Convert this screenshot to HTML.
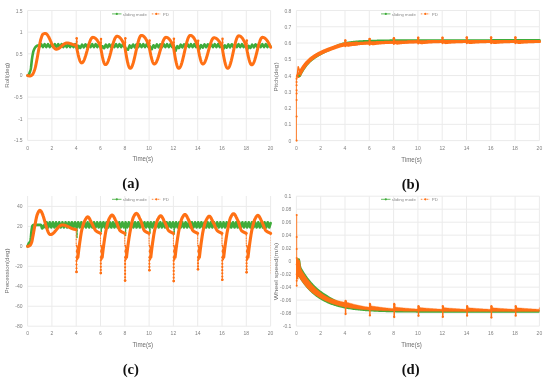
<!DOCTYPE html>
<html><head><meta charset="utf-8"><title>Figure</title>
<style>html,body{margin:0;padding:0;background:#fff;}svg{display:block;}</style></head>
<body><svg width="550" height="381" viewBox="0 0 550 381" font-family="Liberation Sans, Arial, sans-serif">
<rect width="550" height="381" fill="#fff"/>
<line x1="27.6" y1="10.5" x2="270.6" y2="10.5" stroke="#ebebeb" stroke-width="1"/>
<line x1="27.6" y1="32.15" x2="270.6" y2="32.15" stroke="#ebebeb" stroke-width="1"/>
<line x1="27.6" y1="53.8" x2="270.6" y2="53.8" stroke="#ebebeb" stroke-width="1"/>
<line x1="27.6" y1="75.45" x2="270.6" y2="75.45" stroke="#ebebeb" stroke-width="1"/>
<line x1="27.6" y1="97.1" x2="270.6" y2="97.1" stroke="#ebebeb" stroke-width="1"/>
<line x1="27.6" y1="118.75" x2="270.6" y2="118.75" stroke="#ebebeb" stroke-width="1"/>
<line x1="27.6" y1="140.4" x2="270.6" y2="140.4" stroke="#ebebeb" stroke-width="1"/>
<line x1="27.6" y1="10.5" x2="27.6" y2="140.4" stroke="#ebebeb" stroke-width="1"/>
<line x1="51.9" y1="10.5" x2="51.9" y2="140.4" stroke="#ebebeb" stroke-width="1"/>
<line x1="76.2" y1="10.5" x2="76.2" y2="140.4" stroke="#ebebeb" stroke-width="1"/>
<line x1="100.5" y1="10.5" x2="100.5" y2="140.4" stroke="#ebebeb" stroke-width="1"/>
<line x1="124.8" y1="10.5" x2="124.8" y2="140.4" stroke="#ebebeb" stroke-width="1"/>
<line x1="149.1" y1="10.5" x2="149.1" y2="140.4" stroke="#ebebeb" stroke-width="1"/>
<line x1="173.4" y1="10.5" x2="173.4" y2="140.4" stroke="#ebebeb" stroke-width="1"/>
<line x1="197.7" y1="10.5" x2="197.7" y2="140.4" stroke="#ebebeb" stroke-width="1"/>
<line x1="222" y1="10.5" x2="222" y2="140.4" stroke="#ebebeb" stroke-width="1"/>
<line x1="246.3" y1="10.5" x2="246.3" y2="140.4" stroke="#ebebeb" stroke-width="1"/>
<line x1="270.6" y1="10.5" x2="270.6" y2="140.4" stroke="#ebebeb" stroke-width="1"/>
<text x="22.6" y="12.5" font-size="5.0" text-anchor="end" fill="#808080">1.5</text>
<text x="22.6" y="34.15" font-size="5.0" text-anchor="end" fill="#808080">1</text>
<text x="22.6" y="55.8" font-size="5.0" text-anchor="end" fill="#808080">0.5</text>
<text x="22.6" y="77.45" font-size="5.0" text-anchor="end" fill="#808080">0</text>
<text x="22.6" y="99.1" font-size="5.0" text-anchor="end" fill="#808080">-0.5</text>
<text x="22.6" y="120.75" font-size="5.0" text-anchor="end" fill="#808080">-1</text>
<text x="22.6" y="142.4" font-size="5.0" text-anchor="end" fill="#808080">-1.5</text>
<text x="27.6" y="149.5" font-size="5.0" text-anchor="middle" fill="#808080">0</text>
<text x="51.9" y="149.5" font-size="5.0" text-anchor="middle" fill="#808080">2</text>
<text x="76.2" y="149.5" font-size="5.0" text-anchor="middle" fill="#808080">4</text>
<text x="100.5" y="149.5" font-size="5.0" text-anchor="middle" fill="#808080">6</text>
<text x="124.8" y="149.5" font-size="5.0" text-anchor="middle" fill="#808080">8</text>
<text x="149.1" y="149.5" font-size="5.0" text-anchor="middle" fill="#808080">10</text>
<text x="173.4" y="149.5" font-size="5.0" text-anchor="middle" fill="#808080">12</text>
<text x="197.7" y="149.5" font-size="5.0" text-anchor="middle" fill="#808080">14</text>
<text x="222" y="149.5" font-size="5.0" text-anchor="middle" fill="#808080">16</text>
<text x="246.3" y="149.5" font-size="5.0" text-anchor="middle" fill="#808080">18</text>
<text x="270.6" y="149.5" font-size="5.0" text-anchor="middle" fill="#808080">20</text>
<text x="142.8" y="161.4" font-size="6.8" text-anchor="middle" fill="#6e6e6e" textLength="20.6" lengthAdjust="spacingAndGlyphs">Time(s)</text>
<text x="0" y="0" font-size="5.7" text-anchor="middle" fill="#6e6e6e" transform="translate(9,75.3) rotate(-90)" textLength="24.8" lengthAdjust="spacingAndGlyphs">Roll(deg)</text>
<line x1="112" y1="13.9" x2="121.5" y2="13.9" stroke="#3fac3a" stroke-width="0.8"/>
<circle cx="116.8" cy="13.9" r="1.1" fill="#3fac3a"/>
<text x="122.8" y="15.6" font-size="4.4" text-anchor="start" fill="#8a8a8a" textLength="24" lengthAdjust="spacingAndGlyphs">sliding mode</text>
<line x1="151.8" y1="13.9" x2="161" y2="13.9" stroke="#ff7014" stroke-width="0.8" stroke-dasharray="1.6,1.4"/>
<circle cx="156.4" cy="13.9" r="1.1" fill="#ff7014"/>
<text x="162.8" y="15.6" font-size="4.4" text-anchor="start" fill="#8a8a8a">PD</text>
<polyline points="27.6,75.45 27.84,75.4 28.09,75.28 28.33,75.09 28.57,74.85 28.82,74.58 29.06,74.17 29.3,73.59 29.54,72.98 29.79,72.34 30.03,71.66 30.27,70.88 30.52,69.99 30.76,68.96 31,67.49 31.25,65.5 31.49,63.25 31.73,60.99 31.97,58.97 32.22,57.36 32.46,55.86 32.7,54.44 32.95,53.16 33.19,52.06 33.43,51.2 33.68,50.51 33.92,49.88 34.16,49.3 34.4,48.78 34.65,48.31 34.89,47.9 35.13,47.54 35.38,47.22 35.62,46.96 35.86,46.71 36.11,46.47 36.35,46.25 36.59,46.05 36.83,45.88 37.08,45.74 37.32,45.64 37.56,45.57 37.81,45.53 38.05,45.49 38.29,45.46 38.54,45.43 38.78,45.4 39.02,45.38 39.26,45.37 39.51,45.36 39.75,45.36 39.99,46.29 40.24,45.87 40.48,45.45 40.72,45.03 40.97,44.61 41.21,44.19 41.45,44.61 41.69,45.03 41.94,45.45 42.18,45.87 42.42,46.29 42.67,46.71 42.91,47.13 43.15,46.71 43.4,46.29 43.64,45.87 43.88,45.45 44.12,45.03 44.37,44.61 44.61,44.19 44.85,44.61 45.1,45.03 45.34,45.45 45.58,45.87 45.83,46.29 46.07,46.71 46.31,47.13 46.55,46.71 46.8,46.29 47.04,45.87 47.28,45.45 47.53,45.03 47.77,44.61 48.01,44.19 48.26,44.61 48.5,45.03 48.74,45.45 48.98,45.87 49.23,46.29 49.47,46.71 49.71,47.13 49.96,46.71 50.2,46.29 50.44,45.87 50.69,45.45 50.93,45.03 51.17,44.61 51.41,44.19 51.66,44.61 51.9,45.03 52.14,45.45 52.39,45.87 52.63,46.29 52.87,46.71 53.12,47.13 53.36,46.71 53.6,46.29 53.84,45.87 54.09,45.45 54.33,45.03 54.57,44.61 54.82,44.19 55.06,44.61 55.3,45.03 55.55,45.45 55.79,45.87 56.03,46.29 56.27,46.71 56.52,47.13 56.76,46.71 57,46.29 57.25,45.87 57.49,45.45 57.73,45.03 57.98,44.61 58.22,44.19 58.46,44.61 58.7,45.03 58.95,45.45 59.19,45.87 59.43,46.29 59.68,46.71 59.92,47.13 60.16,46.71 60.41,46.29 60.65,45.87 60.89,45.45 61.13,45.03 61.38,44.61 61.62,44.19 61.86,44.61 62.11,45.03 62.35,45.45 62.59,45.87 62.84,46.29 63.08,46.71 63.32,47.13 63.56,46.71 63.81,46.29 64.05,45.87 64.29,45.45 64.54,45.03 64.78,44.61 65.02,44.19 65.27,44.61 65.51,45.03 65.75,45.45 65.99,45.87 66.24,46.29 66.48,46.71 66.72,47.13 66.97,46.71 67.21,46.29 67.45,45.87 67.7,45.45 67.94,45.03 68.18,44.61 68.42,44.19 68.67,44.61 68.91,45.03 69.15,45.45 69.4,45.87 69.64,46.29 69.88,46.71 70.12,47.13 70.37,46.71 70.61,46.29 70.85,45.87 71.1,45.45 71.34,45.03 71.58,44.61 71.83,44.19 72.07,44.61 72.31,45.03 72.56,45.45 72.8,45.87 73.04,46.29 73.28,46.71 73.53,47.13 73.77,46.71 74.01,46.29 74.26,45.87 74.5,45.45 74.74,45.03 74.99,44.61 75.23,44.19 75.47,44.61 75.71,45.03 75.96,45.45 76.2,45.87 76.44,46.72 76.69,47.58 76.93,48.43 77.17,48.44 77.42,48.46 77.66,48.47 77.9,47.8 78.14,47.16 78.39,46.53 78.63,45.93 78.87,46.18 79.12,46.45 79.36,46.74 79.6,47.04 79.84,47.35 80.09,47.67 80.33,48 80.57,47.49 80.82,47 81.06,46.51 81.3,46.03 81.55,45.55 81.79,45.08 82.03,44.62 82.28,45 82.52,45.38 82.76,45.77 83,46.16 83.25,46.55 83.49,46.95 83.73,47.35 83.98,46.9 84.22,46.47 84.46,46.03 84.71,45.59 84.95,45.16 85.19,44.73 85.43,44.29 85.68,44.7 85.92,45.12 86.16,45.53 86.41,45.94 86.65,46.35 86.89,46.77 87.14,47.18 87.38,46.76 87.62,46.33 87.86,45.91 88.11,45.48 88.35,45.06 88.59,44.64 88.84,44.21 89.08,44.63 89.32,45.05 89.57,45.47 89.81,45.89 90.05,46.31 90.29,46.73 90.54,47.14 90.78,46.72 91.02,46.3 91.27,45.88 91.51,45.46 91.75,45.04 92,44.62 92.24,44.19 92.48,44.61 92.72,45.03 92.97,45.45 93.21,45.87 93.45,46.29 93.7,46.71 93.94,47.13 94.18,46.71 94.43,46.29 94.67,45.87 94.91,45.45 95.15,45.03 95.4,44.61 95.64,44.19 95.88,44.61 96.13,45.03 96.37,45.45 96.61,45.87 96.86,46.29 97.1,46.71 97.34,47.13 97.58,46.71 97.83,46.29 98.07,45.87 98.31,45.45 98.56,45.03 98.8,44.61 99.04,44.19 99.29,44.61 99.53,45.03 99.77,45.45 100.01,45.87 100.26,46.29 100.5,46.71 100.74,47.56 100.99,47.58 101.23,47.59 101.47,47.6 101.72,47.61 101.96,47.63 102.2,46.96 102.44,46.31 102.69,46.53 102.93,46.77 103.17,47.03 103.42,47.3 103.66,47.58 103.9,47.88 104.15,48.19 104.39,47.67 104.63,47.16 104.87,46.65 105.12,46.16 105.36,45.67 105.6,45.19 105.85,44.71 106.09,45.08 106.33,45.46 106.58,45.84 106.82,46.22 107.06,46.61 107.3,47 107.55,47.39 107.79,46.95 108.03,46.5 108.28,46.06 108.52,45.62 108.76,45.19 109,44.75 109.25,44.32 109.49,44.73 109.73,45.13 109.98,45.55 110.22,45.96 110.46,46.37 110.71,46.78 110.95,47.2 111.19,46.77 111.44,46.34 111.68,45.92 111.92,45.49 112.16,45.07 112.41,44.64 112.65,44.22 112.89,44.64 113.14,45.05 113.38,45.47 113.62,45.89 113.87,46.31 114.11,46.73 114.35,47.15 114.59,46.73 114.84,46.3 115.08,45.88 115.32,45.46 115.57,45.04 115.81,44.62 116.05,44.2 116.3,44.62 116.54,45.04 116.78,45.46 117.02,45.88 117.27,46.3 117.51,46.72 117.75,47.14 118,46.71 118.24,46.29 118.48,45.87 118.73,45.45 118.97,45.03 119.21,44.61 119.45,44.19 119.7,44.61 119.94,45.03 120.18,45.45 120.43,45.87 120.67,46.29 120.91,46.71 121.16,47.13 121.4,46.71 121.64,46.29 121.88,45.87 122.13,45.45 122.37,45.03 122.61,44.61 122.86,44.19 123.1,44.61 123.34,45.03 123.59,45.45 123.83,45.87 124.07,46.29 124.31,46.71 124.56,47.13 124.8,46.71 125.04,47.16 125.29,47.6 125.53,48.05 125.77,48.49 126.02,48.94 126.26,49.38 126.5,49.31 126.74,49.28 126.99,49.3 127.23,49.35 127.47,49.44 127.72,49.56 127.96,49.71 128.2,49.05 128.45,48.4 128.69,47.78 128.93,47.18 129.17,46.59 129.42,46.02 129.66,45.47 129.9,45.77 130.15,46.08 130.39,46.4 130.63,46.73 130.88,47.07 131.12,47.41 131.36,47.77 131.6,47.29 131.85,46.81 132.09,46.34 132.33,45.88 132.58,45.41 132.82,44.96 133.06,44.5 133.31,44.89 133.55,45.29 133.79,45.68 134.03,46.08 134.28,46.48 134.52,46.88 134.76,47.29 135.01,46.85 135.25,46.42 135.49,45.99 135.74,45.55 135.98,45.12 136.22,44.69 136.46,44.27 136.71,44.68 136.95,45.09 137.19,45.51 137.44,45.92 137.68,46.34 137.92,46.75 138.17,47.17 138.41,46.75 138.65,46.32 138.89,45.9 139.14,45.48 139.38,45.05 139.62,44.63 139.87,44.21 140.11,44.63 140.35,45.04 140.6,45.46 140.84,45.88 141.08,46.3 141.32,46.72 141.57,47.14 141.81,46.72 142.05,46.3 142.3,45.88 142.54,45.46 142.78,45.03 143.03,44.61 143.27,44.19 143.51,44.61 143.75,45.03 144,45.45 144.24,45.87 144.48,46.29 144.73,46.71 144.97,47.13 145.21,46.71 145.46,46.29 145.7,45.87 145.94,45.45 146.18,45.03 146.43,44.61 146.67,44.19 146.91,44.61 147.16,45.03 147.4,45.45 147.64,45.87 147.89,46.29 148.13,46.71 148.37,47.13 148.61,46.71 148.86,46.29 149.1,45.87 149.34,46.03 149.59,46.18 149.83,46.34 150.07,46.5 150.31,47.49 150.56,48.49 150.8,48.58 151.04,48.71 151.29,48.86 151.53,49.03 151.77,49.23 152.02,48.61 152.26,48.01 152.5,47.43 152.75,46.86 152.99,46.3 153.23,45.76 153.47,45.23 153.72,45.55 153.96,45.88 154.2,46.22 154.45,46.57 154.69,46.92 154.93,47.28 155.18,47.65 155.42,47.18 155.66,46.71 155.9,46.25 156.15,45.8 156.39,45.34 156.63,44.89 156.88,44.44 157.12,44.84 157.36,45.24 157.61,45.64 157.85,46.04 158.09,46.45 158.33,46.85 158.58,47.26 158.82,46.83 159.06,46.4 159.31,45.96 159.55,45.53 159.79,45.11 160.03,44.68 160.28,44.25 160.52,44.67 160.76,45.08 161.01,45.5 161.25,45.91 161.49,46.33 161.74,46.75 161.98,47.16 162.22,46.74 162.47,46.32 162.71,45.89 162.95,45.47 163.19,45.05 163.44,44.63 163.68,44.2 163.92,44.62 164.17,45.04 164.41,45.46 164.65,45.88 164.9,46.3 165.14,46.72 165.38,47.14 165.62,46.72 165.87,46.3 166.11,45.88 166.35,45.45 166.6,45.03 166.84,44.61 167.08,44.19 167.33,44.61 167.57,45.03 167.81,45.45 168.05,45.87 168.3,46.29 168.54,46.71 168.78,47.13 169.03,46.71 169.27,46.29 169.51,45.87 169.76,45.45 170,45.03 170.24,44.61 170.48,44.19 170.73,44.61 170.97,45.03 171.21,45.45 171.46,45.87 171.7,46.29 171.94,46.71 172.19,47.13 172.43,46.71 172.67,46.29 172.91,45.87 173.16,45.45 173.4,45.03 173.64,45.47 173.89,45.92 174.13,47.21 174.37,48.49 174.62,49.78 174.86,51.07 175.1,50.99 175.34,50.97 175.59,50.98 175.83,50.19 176.07,49.44 176.32,48.72 176.56,48.03 176.8,47.36 177.05,46.72 177.29,46.1 177.53,46.34 177.77,46.59 178.02,46.87 178.26,47.15 178.5,47.45 178.75,47.76 178.99,48.08 179.23,47.57 179.48,47.07 179.72,46.57 179.96,46.09 180.2,45.6 180.45,45.13 180.69,44.66 180.93,45.03 181.18,45.41 181.42,45.8 181.66,46.19 181.91,46.58 182.15,46.97 182.39,47.37 182.63,46.92 182.88,46.48 183.12,46.04 183.36,45.61 183.61,45.17 183.85,44.74 184.09,44.3 184.34,44.71 184.58,45.12 184.82,45.54 185.06,45.95 185.31,46.36 185.55,46.77 185.79,47.19 186.04,46.76 186.28,46.34 186.52,45.91 186.77,45.49 187.01,45.06 187.25,44.64 187.49,44.22 187.74,44.63 187.98,45.05 188.22,45.47 188.47,45.89 188.71,46.31 188.95,46.73 189.2,47.15 189.44,46.72 189.68,46.3 189.92,45.88 190.17,45.46 190.41,45.04 190.65,44.62 190.9,44.19 191.14,44.61 191.38,45.03 191.63,45.45 191.87,45.87 192.11,46.29 192.35,46.71 192.6,47.13 192.84,46.71 193.08,46.29 193.33,45.87 193.57,45.45 193.81,45.03 194.06,44.61 194.3,44.19 194.54,44.61 194.78,45.03 195.03,45.45 195.27,45.87 195.51,46.29 195.76,46.71 196,47.13 196.24,46.71 196.49,46.29 196.73,45.87 196.97,45.45 197.21,45.03 197.46,44.61 197.7,44.19 197.94,44.97 198.19,45.75 198.43,46.53 198.67,47.31 198.91,48.09 199.16,48.88 199.4,49.09 199.64,48.48 199.89,47.89 200.13,47.32 200.37,46.76 200.62,46.22 200.86,45.68 201.1,45.16 201.35,45.49 201.59,45.83 201.83,46.17 202.07,46.52 202.32,46.88 202.56,47.25 202.8,47.61 203.05,47.15 203.29,46.69 203.53,46.23 203.78,45.77 204.02,45.32 204.26,44.87 204.5,44.43 204.75,44.83 204.99,45.23 205.23,45.63 205.48,46.03 205.72,46.44 205.96,46.84 206.21,47.25 206.45,46.82 206.69,46.39 206.93,45.96 207.18,45.53 207.42,45.1 207.66,44.67 207.91,44.25 208.15,44.66 208.39,45.08 208.64,45.49 208.88,45.91 209.12,46.33 209.36,46.74 209.61,47.16 209.85,46.74 210.09,46.31 210.34,45.89 210.58,45.47 210.82,45.05 211.06,44.62 211.31,44.2 211.55,44.62 211.79,45.04 212.04,45.46 212.28,45.88 212.52,46.3 212.77,46.72 213.01,47.14 213.25,46.72 213.5,46.3 213.74,45.88 213.98,45.45 214.22,45.03 214.47,44.61 214.71,44.19 214.95,44.61 215.2,45.03 215.44,45.45 215.68,45.87 215.93,46.29 216.17,46.71 216.41,47.13 216.65,46.71 216.9,46.29 217.14,45.87 217.38,45.45 217.63,45.03 217.87,44.61 218.11,44.19 218.36,44.61 218.6,45.03 218.84,45.45 219.08,45.87 219.33,46.29 219.57,46.71 219.81,47.13 220.06,46.71 220.3,46.29 220.54,45.87 220.79,45.45 221.03,45.03 221.27,44.61 221.51,44.19 221.76,44.61 222,45.03 222.24,45.81 222.49,46.59 222.73,47.37 222.97,48.15 223.22,48.94 223.46,48.88 223.7,48.25 223.94,47.64 224.19,47.05 224.43,46.48 224.67,45.92 224.92,45.38 225.16,45.68 225.4,46 225.65,46.33 225.89,46.67 226.13,47.01 226.37,47.36 226.62,47.72 226.86,47.25 227.1,46.77 227.35,46.31 227.59,45.84 227.83,45.39 228.08,44.93 228.32,44.48 228.56,44.87 228.8,45.27 229.05,45.67 229.29,46.07 229.53,46.47 229.78,46.87 230.02,47.28 230.26,46.84 230.51,46.41 230.75,45.98 230.99,45.55 231.23,45.12 231.48,44.69 231.72,44.26 231.96,44.67 232.21,45.09 232.45,45.5 232.69,45.92 232.93,46.33 233.18,46.75 233.42,47.17 233.66,46.74 233.91,46.32 234.15,45.9 234.39,45.47 234.64,45.05 234.88,44.63 235.12,44.21 235.37,44.62 235.61,45.04 235.85,45.46 236.09,45.88 236.34,46.3 236.58,46.72 236.82,47.14 237.07,46.72 237.31,46.3 237.55,45.88 237.8,45.46 238.04,45.03 238.28,44.61 238.52,44.19 238.77,44.61 239.01,45.03 239.25,45.45 239.5,45.87 239.74,46.29 239.98,46.71 240.23,47.13 240.47,46.71 240.71,46.29 240.95,45.87 241.2,45.45 241.44,45.03 241.68,44.61 241.93,44.19 242.17,44.61 242.41,45.03 242.66,45.45 242.9,45.87 243.14,46.29 243.38,46.71 243.63,47.13 243.87,46.71 244.11,46.29 244.36,45.87 244.6,45.45 244.84,45.03 245.09,44.61 245.33,44.19 245.57,44.61 245.81,45.03 246.06,45.45 246.3,45.87 246.54,46.72 246.79,47.58 247.03,48.43 247.27,48.44 247.52,48.46 247.76,48.47 248,47.8 248.24,47.16 248.49,46.53 248.73,45.93 248.97,46.18 249.22,46.45 249.46,46.74 249.7,47.04 249.95,47.35 250.19,47.67 250.43,48 250.67,47.49 250.92,47 251.16,46.51 251.4,46.03 251.65,45.55 251.89,45.08 252.13,44.62 252.38,45 252.62,45.38 252.86,45.77 253.1,46.16 253.35,46.55 253.59,46.95 253.83,47.35 254.08,46.9 254.32,46.47 254.56,46.03 254.81,45.59 255.05,45.16 255.29,44.73 255.53,44.29 255.78,44.7 256.02,45.12 256.26,45.53 256.51,45.94 256.75,46.35 256.99,46.77 257.24,47.18 257.48,46.76 257.72,46.33 257.96,45.91 258.21,45.48 258.45,45.06 258.69,44.64 258.94,44.21 259.18,44.63 259.42,45.05 259.67,45.47 259.91,45.89 260.15,46.31 260.39,46.73 260.64,47.14 260.88,46.72 261.12,46.3 261.37,45.88 261.61,45.46 261.85,45.04 262.1,44.62 262.34,44.19 262.58,44.61 262.82,45.03 263.07,45.45 263.31,45.87 263.55,46.29 263.8,46.71 264.04,47.13 264.28,46.71 264.53,46.29 264.77,45.87 265.01,45.45 265.25,45.03 265.5,44.61 265.74,44.19 265.98,44.61 266.23,45.03 266.47,45.45 266.71,45.87 266.96,46.29 267.2,46.71 267.44,47.13 267.68,46.71 267.93,46.29 268.17,45.87 268.41,45.45 268.66,45.03 268.9,44.61 269.14,44.19 269.39,44.61 269.63,45.03 269.87,45.45 270.11,45.87 270.36,46.29 270.6,46.71" fill="none" stroke="#3fac3a" stroke-width="2.6" stroke-linejoin="round" stroke-linecap="round"/>
<polyline points="27.6,75.45 27.72,75.52 27.84,75.58 27.96,75.63 28.09,75.68 28.21,75.73 28.33,75.77 28.45,75.8 28.57,75.84 28.69,75.86 28.82,75.89 28.94,75.91 29.06,75.92 29.18,75.94 29.3,75.95 29.42,75.95 29.54,75.96 29.67,75.96 29.79,75.97 29.91,75.97 30.03,75.97 30.15,75.97 30.27,75.95 30.39,75.93 30.52,75.9 30.64,75.86 30.76,75.82 30.88,75.77 31,75.71 31.12,75.65 31.25,75.59 31.37,75.51 31.49,75.44 31.61,75.36 31.73,75.28 31.85,75.19 31.97,75.11 32.1,75.02 32.22,74.92 32.34,74.8 32.46,74.66 32.58,74.5 32.7,74.32 32.82,74.12 32.95,73.91 33.07,73.68 33.19,73.44 33.31,73.19 33.43,72.92 33.55,72.64 33.68,72.34 33.8,72.04 33.92,71.72 34.04,71.4 34.16,71.07 34.28,70.73 34.4,70.39 34.53,70.04 34.65,69.68 34.77,69.32 34.89,68.96 35.01,68.57 35.13,68.15 35.25,67.69 35.38,67.21 35.5,66.69 35.62,66.16 35.74,65.6 35.86,65.02 35.98,64.42 36.11,63.81 36.23,63.19 36.35,62.57 36.47,61.94 36.59,61.3 36.71,60.67 36.83,60.05 36.96,59.43 37.08,58.8 37.2,58.16 37.32,57.5 37.44,56.82 37.56,56.14 37.68,55.44 37.81,54.74 37.93,54.03 38.05,53.33 38.17,52.62 38.29,51.92 38.41,51.23 38.54,50.55 38.66,49.89 38.78,49.24 38.9,48.6 39.02,47.98 39.14,47.34 39.26,46.7 39.39,46.06 39.51,45.41 39.63,44.78 39.75,44.14 39.87,43.52 39.99,42.91 40.11,42.32 40.24,41.74 40.36,41.19 40.48,40.66 40.6,40.16 40.72,39.69 40.84,39.26 40.97,38.86 41.09,38.48 41.21,38.11 41.33,37.73 41.45,37.36 41.57,37 41.69,36.64 41.82,36.3 41.94,35.97 42.06,35.66 42.18,35.37 42.3,35.11 42.42,34.86 42.54,34.65 42.67,34.46 42.79,34.3 42.91,34.18 43.03,34.1 43.15,34.04 43.27,33.97 43.4,33.92 43.52,33.86 43.64,33.81 43.76,33.76 43.88,33.71 44,33.67 44.12,33.63 44.25,33.59 44.37,33.56 44.49,33.53 44.61,33.51 44.73,33.49 44.85,33.47 44.97,33.46 45.1,33.45 45.22,33.45 45.34,33.45 45.46,33.47 45.58,33.49 45.7,33.52 45.83,33.57 45.95,33.62 46.07,33.68 46.19,33.75 46.31,33.83 46.43,33.91 46.55,34.01 46.68,34.12 46.8,34.23 46.92,34.35 47.04,34.48 47.16,34.62 47.28,34.77 47.4,34.92 47.53,35.08 47.65,35.25 47.77,35.43 47.89,35.61 48.01,35.81 48.13,36 48.26,36.21 48.38,36.42 48.5,36.63 48.62,36.85 48.74,37.08 48.86,37.31 48.98,37.55 49.11,37.79 49.23,38.03 49.35,38.28 49.47,38.54 49.59,38.79 49.71,39.05 49.83,39.31 49.96,39.58 50.08,39.84 50.2,40.11 50.32,40.38 50.44,40.65 50.56,40.92 50.69,41.19 50.81,41.47 50.93,41.74 51.05,42.01 51.17,42.28 51.29,42.55 51.41,42.82 51.54,43.08 51.66,43.35 51.78,43.61 51.9,43.87 52.02,44.12 52.14,44.38 52.26,44.63 52.39,44.87 52.51,45.11 52.63,45.35 52.75,45.58 52.87,45.81 52.99,46.03 53.12,46.24 53.24,46.45 53.36,46.66 53.48,46.85 53.6,47.04 53.72,47.23 53.84,47.41 53.97,47.57 54.09,47.74 54.21,47.89 54.33,48.04 54.45,48.18 54.57,48.31 54.69,48.43 54.82,48.54 54.94,48.65 55.06,48.75 55.18,48.83 55.3,48.91 55.42,48.98 55.55,49.04 55.67,49.09 55.79,49.14 55.91,49.17 56.03,49.19 56.15,49.21 56.27,49.21 56.4,49.21 56.52,49.2 56.64,49.19 56.76,49.18 56.88,49.16 57,49.14 57.12,49.11 57.25,49.08 57.37,49.05 57.49,49.01 57.61,48.97 57.73,48.93 57.85,48.88 57.98,48.83 58.1,48.77 58.22,48.72 58.34,48.65 58.46,48.59 58.58,48.52 58.7,48.45 58.83,48.37 58.95,48.3 59.07,48.22 59.19,48.13 59.31,48.05 59.43,47.96 59.55,47.87 59.68,47.78 59.8,47.68 59.92,47.59 60.04,47.49 60.16,47.39 60.28,47.29 60.41,47.18 60.53,47.08 60.65,46.97 60.77,46.86 60.89,46.76 61.01,46.65 61.13,46.54 61.26,46.43 61.38,46.32 61.5,46.2 61.62,46.09 61.74,45.98 61.86,45.87 61.98,45.76 62.11,45.65 62.23,45.54 62.35,45.43 62.47,45.32 62.59,45.21 62.71,45.11 62.84,45 62.96,44.9 63.08,44.8 63.2,44.7 63.32,44.6 63.44,44.5 63.56,44.41 63.69,44.31 63.81,44.22 63.93,44.14 64.05,44.05 64.17,43.97 64.29,43.89 64.41,43.81 64.54,43.74 64.66,43.67 64.78,43.6 64.9,43.53 65.02,43.47 65.14,43.41 65.27,43.36 65.39,43.3 65.51,43.26 65.63,43.21 65.75,43.17 65.87,43.13 65.99,43.1 66.12,43.07 66.24,43.05 66.36,43.02 66.48,43.01 66.6,42.99 66.72,42.98 66.84,42.98 66.97,42.98 67.09,42.98 67.21,42.98 67.33,42.98 67.45,42.99 67.57,43 67.7,43.01 67.82,43.02 67.94,43.03 68.06,43.05 68.18,43.07 68.3,43.08 68.42,43.11 68.55,43.13 68.67,43.15 68.79,43.18 68.91,43.2 69.03,43.23 69.15,43.26 69.27,43.29 69.4,43.32 69.52,43.36 69.64,43.39 69.76,43.43 69.88,43.47 70,43.5 70.12,43.54 70.25,43.58 70.37,43.62 70.49,43.66 70.61,43.71 70.73,43.75 70.85,43.79 70.98,43.84 71.1,43.88 71.22,43.92 71.34,43.97 71.46,44.01 71.58,44.06 71.7,44.1 71.83,44.15 71.95,44.19 72.07,44.24 72.19,44.28 72.31,44.32 72.43,44.37 72.56,44.41 72.68,44.45 72.8,44.49 72.92,44.53 73.04,44.57 73.16,44.61 73.28,44.65 73.41,44.69 73.53,44.72 73.65,44.76 73.77,44.79 73.89,44.82 74.01,44.85 74.13,44.88 74.26,44.91 74.38,44.94 74.5,44.96 74.62,44.99 74.74,45.01 74.86,45.03 74.99,45.05 75.11,45.07 75.23,45.08 75.35,45.09 75.47,45.11 75.59,45.12 75.71,45.13 75.84,45.13 75.96,45.14 76.08,45.14 76.2,45.14 76.32,45.76 76.44,46.38 76.56,47 76.69,47.61 76.81,48.22 76.93,48.83 77.05,49.43 77.17,50.03 77.29,50.63 77.42,51.21 77.54,51.79 77.66,52.36 77.78,52.92 77.9,53.47 78.02,54.02 78.14,54.55 78.27,55.07 78.39,55.57 78.51,56.07 78.63,56.55 78.75,57.02 78.87,57.47 78.99,57.91 79.12,58.33 79.24,58.74 79.36,59.13 79.48,59.5 79.6,59.86 79.72,60.2 79.84,60.51 79.97,60.81 80.09,61.1 80.21,61.36 80.33,61.6 80.45,61.82 80.57,62.02 80.7,62.21 80.82,62.37 80.94,62.51 81.06,62.62 81.18,62.72 81.3,62.8 81.42,62.85 81.55,62.88 81.67,62.89 81.79,62.89 81.91,62.86 82.03,62.83 82.15,62.77 82.28,62.71 82.4,62.63 82.52,62.53 82.64,62.42 82.76,62.29 82.88,62.16 83,62 83.13,61.84 83.25,61.65 83.37,61.46 83.49,61.25 83.61,61.03 83.73,60.8 83.85,60.56 83.98,60.3 84.1,60.03 84.22,59.75 84.34,59.45 84.46,59.15 84.58,58.84 84.71,58.51 84.83,58.18 84.95,57.84 85.07,57.49 85.19,57.13 85.31,56.76 85.43,56.38 85.56,56 85.68,55.61 85.8,55.21 85.92,54.81 86.04,54.4 86.16,53.98 86.28,53.57 86.41,53.14 86.53,52.72 86.65,52.29 86.77,51.86 86.89,51.43 87.01,50.99 87.14,50.56 87.26,50.12 87.38,49.68 87.5,49.25 87.62,48.81 87.74,48.38 87.86,47.95 87.99,47.52 88.11,47.1 88.23,46.67 88.35,46.26 88.47,45.84 88.59,45.43 88.71,45.03 88.84,44.63 88.96,44.24 89.08,43.86 89.2,43.48 89.32,43.11 89.44,42.75 89.57,42.4 89.69,42.06 89.81,41.72 89.93,41.4 90.05,41.09 90.17,40.78 90.29,40.49 90.42,40.21 90.54,39.94 90.66,39.68 90.78,39.44 90.9,39.21 91.02,38.99 91.14,38.78 91.27,38.58 91.39,38.4 91.51,38.24 91.63,38.08 91.75,37.94 91.87,37.82 92,37.71 92.12,37.61 92.24,37.53 92.36,37.46 92.48,37.41 92.6,37.38 92.72,37.35 92.85,37.35 92.97,37.35 93.09,37.36 93.21,37.37 93.33,37.38 93.45,37.4 93.57,37.43 93.7,37.46 93.82,37.49 93.94,37.53 94.06,37.58 94.18,37.62 94.3,37.68 94.43,37.73 94.55,37.8 94.67,37.86 94.79,37.93 94.91,38.01 95.03,38.09 95.15,38.17 95.28,38.26 95.4,38.36 95.52,38.45 95.64,38.56 95.76,38.67 95.88,38.78 96,38.89 96.13,39.02 96.25,39.14 96.37,39.27 96.49,39.41 96.61,39.55 96.73,39.69 96.86,39.84 96.98,39.99 97.1,40.15 97.22,40.32 97.34,40.48 97.46,40.65 97.58,40.83 97.71,41.01 97.83,41.2 97.95,41.39 98.07,41.58 98.19,41.78 98.31,41.99 98.43,42.19 98.56,42.41 98.68,42.62 98.8,42.85 98.92,43.07 99.04,43.3 99.16,43.54 99.29,43.78 99.41,44.03 99.53,44.28 99.65,44.53 99.77,44.79 99.89,45.05 100.01,45.32 100.14,45.59 100.26,45.87 100.38,46.15 100.5,46.44 100.62,47.14 100.74,47.83 100.86,48.52 100.99,49.22 101.11,49.9 101.23,50.58 101.35,51.26 101.47,51.93 101.59,52.59 101.72,53.24 101.84,53.88 101.96,54.51 102.08,55.13 102.2,55.73 102.32,56.32 102.44,56.9 102.57,57.46 102.69,58.01 102.81,58.54 102.93,59.05 103.05,59.54 103.17,60.02 103.29,60.47 103.42,60.9 103.54,61.31 103.66,61.7 103.78,62.07 103.9,62.42 104.02,62.74 104.15,63.03 104.27,63.31 104.39,63.55 104.51,63.78 104.63,63.97 104.75,64.15 104.87,64.29 105,64.41 105.12,64.51 105.24,64.57 105.36,64.61 105.48,64.62 105.6,64.62 105.72,64.59 105.85,64.56 105.97,64.5 106.09,64.43 106.21,64.35 106.33,64.25 106.45,64.13 106.58,64 106.7,63.86 106.82,63.7 106.94,63.52 107.06,63.33 107.18,63.13 107.3,62.92 107.43,62.69 107.55,62.44 107.67,62.19 107.79,61.92 107.91,61.63 108.03,61.34 108.15,61.03 108.28,60.72 108.4,60.39 108.52,60.05 108.64,59.7 108.76,59.34 108.88,58.97 109,58.59 109.13,58.2 109.25,57.8 109.37,57.4 109.49,56.99 109.61,56.57 109.73,56.14 109.86,55.71 109.98,55.27 110.1,54.83 110.22,54.38 110.34,53.93 110.46,53.47 110.58,53.01 110.71,52.55 110.83,52.08 110.95,51.62 111.07,51.15 111.19,50.68 111.31,50.21 111.44,49.74 111.56,49.27 111.68,48.81 111.8,48.34 111.92,47.88 112.04,47.42 112.16,46.96 112.29,46.51 112.41,46.06 112.53,45.62 112.65,45.18 112.77,44.75 112.89,44.32 113.01,43.9 113.14,43.49 113.26,43.08 113.38,42.69 113.5,42.3 113.62,41.92 113.74,41.55 113.87,41.19 113.99,40.84 114.11,40.5 114.23,40.17 114.35,39.85 114.47,39.55 114.59,39.25 114.72,38.97 114.84,38.7 114.96,38.45 115.08,38.2 115.2,37.97 115.32,37.76 115.44,37.55 115.57,37.37 115.69,37.19 115.81,37.03 115.93,36.89 116.05,36.76 116.17,36.64 116.3,36.54 116.42,36.46 116.54,36.39 116.66,36.33 116.78,36.29 116.9,36.27 117.02,36.26 117.15,36.27 117.27,36.27 117.39,36.29 117.51,36.3 117.63,36.33 117.75,36.35 117.87,36.39 118,36.42 118.12,36.46 118.24,36.51 118.36,36.56 118.48,36.62 118.6,36.68 118.73,36.75 118.85,36.82 118.97,36.9 119.09,36.98 119.21,37.07 119.33,37.16 119.45,37.26 119.58,37.36 119.7,37.47 119.82,37.58 119.94,37.69 120.06,37.82 120.18,37.94 120.3,38.07 120.43,38.21 120.55,38.35 120.67,38.5 120.79,38.65 120.91,38.81 121.03,38.97 121.16,39.14 121.28,39.31 121.4,39.48 121.52,39.66 121.64,39.85 121.76,40.04 121.88,40.24 122.01,40.44 122.13,40.65 122.25,40.86 122.37,41.07 122.49,41.29 122.61,41.52 122.73,41.75 122.86,41.99 122.98,42.23 123.1,42.47 123.22,42.73 123.34,42.98 123.46,43.24 123.59,43.51 123.71,43.78 123.83,44.05 123.95,44.33 124.07,44.62 124.19,44.91 124.31,45.21 124.44,45.51 124.56,45.81 124.68,46.12 124.8,46.44 124.92,47.2 125.04,47.96 125.16,48.72 125.29,49.48 125.41,50.24 125.53,50.99 125.65,51.73 125.77,52.47 125.89,53.2 126.02,53.92 126.14,54.63 126.26,55.33 126.38,56.02 126.5,56.7 126.62,57.37 126.74,58.03 126.87,58.67 126.99,59.29 127.11,59.9 127.23,60.49 127.35,61.07 127.47,61.63 127.59,62.17 127.72,62.69 127.84,63.19 127.96,63.67 128.08,64.13 128.2,64.57 128.32,64.98 128.45,65.38 128.57,65.75 128.69,66.09 128.81,66.42 128.93,66.71 129.05,66.99 129.17,67.24 129.3,67.46 129.42,67.66 129.54,67.83 129.66,67.97 129.78,68.09 129.9,68.19 130.02,68.25 130.15,68.29 130.27,68.31 130.39,68.3 130.51,68.27 130.63,68.22 130.75,68.15 130.88,68.07 131,67.96 131.12,67.84 131.24,67.7 131.36,67.53 131.48,67.36 131.6,67.16 131.73,66.94 131.85,66.71 131.97,66.46 132.09,66.19 132.21,65.91 132.33,65.61 132.45,65.29 132.58,64.96 132.7,64.62 132.82,64.25 132.94,63.88 133.06,63.49 133.18,63.08 133.31,62.67 133.43,62.24 133.55,61.79 133.67,61.34 133.79,60.88 133.91,60.4 134.03,59.92 134.16,59.42 134.28,58.92 134.4,58.41 134.52,57.89 134.64,57.36 134.76,56.83 134.88,56.29 135.01,55.75 135.13,55.2 135.25,54.65 135.37,54.09 135.49,53.53 135.61,52.97 135.74,52.41 135.86,51.85 135.98,51.29 136.1,50.73 136.22,50.17 136.34,49.61 136.46,49.06 136.59,48.5 136.71,47.96 136.83,47.41 136.95,46.87 137.07,46.34 137.19,45.82 137.31,45.3 137.44,44.78 137.56,44.28 137.68,43.79 137.8,43.3 137.92,42.83 138.04,42.36 138.17,41.91 138.29,41.47 138.41,41.04 138.53,40.62 138.65,40.22 138.77,39.83 138.89,39.45 139.02,39.09 139.14,38.74 139.26,38.41 139.38,38.09 139.5,37.79 139.62,37.51 139.74,37.24 139.87,36.99 139.99,36.76 140.11,36.54 140.23,36.35 140.35,36.17 140.47,36.01 140.6,35.87 140.72,35.74 140.84,35.64 140.96,35.55 141.08,35.48 141.2,35.44 141.32,35.41 141.45,35.4 141.57,35.4 141.69,35.41 141.81,35.42 141.93,35.44 142.05,35.47 142.17,35.5 142.3,35.53 142.42,35.58 142.54,35.62 142.66,35.68 142.78,35.73 142.9,35.8 143.03,35.87 143.15,35.94 143.27,36.02 143.39,36.11 143.51,36.2 143.63,36.3 143.75,36.4 143.88,36.51 144,36.62 144.12,36.74 144.24,36.87 144.36,37 144.48,37.14 144.6,37.28 144.73,37.43 144.85,37.58 144.97,37.74 145.09,37.9 145.21,38.07 145.33,38.25 145.46,38.43 145.58,38.61 145.7,38.81 145.82,39 145.94,39.21 146.06,39.41 146.18,39.63 146.31,39.85 146.43,40.07 146.55,40.3 146.67,40.54 146.79,40.78 146.91,41.03 147.03,41.28 147.16,41.54 147.28,41.81 147.4,42.08 147.52,42.35 147.64,42.63 147.76,42.92 147.89,43.21 148.01,43.51 148.13,43.81 148.25,44.12 148.37,44.44 148.49,44.76 148.61,45.08 148.74,45.41 148.86,45.75 148.98,46.09 149.1,46.44 149.22,47.08 149.34,47.72 149.46,48.36 149.59,48.99 149.71,49.62 149.83,50.25 149.95,50.87 150.07,51.49 150.19,52.1 150.31,52.7 150.44,53.3 150.56,53.88 150.68,54.46 150.8,55.02 150.92,55.57 151.04,56.12 151.17,56.64 151.29,57.16 151.41,57.66 151.53,58.14 151.65,58.61 151.77,59.06 151.89,59.5 152.02,59.92 152.14,60.32 152.26,60.7 152.38,61.06 152.5,61.41 152.62,61.73 152.75,62.03 152.87,62.32 152.99,62.58 153.11,62.82 153.23,63.04 153.35,63.23 153.47,63.41 153.6,63.56 153.72,63.68 153.84,63.79 153.96,63.87 154.08,63.93 154.2,63.96 154.32,63.98 154.45,63.97 154.57,63.95 154.69,63.91 154.81,63.86 154.93,63.8 155.05,63.72 155.18,63.63 155.3,63.52 155.42,63.4 155.54,63.27 155.66,63.12 155.78,62.96 155.9,62.79 156.03,62.6 156.15,62.4 156.27,62.19 156.39,61.97 156.51,61.73 156.63,61.48 156.75,61.22 156.88,60.95 157,60.67 157.12,60.38 157.24,60.08 157.36,59.76 157.48,59.44 157.61,59.11 157.73,58.77 157.85,58.42 157.97,58.06 158.09,57.69 158.21,57.32 158.33,56.94 158.46,56.55 158.58,56.16 158.7,55.76 158.82,55.35 158.94,54.94 159.06,54.53 159.18,54.11 159.31,53.68 159.43,53.26 159.55,52.83 159.67,52.4 159.79,51.97 159.91,51.53 160.03,51.1 160.16,50.66 160.28,50.23 160.4,49.79 160.52,49.36 160.64,48.92 160.76,48.49 160.89,48.06 161.01,47.64 161.13,47.21 161.25,46.8 161.37,46.38 161.49,45.97 161.61,45.57 161.74,45.17 161.86,44.77 161.98,44.38 162.1,44 162.22,43.63 162.34,43.26 162.47,42.91 162.59,42.56 162.71,42.21 162.83,41.88 162.95,41.56 163.07,41.25 163.19,40.94 163.32,40.65 163.44,40.37 163.56,40.1 163.68,39.84 163.8,39.59 163.92,39.35 164.04,39.13 164.17,38.92 164.29,38.72 164.41,38.53 164.53,38.36 164.65,38.2 164.77,38.05 164.9,37.92 165.02,37.8 165.14,37.69 165.26,37.6 165.38,37.52 165.5,37.46 165.62,37.41 165.75,37.37 165.87,37.35 165.99,37.35 166.11,37.35 166.23,37.36 166.35,37.37 166.47,37.39 166.6,37.41 166.72,37.43 166.84,37.47 166.96,37.5 167.08,37.54 167.2,37.59 167.33,37.64 167.45,37.7 167.57,37.76 167.69,37.82 167.81,37.9 167.93,37.97 168.05,38.05 168.18,38.14 168.3,38.23 168.42,38.32 168.54,38.42 168.66,38.53 168.78,38.64 168.9,38.75 169.03,38.87 169.15,39 169.27,39.13 169.39,39.26 169.51,39.4 169.63,39.55 169.76,39.69 169.88,39.85 170,40.01 170.12,40.17 170.24,40.34 170.36,40.51 170.48,40.69 170.61,40.87 170.73,41.06 170.85,41.26 170.97,41.45 171.09,41.66 171.21,41.86 171.33,42.08 171.46,42.29 171.58,42.52 171.7,42.74 171.82,42.98 171.94,43.21 172.06,43.46 172.19,43.7 172.31,43.95 172.43,44.21 172.55,44.47 172.67,44.74 172.79,45.01 172.91,45.29 173.04,45.57 173.16,45.85 173.28,46.14 173.4,46.44 173.52,47.22 173.64,48 173.76,48.78 173.89,49.55 174.01,50.32 174.13,51.09 174.25,51.85 174.37,52.6 174.49,53.34 174.62,54.08 174.74,54.81 174.86,55.52 174.98,56.23 175.1,56.92 175.22,57.6 175.34,58.26 175.47,58.91 175.59,59.54 175.71,60.16 175.83,60.76 175.95,61.34 176.07,61.9 176.19,62.44 176.32,62.96 176.44,63.47 176.56,63.94 176.68,64.4 176.8,64.83 176.92,65.24 177.05,65.63 177.17,65.99 177.29,66.33 177.41,66.64 177.53,66.93 177.65,67.19 177.77,67.42 177.9,67.63 178.02,67.81 178.14,67.96 178.26,68.08 178.38,68.18 178.5,68.25 178.62,68.29 178.75,68.31 178.87,68.3 178.99,68.27 179.11,68.22 179.23,68.16 179.35,68.08 179.48,67.98 179.6,67.87 179.72,67.73 179.84,67.58 179.96,67.41 180.08,67.23 180.2,67.03 180.33,66.81 180.45,66.57 180.57,66.32 180.69,66.06 180.81,65.77 180.93,65.48 181.05,65.16 181.18,64.84 181.3,64.49 181.42,64.14 181.54,63.77 181.66,63.39 181.78,63 181.91,62.59 182.03,62.17 182.15,61.74 182.27,61.3 182.39,60.85 182.51,60.39 182.63,59.92 182.76,59.44 182.88,58.96 183,58.46 183.12,57.96 183.24,57.45 183.36,56.94 183.48,56.42 183.61,55.89 183.73,55.36 183.85,54.83 183.97,54.29 184.09,53.75 184.21,53.21 184.34,52.67 184.46,52.12 184.58,51.58 184.7,51.04 184.82,50.49 184.94,49.95 185.06,49.41 185.19,48.88 185.31,48.34 185.43,47.81 185.55,47.29 185.67,46.77 185.79,46.25 185.91,45.74 186.04,45.24 186.16,44.75 186.28,44.26 186.4,43.78 186.52,43.31 186.64,42.85 186.77,42.4 186.89,41.96 187.01,41.53 187.13,41.11 187.25,40.71 187.37,40.31 187.49,39.93 187.62,39.56 187.74,39.21 187.86,38.87 187.98,38.54 188.1,38.23 188.22,37.93 188.34,37.65 188.47,37.38 188.59,37.13 188.71,36.89 188.83,36.68 188.95,36.47 189.07,36.29 189.2,36.12 189.32,35.97 189.44,35.84 189.56,35.72 189.68,35.62 189.8,35.54 189.92,35.48 190.05,35.43 190.17,35.41 190.29,35.4 190.41,35.4 190.53,35.41 190.65,35.42 190.77,35.44 190.9,35.47 191.02,35.5 191.14,35.54 191.26,35.59 191.38,35.64 191.5,35.69 191.63,35.76 191.75,35.82 191.87,35.9 191.99,35.98 192.11,36.07 192.23,36.16 192.35,36.26 192.48,36.36 192.6,36.47 192.72,36.58 192.84,36.71 192.96,36.83 193.08,36.97 193.2,37.11 193.33,37.25 193.45,37.4 193.57,37.56 193.69,37.72 193.81,37.89 193.93,38.07 194.06,38.25 194.18,38.44 194.3,38.63 194.42,38.83 194.54,39.03 194.66,39.24 194.78,39.46 194.91,39.68 195.03,39.91 195.15,40.15 195.27,40.39 195.39,40.63 195.51,40.88 195.63,41.14 195.76,41.41 195.88,41.68 196,41.95 196.12,42.23 196.24,42.52 196.36,42.82 196.49,43.12 196.61,43.42 196.73,43.73 196.85,44.05 196.97,44.37 197.09,44.7 197.21,45.04 197.34,45.38 197.46,45.73 197.58,46.08 197.7,46.44 197.82,47.08 197.94,47.72 198.06,48.36 198.19,48.99 198.31,49.62 198.43,50.25 198.55,50.87 198.67,51.49 198.79,52.1 198.91,52.7 199.04,53.3 199.16,53.88 199.28,54.46 199.4,55.02 199.52,55.57 199.64,56.12 199.77,56.64 199.89,57.16 200.01,57.66 200.13,58.14 200.25,58.61 200.37,59.06 200.49,59.5 200.62,59.92 200.74,60.32 200.86,60.7 200.98,61.06 201.1,61.41 201.22,61.73 201.35,62.03 201.47,62.32 201.59,62.58 201.71,62.82 201.83,63.04 201.95,63.23 202.07,63.41 202.2,63.56 202.32,63.68 202.44,63.79 202.56,63.87 202.68,63.93 202.8,63.96 202.92,63.98 203.05,63.97 203.17,63.94 203.29,63.91 203.41,63.85 203.53,63.78 203.65,63.7 203.78,63.59 203.9,63.48 204.02,63.35 204.14,63.2 204.26,63.04 204.38,62.87 204.5,62.68 204.63,62.48 204.75,62.26 204.87,62.03 204.99,61.78 205.11,61.53 205.23,61.26 205.35,60.98 205.48,60.68 205.6,60.38 205.72,60.06 205.84,59.73 205.96,59.39 206.08,59.04 206.21,58.69 206.33,58.32 206.45,57.94 206.57,57.56 206.69,57.16 206.81,56.76 206.93,56.36 207.06,55.94 207.18,55.52 207.3,55.1 207.42,54.67 207.54,54.23 207.66,53.79 207.78,53.35 207.91,52.9 208.03,52.46 208.15,52.01 208.27,51.56 208.39,51.1 208.51,50.65 208.64,50.2 208.76,49.75 208.88,49.3 209,48.85 209.12,48.41 209.24,47.96 209.36,47.52 209.49,47.09 209.61,46.66 209.73,46.23 209.85,45.81 209.97,45.4 210.09,44.99 210.21,44.59 210.34,44.2 210.46,43.81 210.58,43.44 210.7,43.07 210.82,42.71 210.94,42.36 211.06,42.02 211.19,41.7 211.31,41.38 211.43,41.07 211.55,40.78 211.67,40.5 211.79,40.23 211.92,39.97 212.04,39.73 212.16,39.5 212.28,39.28 212.4,39.08 212.52,38.89 212.64,38.71 212.77,38.55 212.89,38.41 213.01,38.28 213.13,38.16 213.25,38.06 213.37,37.97 213.5,37.9 213.62,37.85 213.74,37.81 213.86,37.79 213.98,37.78 214.1,37.78 214.22,37.79 214.35,37.8 214.47,37.81 214.59,37.83 214.71,37.85 214.83,37.88 214.95,37.91 215.07,37.94 215.2,37.98 215.32,38.02 215.44,38.07 215.56,38.11 215.68,38.17 215.8,38.23 215.93,38.29 216.05,38.35 216.17,38.42 216.29,38.5 216.41,38.57 216.53,38.66 216.65,38.74 216.78,38.83 216.9,38.92 217.02,39.02 217.14,39.12 217.26,39.23 217.38,39.34 217.5,39.45 217.63,39.57 217.75,39.69 217.87,39.81 217.99,39.94 218.11,40.08 218.23,40.21 218.36,40.36 218.48,40.5 218.6,40.65 218.72,40.8 218.84,40.96 218.96,41.12 219.08,41.29 219.21,41.45 219.33,41.63 219.45,41.8 219.57,41.99 219.69,42.17 219.81,42.36 219.93,42.55 220.06,42.75 220.18,42.95 220.3,43.15 220.42,43.36 220.54,43.58 220.66,43.79 220.79,44.01 220.91,44.24 221.03,44.47 221.15,44.7 221.27,44.94 221.39,45.18 221.51,45.42 221.64,45.67 221.76,45.92 221.88,46.18 222,46.44 222.12,47.17 222.24,47.9 222.36,48.63 222.49,49.35 222.61,50.08 222.73,50.79 222.85,51.51 222.97,52.22 223.09,52.92 223.22,53.61 223.34,54.3 223.46,54.98 223.58,55.64 223.7,56.3 223.82,56.95 223.94,57.58 224.07,58.2 224.19,58.81 224.31,59.41 224.43,59.99 224.55,60.56 224.67,61.11 224.79,61.64 224.92,62.16 225.04,62.66 225.16,63.14 225.28,63.6 225.4,64.04 225.52,64.47 225.65,64.87 225.77,65.25 225.89,65.61 226.01,65.96 226.13,66.27 226.25,66.57 226.37,66.84 226.5,67.1 226.62,67.32 226.74,67.53 226.86,67.71 226.98,67.87 227.1,68 227.22,68.11 227.35,68.2 227.47,68.26 227.59,68.29 227.71,68.31 227.83,68.3 227.95,68.27 228.08,68.22 228.2,68.15 228.32,68.06 228.44,67.96 228.56,67.83 228.68,67.69 228.8,67.53 228.93,67.35 229.05,67.15 229.17,66.93 229.29,66.7 229.41,66.45 229.53,66.18 229.65,65.89 229.78,65.59 229.9,65.27 230.02,64.94 230.14,64.59 230.26,64.22 230.38,63.84 230.51,63.45 230.63,63.04 230.75,62.62 230.87,62.19 230.99,61.75 231.11,61.29 231.23,60.83 231.36,60.35 231.48,59.86 231.6,59.36 231.72,58.86 231.84,58.35 231.96,57.83 232.08,57.3 232.21,56.76 232.33,56.23 232.45,55.68 232.57,55.13 232.69,54.58 232.81,54.03 232.93,53.47 233.06,52.91 233.18,52.35 233.3,51.79 233.42,51.23 233.54,50.67 233.66,50.11 233.79,49.56 233.91,49 234.03,48.45 234.15,47.91 234.27,47.37 234.39,46.84 234.51,46.31 234.64,45.79 234.76,45.28 234.88,44.77 235,44.28 235.12,43.79 235.24,43.31 235.37,42.84 235.49,42.39 235.61,41.94 235.73,41.51 235.85,41.09 235.97,40.69 236.09,40.29 236.22,39.91 236.34,39.55 236.46,39.2 236.58,38.87 236.7,38.55 236.82,38.25 236.94,37.96 237.07,37.69 237.19,37.44 237.31,37.2 237.43,36.99 237.55,36.79 237.67,36.61 237.8,36.45 237.92,36.3 238.04,36.18 238.16,36.07 238.28,35.99 238.4,35.92 238.52,35.87 238.65,35.84 238.77,35.83 238.89,35.83 239.01,35.84 239.13,35.86 239.25,35.87 239.37,35.9 239.5,35.93 239.62,35.97 239.74,36.01 239.86,36.05 239.98,36.11 240.1,36.16 240.23,36.23 240.35,36.3 240.47,36.37 240.59,36.45 240.71,36.54 240.83,36.63 240.95,36.72 241.08,36.83 241.2,36.93 241.32,37.05 241.44,37.17 241.56,37.29 241.68,37.42 241.8,37.56 241.93,37.7 242.05,37.84 242.17,37.99 242.29,38.15 242.41,38.31 242.53,38.48 242.66,38.66 242.78,38.84 242.9,39.02 243.02,39.21 243.14,39.41 243.26,39.61 243.38,39.82 243.51,40.03 243.63,40.25 243.75,40.47 243.87,40.7 243.99,40.93 244.11,41.17 244.23,41.42 244.36,41.67 244.48,41.93 244.6,42.19 244.72,42.46 244.84,42.73 244.96,43.01 245.09,43.29 245.21,43.58 245.33,43.88 245.45,44.18 245.57,44.49 245.69,44.8 245.81,45.11 245.94,45.44 246.06,45.77 246.18,46.1 246.3,46.44 246.42,47.08 246.54,47.72 246.66,48.36 246.79,49 246.91,49.63 247.03,50.27 247.15,50.89 247.27,51.51 247.39,52.13 247.52,52.73 247.64,53.33 247.76,53.92 247.88,54.51 248,55.08 248.12,55.64 248.24,56.19 248.37,56.73 248.49,57.26 248.61,57.77 248.73,58.27 248.85,58.75 248.97,59.22 249.09,59.68 249.22,60.11 249.34,60.54 249.46,60.94 249.58,61.33 249.7,61.7 249.82,62.05 249.95,62.38 250.07,62.69 250.19,62.98 250.31,63.25 250.43,63.5 250.55,63.73 250.67,63.94 250.8,64.13 250.92,64.29 251.04,64.44 251.16,64.56 251.28,64.66 251.4,64.74 251.52,64.8 251.65,64.83 251.77,64.84 251.89,64.83 252.01,64.81 252.13,64.76 252.25,64.7 252.38,64.62 252.5,64.53 252.62,64.41 252.74,64.28 252.86,64.14 252.98,63.97 253.1,63.8 253.23,63.6 253.35,63.39 253.47,63.16 253.59,62.92 253.71,62.66 253.83,62.39 253.95,62.1 254.08,61.8 254.2,61.48 254.32,61.16 254.44,60.81 254.56,60.46 254.68,60.1 254.81,59.72 254.93,59.33 255.05,58.93 255.17,58.53 255.29,58.11 255.41,57.68 255.53,57.25 255.66,56.8 255.78,56.35 255.9,55.9 256.02,55.44 256.14,54.97 256.26,54.49 256.38,54.02 256.51,53.53 256.63,53.05 256.75,52.56 256.87,52.07 256.99,51.58 257.11,51.09 257.24,50.6 257.36,50.11 257.48,49.62 257.6,49.14 257.72,48.65 257.84,48.17 257.96,47.69 258.09,47.22 258.21,46.75 258.33,46.29 258.45,45.83 258.57,45.38 258.69,44.94 258.81,44.51 258.94,44.08 259.06,43.66 259.18,43.25 259.3,42.86 259.42,42.47 259.54,42.09 259.67,41.73 259.79,41.37 259.91,41.03 260.03,40.7 260.15,40.39 260.27,40.09 260.39,39.8 260.52,39.53 260.64,39.27 260.76,39.03 260.88,38.8 261,38.59 261.12,38.39 261.24,38.21 261.37,38.05 261.49,37.9 261.61,37.77 261.73,37.66 261.85,37.56 261.97,37.49 262.1,37.42 262.22,37.38 262.34,37.35 262.46,37.35 262.58,37.35 262.7,37.35 262.82,37.37 262.95,37.38 263.07,37.4 263.19,37.43 263.31,37.45 263.43,37.49 263.55,37.53 263.67,37.57 263.8,37.61 263.92,37.67 264.04,37.72 264.16,37.78 264.28,37.85 264.4,37.91 264.53,37.99 264.65,38.06 264.77,38.15 264.89,38.23 265.01,38.32 265.13,38.42 265.25,38.52 265.38,38.62 265.5,38.73 265.62,38.85 265.74,38.96 265.86,39.09 265.98,39.21 266.1,39.34 266.23,39.48 266.35,39.62 266.47,39.76 266.59,39.91 266.71,40.06 266.83,40.22 266.96,40.38 267.08,40.55 267.2,40.72 267.32,40.9 267.44,41.08 267.56,41.26 267.68,41.45 267.81,41.64 267.93,41.84 268.05,42.04 268.17,42.25 268.29,42.46 268.41,42.67 268.53,42.89 268.66,43.12 268.78,43.34 268.9,43.58 269.02,43.82 269.14,44.06 269.26,44.3 269.39,44.55 269.51,44.81 269.63,45.07 269.75,45.33 269.87,45.6 269.99,45.87 270.11,46.15 270.24,46.43 270.36,46.72 270.48,47.01 270.6,47.3" fill="none" stroke="#ff7014" stroke-width="3.0" stroke-linejoin="round" stroke-linecap="round"/>
<line x1="76.7" y1="45.14" x2="76.7" y2="38.21" stroke="#ff7014" stroke-width="1.5"/>
<circle cx="76.7" cy="38.21" r="1.25" fill="#ff7014"/>
<circle cx="76.7" cy="41.68" r="1.0" fill="#ff7014"/>
<line x1="101" y1="46.44" x2="101" y2="39.08" stroke="#ff7014" stroke-width="1.5"/>
<circle cx="101" cy="39.08" r="1.25" fill="#ff7014"/>
<circle cx="101" cy="42.76" r="1.0" fill="#ff7014"/>
<line x1="125.3" y1="46.44" x2="125.3" y2="38.21" stroke="#ff7014" stroke-width="1.5"/>
<circle cx="125.3" cy="38.21" r="1.25" fill="#ff7014"/>
<circle cx="125.3" cy="42.33" r="1.0" fill="#ff7014"/>
<line x1="149.6" y1="46.44" x2="149.6" y2="40.38" stroke="#ff7014" stroke-width="1.5"/>
<circle cx="149.6" cy="40.38" r="1.25" fill="#ff7014"/>
<circle cx="149.6" cy="43.41" r="1.0" fill="#ff7014"/>
<line x1="173.9" y1="46.44" x2="173.9" y2="38.64" stroke="#ff7014" stroke-width="1.5"/>
<circle cx="173.9" cy="38.64" r="1.25" fill="#ff7014"/>
<circle cx="173.9" cy="42.54" r="1.0" fill="#ff7014"/>
<line x1="198.2" y1="46.44" x2="198.2" y2="40.81" stroke="#ff7014" stroke-width="1.5"/>
<circle cx="198.2" cy="40.81" r="1.25" fill="#ff7014"/>
<circle cx="198.2" cy="43.62" r="1.0" fill="#ff7014"/>
<line x1="222.5" y1="46.44" x2="222.5" y2="38.64" stroke="#ff7014" stroke-width="1.5"/>
<circle cx="222.5" cy="38.64" r="1.25" fill="#ff7014"/>
<circle cx="222.5" cy="42.54" r="1.0" fill="#ff7014"/>
<line x1="246.8" y1="46.44" x2="246.8" y2="40.38" stroke="#ff7014" stroke-width="1.5"/>
<circle cx="246.8" cy="40.38" r="1.25" fill="#ff7014"/>
<circle cx="246.8" cy="43.41" r="1.0" fill="#ff7014"/>
<line x1="296.4" y1="10.5" x2="539.4" y2="10.5" stroke="#ebebeb" stroke-width="1"/>
<line x1="296.4" y1="26.76" x2="539.4" y2="26.76" stroke="#ebebeb" stroke-width="1"/>
<line x1="296.4" y1="43.03" x2="539.4" y2="43.03" stroke="#ebebeb" stroke-width="1"/>
<line x1="296.4" y1="59.29" x2="539.4" y2="59.29" stroke="#ebebeb" stroke-width="1"/>
<line x1="296.4" y1="75.55" x2="539.4" y2="75.55" stroke="#ebebeb" stroke-width="1"/>
<line x1="296.4" y1="91.81" x2="539.4" y2="91.81" stroke="#ebebeb" stroke-width="1"/>
<line x1="296.4" y1="108.08" x2="539.4" y2="108.08" stroke="#ebebeb" stroke-width="1"/>
<line x1="296.4" y1="124.34" x2="539.4" y2="124.34" stroke="#ebebeb" stroke-width="1"/>
<line x1="296.4" y1="140.6" x2="539.4" y2="140.6" stroke="#ebebeb" stroke-width="1"/>
<line x1="296.4" y1="10.5" x2="296.4" y2="140.6" stroke="#ebebeb" stroke-width="1"/>
<line x1="320.7" y1="10.5" x2="320.7" y2="140.6" stroke="#ebebeb" stroke-width="1"/>
<line x1="345" y1="10.5" x2="345" y2="140.6" stroke="#ebebeb" stroke-width="1"/>
<line x1="369.3" y1="10.5" x2="369.3" y2="140.6" stroke="#ebebeb" stroke-width="1"/>
<line x1="393.6" y1="10.5" x2="393.6" y2="140.6" stroke="#ebebeb" stroke-width="1"/>
<line x1="417.9" y1="10.5" x2="417.9" y2="140.6" stroke="#ebebeb" stroke-width="1"/>
<line x1="442.2" y1="10.5" x2="442.2" y2="140.6" stroke="#ebebeb" stroke-width="1"/>
<line x1="466.5" y1="10.5" x2="466.5" y2="140.6" stroke="#ebebeb" stroke-width="1"/>
<line x1="490.8" y1="10.5" x2="490.8" y2="140.6" stroke="#ebebeb" stroke-width="1"/>
<line x1="515.1" y1="10.5" x2="515.1" y2="140.6" stroke="#ebebeb" stroke-width="1"/>
<line x1="539.4" y1="10.5" x2="539.4" y2="140.6" stroke="#ebebeb" stroke-width="1"/>
<text x="291.4" y="12.5" font-size="5.0" text-anchor="end" fill="#808080">0.8</text>
<text x="291.4" y="28.76" font-size="5.0" text-anchor="end" fill="#808080">0.7</text>
<text x="291.4" y="45.03" font-size="5.0" text-anchor="end" fill="#808080">0.6</text>
<text x="291.4" y="61.29" font-size="5.0" text-anchor="end" fill="#808080">0.5</text>
<text x="291.4" y="77.55" font-size="5.0" text-anchor="end" fill="#808080">0.4</text>
<text x="291.4" y="93.81" font-size="5.0" text-anchor="end" fill="#808080">0.3</text>
<text x="291.4" y="110.08" font-size="5.0" text-anchor="end" fill="#808080">0.2</text>
<text x="291.4" y="126.34" font-size="5.0" text-anchor="end" fill="#808080">0.1</text>
<text x="291.4" y="142.6" font-size="5.0" text-anchor="end" fill="#808080">0</text>
<text x="296.4" y="149.7" font-size="5.0" text-anchor="middle" fill="#808080">0</text>
<text x="320.7" y="149.7" font-size="5.0" text-anchor="middle" fill="#808080">2</text>
<text x="345" y="149.7" font-size="5.0" text-anchor="middle" fill="#808080">4</text>
<text x="369.3" y="149.7" font-size="5.0" text-anchor="middle" fill="#808080">6</text>
<text x="393.6" y="149.7" font-size="5.0" text-anchor="middle" fill="#808080">8</text>
<text x="417.9" y="149.7" font-size="5.0" text-anchor="middle" fill="#808080">10</text>
<text x="442.2" y="149.7" font-size="5.0" text-anchor="middle" fill="#808080">12</text>
<text x="466.5" y="149.7" font-size="5.0" text-anchor="middle" fill="#808080">14</text>
<text x="490.8" y="149.7" font-size="5.0" text-anchor="middle" fill="#808080">16</text>
<text x="515.1" y="149.7" font-size="5.0" text-anchor="middle" fill="#808080">18</text>
<text x="539.4" y="149.7" font-size="5.0" text-anchor="middle" fill="#808080">20</text>
<text x="411.6" y="161.6" font-size="6.8" text-anchor="middle" fill="#6e6e6e" textLength="20.6" lengthAdjust="spacingAndGlyphs">Time(s)</text>
<text x="0" y="0" font-size="5.7" text-anchor="middle" fill="#6e6e6e" transform="translate(278.4,77) rotate(-90)" textLength="29" lengthAdjust="spacingAndGlyphs">Pitch(deg)</text>
<line x1="381" y1="13.9" x2="390.5" y2="13.9" stroke="#3fac3a" stroke-width="0.8"/>
<circle cx="385.8" cy="13.9" r="1.1" fill="#3fac3a"/>
<text x="391.8" y="15.6" font-size="4.4" text-anchor="start" fill="#8a8a8a" textLength="24" lengthAdjust="spacingAndGlyphs">sliding mode</text>
<line x1="420.8" y1="13.9" x2="430" y2="13.9" stroke="#ff7014" stroke-width="0.8" stroke-dasharray="1.6,1.4"/>
<circle cx="425.4" cy="13.9" r="1.1" fill="#ff7014"/>
<text x="431.8" y="15.6" font-size="4.4" text-anchor="start" fill="#8a8a8a">PD</text>
<polyline points="299.44,75.88 300.04,74.74 300.65,73.64 301.26,72.57 301.87,71.53 302.47,70.52 303.08,69.55 303.69,68.61 304.3,67.7 304.9,66.84 305.51,66.01 306.12,65.22 306.73,64.47 307.33,63.76 307.94,63.09 308.55,62.46 309.16,61.86 309.76,61.29 310.37,60.74 310.98,60.22 311.59,59.73 312.19,59.25 312.8,58.78 313.41,58.33 314.02,57.89 314.62,57.46 315.23,57.04 315.84,56.64 316.45,56.25 317.05,55.86 317.66,55.49 318.27,55.13 318.88,54.78 319.48,54.43 320.09,54.09 320.7,53.76 321.31,53.43 321.91,53.11 322.52,52.79 323.13,52.48 323.74,52.17 324.34,51.87 324.95,51.57 325.56,51.28 326.17,50.99 326.77,50.71 327.38,50.43 327.99,50.15 328.6,49.88 329.2,49.61 329.81,49.34 330.42,49.08 331.03,48.82 331.63,48.56 332.24,48.3 332.85,48.03 333.46,47.76 334.06,47.49 334.67,47.22 335.28,46.95 335.89,46.69 336.49,46.42 337.1,46.16 337.71,45.9 338.32,45.65 338.92,45.4 339.53,45.16 340.14,44.93 340.75,44.71 341.35,44.5 341.96,44.3 342.57,44.12 343.18,43.94 343.78,43.78 344.39,43.64 345,43.51 345.61,43.4 346.21,43.28 346.82,43.17 347.43,43.07 348.04,42.97 348.64,42.87 349.25,42.78 349.86,42.69 350.47,42.6 351.07,42.52 351.68,42.44 352.29,42.36 352.9,42.29 353.5,42.22 354.11,42.16 354.72,42.1 355.33,42.04 355.93,41.99 356.54,41.93 357.15,41.89 357.76,41.84 358.36,41.8 358.97,41.75 359.58,41.71 360.19,41.67 360.79,41.63 361.4,41.6 362.01,41.56 362.62,41.53 363.22,41.49 363.83,41.46 364.44,41.43 365.05,41.4 365.65,41.37 366.26,41.35 366.87,41.32 367.48,41.3 368.08,41.28 368.69,41.26 369.3,41.24 369.91,41.22 370.51,41.2 371.12,41.18 371.73,41.16 372.34,41.14 372.94,41.13 373.55,41.11 374.16,41.09 374.77,41.08 375.37,41.06 375.98,41.04 376.59,41.03 377.2,41.01 377.8,41 378.41,40.98 379.02,40.97 379.63,40.95 380.23,40.94 380.84,40.92 381.45,40.91 382.06,40.9 382.66,40.89 383.27,40.87 383.88,40.86 384.49,40.85 385.09,40.84 385.7,40.83 386.31,40.82 386.92,40.81 387.52,40.8 388.13,40.79 388.74,40.79 389.35,40.78 389.95,40.77 390.56,40.77 391.17,40.76 391.78,40.76 392.38,40.75 392.99,40.75 393.6,40.75 394.21,40.75 394.81,40.74 395.42,40.74 396.03,40.74 396.64,40.74 397.24,40.73 397.85,40.73 398.46,40.73 399.07,40.73 399.67,40.73 400.28,40.72 400.89,40.72 401.5,40.72 402.1,40.72 402.71,40.71 403.32,40.71 403.93,40.71 404.53,40.71 405.14,40.71 405.75,40.7 406.36,40.7 406.96,40.7 407.57,40.7 408.18,40.7 408.79,40.69 409.39,40.69 410,40.69 410.61,40.69 411.22,40.69 411.82,40.68 412.43,40.68 413.04,40.68 413.65,40.68 414.25,40.68 414.86,40.67 415.47,40.67 416.08,40.67 416.68,40.67 417.29,40.67 417.9,40.67 418.51,40.66 419.11,40.66 419.72,40.66 420.33,40.66 420.94,40.66 421.54,40.65 422.15,40.65 422.76,40.65 423.37,40.65 423.97,40.65 424.58,40.65 425.19,40.64 425.8,40.64 426.4,40.64 427.01,40.64 427.62,40.64 428.23,40.64 428.83,40.63 429.44,40.63 430.05,40.63 430.66,40.63 431.26,40.63 431.87,40.63 432.48,40.63 433.09,40.62 433.69,40.62 434.3,40.62 434.91,40.62 435.52,40.62 436.12,40.62 436.73,40.61 437.34,40.61 437.95,40.61 438.55,40.61 439.16,40.61 439.77,40.61 440.38,40.61 440.98,40.6 441.59,40.6 442.2,40.6 442.81,40.6 443.41,40.6 444.02,40.6 444.63,40.6 445.24,40.6 445.84,40.59 446.45,40.59 447.06,40.59 447.67,40.59 448.27,40.59 448.88,40.59 449.49,40.59 450.1,40.59 450.7,40.58 451.31,40.58 451.92,40.58 452.53,40.58 453.13,40.58 453.74,40.58 454.35,40.58 454.96,40.58 455.56,40.58 456.17,40.57 456.78,40.57 457.39,40.57 457.99,40.57 458.6,40.57 459.21,40.57 459.82,40.57 460.42,40.57 461.03,40.57 461.64,40.56 462.25,40.56 462.85,40.56 463.46,40.56 464.07,40.56 464.68,40.56 465.28,40.56 465.89,40.56 466.5,40.56 467.11,40.56 467.71,40.55 468.32,40.55 468.93,40.55 469.54,40.55 470.14,40.55 470.75,40.55 471.36,40.55 471.97,40.55 472.57,40.55 473.18,40.55 473.79,40.55 474.4,40.55 475,40.54 475.61,40.54 476.22,40.54 476.83,40.54 477.43,40.54 478.04,40.54 478.65,40.54 479.26,40.54 479.86,40.54 480.47,40.54 481.08,40.54 481.69,40.54 482.29,40.54 482.9,40.53 483.51,40.53 484.12,40.53 484.72,40.53 485.33,40.53 485.94,40.53 486.55,40.53 487.15,40.53 487.76,40.53 488.37,40.53 488.98,40.53 489.58,40.53 490.19,40.53 490.8,40.53 491.41,40.53 492.01,40.53 492.62,40.52 493.23,40.52 493.84,40.52 494.44,40.52 495.05,40.52 495.66,40.52 496.27,40.52 496.87,40.52 497.48,40.52 498.09,40.52 498.7,40.52 499.3,40.52 499.91,40.52 500.52,40.52 501.13,40.52 501.73,40.52 502.34,40.52 502.95,40.52 503.56,40.52 504.16,40.52 504.77,40.52 505.38,40.51 505.99,40.51 506.59,40.51 507.2,40.51 507.81,40.51 508.42,40.51 509.02,40.51 509.63,40.51 510.24,40.51 510.85,40.51 511.45,40.51 512.06,40.51 512.67,40.51 513.28,40.51 513.88,40.51 514.49,40.51 515.1,40.51 515.71,40.51 516.31,40.51 516.92,40.51 517.53,40.51 518.14,40.51 518.74,40.51 519.35,40.51 519.96,40.51 520.57,40.51 521.17,40.51 521.78,40.51 522.39,40.51 523,40.51 523.6,40.51 524.21,40.51 524.82,40.51 525.43,40.51 526.03,40.51 526.64,40.51 527.25,40.51 527.86,40.51 528.46,40.51 529.07,40.51 529.68,40.51 530.29,40.51 530.89,40.51 531.5,40.5 532.11,40.5 532.72,40.5 533.32,40.5 533.93,40.5 534.54,40.5 535.15,40.5 535.75,40.5 536.36,40.5 536.97,40.5 537.58,40.5 538.18,40.5 538.79,40.5 539.4,40.5" fill="none" stroke="#3fac3a" stroke-width="2.8" stroke-linejoin="round" stroke-linecap="round"/>
<polyline points="298.1,75.88 299.44,74.74 299.68,74.15 299.92,73.56 300.17,72.99 300.41,72.45 300.65,71.97 300.9,71.53 301.14,71.09 301.38,70.67 301.62,70.25 301.87,69.84 302.11,69.44 302.35,69.04 302.6,68.65 302.84,68.28 303.08,67.9 303.33,67.54 303.57,67.18 303.81,66.83 304.05,66.48 304.3,66.15 304.54,65.82 304.78,65.49 305.03,65.17 305.27,64.86 305.51,64.56 305.76,64.26 306,63.96 306.24,63.67 306.48,63.39 306.73,63.11 306.97,62.84 307.21,62.57 307.46,62.31 307.7,62.05 307.94,61.8 308.19,61.55 308.43,61.31 308.67,61.07 308.91,60.84 309.16,60.61 309.4,60.38 309.64,60.16 309.89,59.94 310.13,59.73 310.37,59.52 310.62,59.31 310.86,59.11 311.1,58.91 311.34,58.72 311.59,58.53 311.83,58.34 312.07,58.15 312.32,57.97 312.56,57.79 312.8,57.61 313.05,57.44 313.29,57.26 313.53,57.09 313.77,56.93 314.02,56.76 314.26,56.6 314.5,56.44 314.75,56.28 314.99,56.12 315.23,55.97 315.48,55.82 315.72,55.66 315.96,55.52 316.2,55.37 316.45,55.22 316.69,55.08 316.93,54.94 317.18,54.8 317.42,54.66 317.66,54.53 317.91,54.39 318.15,54.26 318.39,54.13 318.63,54 318.88,53.87 319.12,53.74 319.36,53.62 319.61,53.49 319.85,53.37 320.09,53.25 320.34,53.12 320.58,53 320.82,52.89 321.06,52.77 321.31,52.65 321.55,52.54 321.79,52.42 322.04,52.31 322.28,52.19 322.52,52.08 322.77,51.97 323.01,51.86 323.25,51.75 323.49,51.64 323.74,51.53 323.98,51.42 324.22,51.31 324.47,51.21 324.71,51.1 324.95,51 325.2,50.9 325.44,50.79 325.68,50.69 325.92,50.59 326.17,50.49 326.41,50.39 326.65,50.29 326.9,50.19 327.14,50.1 327.38,50 327.63,49.9 327.87,49.81 328.11,49.71 328.35,49.62 328.6,49.53 328.84,49.44 329.08,49.34 329.33,49.25 329.57,49.16 329.81,49.07 330.06,48.99 330.3,48.9 330.54,48.81 330.78,48.72 331.03,48.64 331.27,48.55 331.51,48.47 331.76,48.38 332,48.3 332.24,48.21 332.49,48.13 332.73,48.04 332.97,47.95 333.21,47.86 333.46,47.78 333.7,47.69 333.94,47.6 334.19,47.51 334.43,47.43 334.67,47.34 334.92,47.25 335.16,47.16 335.4,47.08 335.64,46.99 335.89,46.9 336.13,46.82 336.37,46.73 336.62,46.65 336.86,46.57 337.1,46.48 337.35,46.4 337.59,46.32 337.83,46.24 338.07,46.16 338.32,46.08 338.56,46 338.8,45.92 339.05,45.85 339.29,45.77 339.53,45.7 339.78,45.63 340.02,45.56 340.26,45.49 340.5,45.42 340.75,45.35 340.99,45.29 341.23,45.23 341.48,45.16 341.72,45.1 341.96,45.05 342.21,44.99 342.45,44.93 342.69,44.88 342.93,44.83 343.18,44.78 343.42,44.74 343.66,44.69 343.91,44.65 344.15,44.61 344.39,44.57 344.64,44.54 344.88,44.5 345.12,44.47 345.36,44.44 345.61,44.41 345.85,44.39 346.09,44.36 346.34,44.33 346.58,44.31 346.82,44.28 347.07,44.25 347.31,44.23 347.55,44.21 347.79,44.18 348.04,44.16 348.28,44.14 348.52,44.11 348.77,44.09 349.01,44.07 349.25,44.05 349.5,44.03 349.74,44.01 349.98,43.99 350.22,43.97 350.47,43.95 350.71,43.94 350.95,43.92 351.2,43.9 351.44,43.88 351.68,43.87 351.93,43.85 352.17,43.83 352.41,43.81 352.65,43.8 352.9,43.78 353.14,43.77 353.38,43.75 353.63,43.73 353.87,43.72 354.11,43.7 354.36,43.69 354.6,43.67 354.84,43.66 355.08,43.64 355.33,43.63 355.57,43.61 355.81,43.6 356.06,43.58 356.3,43.57 356.54,43.55 356.79,43.54 357.03,43.52" fill="none" stroke="#ff7014" stroke-width="4.0" stroke-linejoin="round" stroke-linecap="round"/>
<polyline points="345,44.49 345.24,44.46 345.49,44.43 345.73,44.4 345.97,44.37 346.21,44.35 346.46,44.32 346.7,44.29 346.94,44.27 347.19,44.24 347.43,44.22 347.67,44.19 347.92,44.17 348.16,44.15 348.4,44.13 348.64,44.1 348.89,44.08 349.13,44.06 349.37,44.04 349.62,44.02 349.86,44 350.1,43.98 350.35,43.96 350.59,43.94 350.83,43.93 351.07,43.91 351.32,43.89 351.56,43.87 351.8,43.86 352.05,43.84 352.29,43.82 352.53,43.81 352.78,43.79 353.02,43.77 353.26,43.76 353.5,43.74 353.75,43.73 353.99,43.71 354.23,43.7 354.48,43.68 354.72,43.67 354.96,43.65 355.21,43.64 355.45,43.62 355.69,43.6 355.93,43.59 356.18,43.57 356.42,43.56 356.66,43.54 356.91,43.53 357.15,43.51 357.39,43.5 357.64,43.48 357.88,43.47 358.12,43.45 358.36,43.44 358.61,43.42 358.85,43.41 359.09,43.39 359.34,43.38 359.58,43.36 359.82,43.35 360.07,43.33 360.31,43.32 360.55,43.3 360.79,43.29 361.04,43.28 361.28,43.26 361.52,43.25 361.77,43.23 362.01,43.22 362.25,43.21 362.5,43.19 362.74,43.18 362.98,43.17 363.22,43.15 363.47,43.14 363.71,43.13 363.95,43.11 364.2,43.1 364.44,43.09 364.68,43.08 364.93,43.06 365.17,43.05 365.41,43.04 365.65,43.03 365.9,43.02 366.14,43 366.38,42.99 366.63,42.98 366.87,42.97 367.11,42.96 367.36,42.95 367.6,42.94 367.84,42.92 368.08,42.91 368.33,42.9 368.57,42.89 368.81,42.88 369.06,42.87 369.3,42.86 369.54,42.85 369.79,42.84 370.03,42.83 370.27,42.82 370.51,42.81 370.76,42.8 371,42.79 371.24,42.79 371.49,42.78 371.73,42.77 371.97,42.76 372.22,42.75 372.46,42.74 372.7,42.73 372.94,42.72 373.19,42.72 373.43,42.71 373.67,42.7 373.92,42.69 374.16,42.68 374.4,42.67 374.65,42.67 374.89,42.66 375.13,42.65 375.37,42.64 375.62,42.63 375.86,42.63 376.1,42.62 376.35,42.61 376.59,42.6 376.83,42.6 377.08,42.59 377.32,42.58 377.56,42.57 377.8,42.57 378.05,42.56 378.29,42.55 378.53,42.54 378.78,42.54 379.02,42.53 379.26,42.52 379.51,42.51 379.75,42.51 379.99,42.5 380.23,42.49 380.48,42.48 380.72,42.48 380.96,42.47 381.21,42.46 381.45,42.46 381.69,42.45 381.94,42.44 382.18,42.43 382.42,42.43 382.66,42.42 382.91,42.41 383.15,42.41 383.39,42.4 383.64,42.39 383.88,42.38 384.12,42.38 384.37,42.37 384.61,42.36 384.85,42.36 385.09,42.35 385.34,42.34 385.58,42.33 385.82,42.33 386.07,42.32 386.31,42.31 386.55,42.31 386.8,42.3 387.04,42.29 387.28,42.29 387.52,42.28 387.77,42.27 388.01,42.27 388.25,42.26 388.5,42.25 388.74,42.25 388.98,42.24 389.23,42.23 389.47,42.23 389.71,42.22 389.95,42.22 390.2,42.21 390.44,42.2 390.68,42.2 390.93,42.19 391.17,42.19 391.41,42.18 391.66,42.17 391.9,42.17 392.14,42.16 392.38,42.16 392.63,42.15 392.87,42.15 393.11,42.14 393.36,42.14 393.6,42.13 393.84,42.13 394.09,42.12 394.33,42.12 394.57,42.11 394.81,42.11 395.06,42.1 395.3,42.09 395.54,42.09 395.79,42.08 396.03,42.08 396.27,42.07 396.52,42.07 396.76,42.07 397,42.06 397.24,42.06 397.49,42.05 397.73,42.05 397.97,42.04 398.22,42.04 398.46,42.03 398.7,42.03 398.95,42.02 399.19,42.02 399.43,42.01 399.67,42.01 399.92,42 400.16,42 400.4,41.99 400.65,41.99 400.89,41.98 401.13,41.98 401.38,41.97 401.62,41.97 401.86,41.97 402.1,41.96 402.35,41.96 402.59,41.95 402.83,41.95 403.08,41.94 403.32,41.94 403.56,41.93 403.81,41.93 404.05,41.93 404.29,41.92 404.53,41.92 404.78,41.91 405.02,41.91 405.26,41.9 405.51,41.9 405.75,41.9 405.99,41.89 406.24,41.89 406.48,41.88 406.72,41.88 406.96,41.88 407.21,41.87 407.45,41.87 407.69,41.86 407.94,41.86 408.18,41.86 408.42,41.85 408.67,41.85 408.91,41.84 409.15,41.84 409.39,41.84 409.64,41.83 409.88,41.83 410.12,41.83 410.37,41.82 410.61,41.82 410.85,41.81 411.1,41.81 411.34,41.81 411.58,41.8 411.82,41.8 412.07,41.8 412.31,41.79 412.55,41.79 412.8,41.79 413.04,41.78 413.28,41.78 413.53,41.78 413.77,41.77 414.01,41.77 414.25,41.77 414.5,41.76 414.74,41.76 414.98,41.76 415.23,41.76 415.47,41.75 415.71,41.75 415.96,41.75 416.2,41.74 416.44,41.74 416.68,41.74 416.93,41.73 417.17,41.73 417.41,41.73 417.66,41.73 417.9,41.72 418.14,41.72 418.39,41.72 418.63,41.72 418.87,41.71 419.11,41.71 419.36,41.71 419.6,41.71 419.84,41.7 420.09,41.7 420.33,41.7 420.57,41.69 420.82,41.69 421.06,41.69 421.3,41.69 421.54,41.68 421.79,41.68 422.03,41.68 422.27,41.68 422.52,41.67 422.76,41.67 423,41.67 423.25,41.67 423.49,41.66 423.73,41.66 423.97,41.66 424.22,41.66 424.46,41.65 424.7,41.65 424.95,41.65 425.19,41.64 425.43,41.64 425.68,41.64 425.92,41.64 426.16,41.63 426.4,41.63 426.65,41.63 426.89,41.63 427.13,41.62 427.38,41.62 427.62,41.62 427.86,41.62 428.11,41.62 428.35,41.61 428.59,41.61 428.83,41.61 429.08,41.61 429.32,41.6 429.56,41.6 429.81,41.6 430.05,41.6 430.29,41.59 430.54,41.59 430.78,41.59 431.02,41.59 431.26,41.59 431.51,41.58 431.75,41.58 431.99,41.58 432.24,41.58 432.48,41.58 432.72,41.57 432.97,41.57 433.21,41.57 433.45,41.57 433.69,41.57 433.94,41.57 434.18,41.56 434.42,41.56 434.67,41.56 434.91,41.56 435.15,41.56 435.4,41.56 435.64,41.55 435.88,41.55 436.12,41.55 436.37,41.55 436.61,41.55 436.85,41.55 437.1,41.55 437.34,41.54 437.58,41.54 437.83,41.54 438.07,41.54 438.31,41.54 438.55,41.54 438.8,41.54 439.04,41.54 439.28,41.54 439.53,41.53 439.77,41.53 440.01,41.53 440.26,41.53 440.5,41.53 440.74,41.53 440.98,41.53 441.23,41.53 441.47,41.53 441.71,41.53 441.96,41.53 442.2,41.53 442.44,41.53 442.69,41.53 442.93,41.53 443.17,41.53 443.41,41.53 443.66,41.53 443.9,41.53 444.14,41.53 444.39,41.53 444.63,41.53 444.87,41.53 445.12,41.53 445.36,41.53 445.6,41.53 445.84,41.52 446.09,41.52 446.33,41.52 446.57,41.52 446.82,41.52 447.06,41.52 447.3,41.52 447.55,41.52 447.79,41.52 448.03,41.52 448.27,41.52 448.52,41.52 448.76,41.52 449,41.52 449.25,41.52 449.49,41.52 449.73,41.52 449.98,41.52 450.22,41.52 450.46,41.52 450.7,41.52 450.95,41.52 451.19,41.52 451.43,41.52 451.68,41.52 451.92,41.52 452.16,41.52 452.41,41.52 452.65,41.52 452.89,41.52 453.13,41.52 453.38,41.52 453.62,41.52 453.86,41.52 454.11,41.52 454.35,41.52 454.59,41.52 454.84,41.52 455.08,41.52 455.32,41.52 455.56,41.52 455.81,41.51 456.05,41.51 456.29,41.51 456.54,41.51 456.78,41.51 457.02,41.51 457.27,41.51 457.51,41.51 457.75,41.51 457.99,41.51 458.24,41.51 458.48,41.51 458.72,41.51 458.97,41.51 459.21,41.51 459.45,41.51 459.7,41.51 459.94,41.51 460.18,41.51 460.42,41.51 460.67,41.51 460.91,41.51 461.15,41.51 461.4,41.51 461.64,41.51 461.88,41.51 462.13,41.51 462.37,41.51 462.61,41.51 462.85,41.51 463.1,41.51 463.34,41.51 463.58,41.51 463.83,41.51 464.07,41.51 464.31,41.51 464.56,41.51 464.8,41.51 465.04,41.51 465.28,41.51 465.53,41.51 465.77,41.51 466.01,41.51 466.26,41.51 466.5,41.51 466.74,41.51 466.99,41.51 467.23,41.51 467.47,41.5 467.71,41.5 467.96,41.5 468.2,41.5 468.44,41.5 468.69,41.5 468.93,41.5 469.17,41.5 469.42,41.5 469.66,41.5 469.9,41.5 470.14,41.5 470.39,41.5 470.63,41.5 470.87,41.5 471.12,41.5 471.36,41.5 471.6,41.5 471.85,41.5 472.09,41.5 472.33,41.5 472.57,41.5 472.82,41.5 473.06,41.5 473.3,41.5 473.55,41.5 473.79,41.5 474.03,41.5 474.28,41.5 474.52,41.5 474.76,41.5 475,41.5 475.25,41.5 475.49,41.5 475.73,41.5 475.98,41.5 476.22,41.5 476.46,41.5 476.71,41.5 476.95,41.5 477.19,41.5 477.43,41.5 477.68,41.5 477.92,41.5 478.16,41.5 478.41,41.5 478.65,41.5 478.89,41.5 479.14,41.5 479.38,41.5 479.62,41.5 479.86,41.5 480.11,41.5 480.35,41.5 480.59,41.5 480.84,41.5 481.08,41.5 481.32,41.5 481.57,41.5 481.81,41.5 482.05,41.5 482.29,41.5 482.54,41.5 482.78,41.49 483.02,41.49 483.27,41.49 483.51,41.49 483.75,41.49 484,41.49 484.24,41.49 484.48,41.49 484.72,41.49 484.97,41.49 485.21,41.49 485.45,41.49 485.7,41.49 485.94,41.49 486.18,41.49 486.43,41.49 486.67,41.49 486.91,41.49 487.15,41.49 487.4,41.49 487.64,41.49 487.88,41.49 488.13,41.49 488.37,41.49 488.61,41.49 488.86,41.49 489.1,41.49 489.34,41.49 489.58,41.49 489.83,41.49 490.07,41.49 490.31,41.49 490.56,41.49 490.8,41.49 491.04,41.49 491.29,41.49 491.53,41.49 491.77,41.49 492.01,41.49 492.26,41.49 492.5,41.49 492.74,41.49 492.99,41.49 493.23,41.49 493.47,41.49 493.72,41.49 493.96,41.49 494.2,41.49 494.44,41.49 494.69,41.49 494.93,41.49 495.17,41.49 495.42,41.49 495.66,41.49 495.9,41.49 496.15,41.49 496.39,41.49 496.63,41.49 496.87,41.49 497.12,41.49 497.36,41.49 497.6,41.49 497.85,41.49 498.09,41.49 498.33,41.49 498.58,41.49 498.82,41.49 499.06,41.49 499.3,41.49 499.55,41.49 499.79,41.49 500.03,41.49 500.28,41.49 500.52,41.49 500.76,41.49 501.01,41.49 501.25,41.49 501.49,41.49 501.73,41.49 501.98,41.49 502.22,41.49 502.46,41.49 502.71,41.49 502.95,41.49 503.19,41.49 503.44,41.49 503.68,41.49 503.92,41.49 504.16,41.49 504.41,41.49 504.65,41.49 504.89,41.49 505.14,41.49 505.38,41.49 505.62,41.49 505.87,41.48 506.11,41.48 506.35,41.48 506.59,41.48 506.84,41.48 507.08,41.48 507.32,41.48 507.57,41.48 507.81,41.48 508.05,41.48 508.3,41.48 508.54,41.48 508.78,41.48 509.02,41.48 509.27,41.48 509.51,41.48 509.75,41.48 510,41.48 510.24,41.48 510.48,41.48 510.73,41.48 510.97,41.48 511.21,41.48 511.45,41.48 511.7,41.48 511.94,41.48 512.18,41.48 512.43,41.48 512.67,41.48 512.91,41.48 513.16,41.48 513.4,41.48 513.64,41.48 513.88,41.48 514.13,41.48 514.37,41.48 514.61,41.48 514.86,41.48 515.1,41.48 515.34,41.48 515.59,41.48 515.83,41.48 516.07,41.48 516.31,41.48 516.56,41.48 516.8,41.48 517.04,41.48 517.29,41.48 517.53,41.48 517.77,41.48 518.02,41.48 518.26,41.48 518.5,41.48 518.74,41.48 518.99,41.48 519.23,41.48 519.47,41.48 519.72,41.48 519.96,41.48 520.2,41.48 520.45,41.48 520.69,41.48 520.93,41.48 521.17,41.48 521.42,41.48 521.66,41.48 521.9,41.48 522.15,41.48 522.39,41.48 522.63,41.48 522.88,41.48 523.12,41.48 523.36,41.48 523.6,41.48 523.85,41.48 524.09,41.48 524.33,41.48 524.58,41.48 524.82,41.48 525.06,41.48 525.31,41.48 525.55,41.48 525.79,41.48 526.03,41.48 526.28,41.48 526.52,41.48 526.76,41.48 527.01,41.48 527.25,41.48 527.49,41.48 527.74,41.48 527.98,41.48 528.22,41.48 528.46,41.48 528.71,41.48 528.95,41.48 529.19,41.48 529.44,41.48 529.68,41.48 529.92,41.48 530.17,41.48 530.41,41.48 530.65,41.48 530.89,41.48 531.14,41.48 531.38,41.48 531.62,41.48 531.87,41.48 532.11,41.48 532.35,41.48 532.6,41.48 532.84,41.48 533.08,41.48 533.32,41.48 533.57,41.48 533.81,41.48 534.05,41.48 534.3,41.48 534.54,41.48 534.78,41.48 535.03,41.48 535.27,41.48 535.51,41.48 535.75,41.48 536,41.48 536.24,41.48 536.48,41.48 536.73,41.48 536.97,41.48 537.21,41.48 537.46,41.48 537.7,41.48 537.94,41.48 538.18,41.48 538.43,41.48 538.67,41.48 538.91,41.48 539.16,41.48 539.4,41.48" fill="none" stroke="#ff7014" stroke-width="3.0" stroke-linejoin="round" stroke-linecap="round"/>
<polyline points="345,44.49 345.24,44.54 345.49,44.59 345.73,44.64 345.97,44.7 346.21,44.75 346.46,44.81 346.7,44.86 346.94,44.92 347.19,44.97 347.43,45.03 347.67,45.09 347.92,45.15 348.16,45.21 348.4,45.26 348.64,45.32 348.89,45.27 349.13,45.22 349.37,45.17 349.62,45.12 349.86,45.08 350.1,45.03 350.35,44.99 350.59,44.94 350.83,44.9 351.07,44.86 351.32,44.82 351.56,44.78 351.8,44.74 352.05,44.7 352.29,44.66 352.53,44.62 352.78,44.59 353.02,44.55 353.26,44.52 353.5,44.48 353.75,44.45 353.99,44.42 354.23,44.38 354.48,44.35 354.72,44.32 354.96,44.29 355.21,44.26 355.45,44.23 355.69,44.2 355.93,44.17 356.18,44.14 356.42,44.11 356.66,44.08 356.91,44.05 357.15,44.02 357.39,43.99 357.64,43.97 357.88,43.94 358.12,43.91 358.36,43.88 358.61,43.86 358.85,43.83 359.09,43.81 359.34,43.78 359.58,43.76 359.82,43.73 360.07,43.71 360.31,43.69 360.55,43.66 360.79,43.64 361.04,43.62 361.28,43.59 361.52,43.57 361.77,43.55 362.01,43.53 362.25,43.51 362.5,43.49 362.74,43.47 362.98,43.44 363.22,43.42 363.47,43.4 363.71,43.39 363.95,43.37 364.2,43.35 364.44,43.33 364.68,43.31 364.93,43.29 365.17,43.27 365.41,43.26 365.65,43.24 365.9,43.22 366.14,43.21 366.38,43.19 366.63,43.17 366.87,43.16 367.11,43.14 367.36,43.12 367.6,43.11 367.84,43.09 368.08,43.08 368.33,43.06 368.57,43.05 368.81,43.04 369.06,43.02 369.3,43.01 369.54,42.93 369.79,43.01 370.03,43.08 370.27,43.15 370.51,43.22 370.76,43.29 371,43.36 371.24,43.44 371.49,43.51 371.73,43.58 371.97,43.65 372.22,43.73 372.46,43.8 372.7,43.87 372.94,43.94 373.19,43.9 373.43,43.87 373.67,43.83 373.92,43.79 374.16,43.76 374.4,43.72 374.65,43.69 374.89,43.66 375.13,43.62 375.37,43.59 375.62,43.56 375.86,43.53 376.1,43.5 376.35,43.47 376.59,43.44 376.83,43.41 377.08,43.39 377.32,43.36 377.56,43.33 377.8,43.31 378.05,43.28 378.29,43.25 378.53,43.23 378.78,43.21 379.02,43.18 379.26,43.16 379.51,43.13 379.75,43.11 379.99,43.09 380.23,43.07 380.48,43.05 380.72,43.03 380.96,43 381.21,42.98 381.45,42.96 381.69,42.94 381.94,42.93 382.18,42.91 382.42,42.89 382.66,42.87 382.91,42.85 383.15,42.83 383.39,42.81 383.64,42.8 383.88,42.78 384.12,42.76 384.37,42.75 384.61,42.73 384.85,42.71 385.09,42.7 385.34,42.68 385.58,42.67 385.82,42.65 386.07,42.64 386.31,42.62 386.55,42.61 386.8,42.59 387.04,42.58 387.28,42.57 387.52,42.55 387.77,42.54 388.01,42.53 388.25,42.51 388.5,42.5 388.74,42.49 388.98,42.48 389.23,42.46 389.47,42.45 389.71,42.44 389.95,42.43 390.2,42.42 390.44,42.41 390.68,42.39 390.93,42.38 391.17,42.37 391.41,42.36 391.66,42.35 391.9,42.34 392.14,42.33 392.38,42.32 392.63,42.31 392.87,42.3 393.11,42.29 393.36,42.29 393.6,42.28 393.84,42.21 394.09,42.28 394.33,42.36 394.57,42.44 394.81,42.51 395.06,42.59 395.3,42.66 395.54,42.74 395.79,42.82 396.03,42.89 396.27,42.97 396.52,43.05 396.76,43.12 397,43.2 397.24,43.27 397.49,43.24 397.73,43.21 397.97,43.17 398.22,43.14 398.46,43.11 398.7,43.08 398.95,43.05 399.19,43.02 399.43,42.99 399.67,42.96 399.92,42.93 400.16,42.9 400.4,42.87 400.65,42.85 400.89,42.82 401.13,42.8 401.38,42.77 401.62,42.75 401.86,42.72 402.1,42.7 402.35,42.68 402.59,42.66 402.83,42.63 403.08,42.61 403.32,42.59 403.56,42.57 403.81,42.55 404.05,42.53 404.29,42.51 404.53,42.49 404.78,42.47 405.02,42.46 405.26,42.44 405.51,42.42 405.75,42.4 405.99,42.39 406.24,42.37 406.48,42.36 406.72,42.34 406.96,42.32 407.21,42.31 407.45,42.29 407.69,42.28 407.94,42.27 408.18,42.25 408.42,42.24 408.67,42.22 408.91,42.21 409.15,42.2 409.39,42.19 409.64,42.17 409.88,42.16 410.12,42.15 410.37,42.14 410.61,42.13 410.85,42.12 411.1,42.1 411.34,42.09 411.58,42.08 411.82,42.07 412.07,42.06 412.31,42.05 412.55,42.04 412.8,42.03 413.04,42.02 413.28,42.01 413.53,42.01 413.77,42 414.01,41.99 414.25,41.98 414.5,41.97 414.74,41.96 414.98,41.95 415.23,41.95 415.47,41.94 415.71,41.93 415.96,41.92 416.2,41.92 416.44,41.91 416.68,41.9 416.93,41.9 417.17,41.89 417.41,41.88 417.66,41.88 417.9,41.87 418.14,41.8 418.39,41.88 418.63,41.96 418.87,42.04 419.11,42.12 419.36,42.2 419.6,42.27 419.84,42.35 420.09,42.43 420.33,42.51 420.57,42.59 420.82,42.67 421.06,42.75 421.3,42.83 421.54,42.9 421.79,42.87 422.03,42.84 422.27,42.81 422.52,42.78 422.76,42.75 423,42.72 423.25,42.69 423.49,42.66 423.73,42.63 423.97,42.61 424.22,42.58 424.46,42.56 424.7,42.53 424.95,42.51 425.19,42.48 425.43,42.46 425.68,42.44 425.92,42.41 426.16,42.39 426.4,42.37 426.65,42.35 426.89,42.33 427.13,42.31 427.38,42.29 427.62,42.27 427.86,42.25 428.11,42.24 428.35,42.22 428.59,42.2 428.83,42.18 429.08,42.17 429.32,42.15 429.56,42.14 429.81,42.12 430.05,42.11 430.29,42.09 430.54,42.08 430.78,42.06 431.02,42.05 431.26,42.03 431.51,42.02 431.75,42.01 431.99,42 432.24,41.98 432.48,41.97 432.72,41.96 432.97,41.95 433.21,41.94 433.45,41.93 433.69,41.92 433.94,41.91 434.18,41.9 434.42,41.89 434.67,41.88 434.91,41.87 435.15,41.86 435.4,41.85 435.64,41.84 435.88,41.83 436.12,41.82 436.37,41.81 436.61,41.81 436.85,41.8 437.1,41.79 437.34,41.78 437.58,41.78 437.83,41.77 438.07,41.76 438.31,41.76 438.55,41.75 438.8,41.74 439.04,41.74 439.28,41.73 439.53,41.73 439.77,41.72 440.01,41.72 440.26,41.71 440.5,41.71 440.74,41.7 440.98,41.7 441.23,41.69 441.47,41.69 441.71,41.68 441.96,41.68 442.2,41.67 442.44,41.61 442.69,41.69 442.93,41.77 443.17,41.85 443.41,41.93 443.66,42.02 443.9,42.1 444.14,42.18 444.39,42.26 444.63,42.34 444.87,42.42 445.12,42.5 445.36,42.58 445.6,42.66 445.84,42.74 446.09,42.71 446.33,42.68 446.57,42.66 446.82,42.63 447.06,42.6 447.3,42.57 447.55,42.55 447.79,42.52 448.03,42.5 448.27,42.47 448.52,42.45 448.76,42.43 449,42.4 449.25,42.38 449.49,42.36 449.73,42.34 449.98,42.32 450.22,42.3 450.46,42.28 450.7,42.26 450.95,42.24 451.19,42.22 451.43,42.21 451.68,42.19 451.92,42.17 452.16,42.16 452.41,42.14 452.65,42.12 452.89,42.11 453.13,42.09 453.38,42.08 453.62,42.06 453.86,42.05 454.11,42.04 454.35,42.02 454.59,42.01 454.84,42 455.08,41.99 455.32,41.98 455.56,41.96 455.81,41.95 456.05,41.94 456.29,41.93 456.54,41.92 456.78,41.91 457.02,41.9 457.27,41.89 457.51,41.88 457.75,41.87 457.99,41.86 458.24,41.85 458.48,41.84 458.72,41.84 458.97,41.83 459.21,41.82 459.45,41.81 459.7,41.8 459.94,41.8 460.18,41.79 460.42,41.78 460.67,41.78 460.91,41.77 461.15,41.76 461.4,41.76 461.64,41.75 461.88,41.74 462.13,41.74 462.37,41.73 462.61,41.73 462.85,41.72 463.1,41.72 463.34,41.71 463.58,41.7 463.83,41.7 464.07,41.69 464.31,41.69 464.56,41.69 464.8,41.68 465.04,41.68 465.28,41.67 465.53,41.67 465.77,41.66 466.01,41.66 466.26,41.66 466.5,41.65 466.74,41.59 466.99,41.67 467.23,41.75 467.47,41.83 467.71,41.91 467.96,41.99 468.2,42.07 468.44,42.15 468.69,42.24 468.93,42.32 469.17,42.4 469.42,42.48 469.66,42.56 469.9,42.64 470.14,42.72 470.39,42.69 470.63,42.66 470.87,42.63 471.12,42.61 471.36,42.58 471.6,42.55 471.85,42.53 472.09,42.5 472.33,42.48 472.57,42.45 472.82,42.43 473.06,42.4 473.3,42.38 473.55,42.36 473.79,42.34 474.03,42.32 474.28,42.3 474.52,42.28 474.76,42.26 475,42.24 475.25,42.22 475.49,42.2 475.73,42.19 475.98,42.17 476.22,42.15 476.46,42.14 476.71,42.12 476.95,42.1 477.19,42.09 477.43,42.07 477.68,42.06 477.92,42.05 478.16,42.03 478.41,42.02 478.65,42.01 478.89,41.99 479.14,41.98 479.38,41.97 479.62,41.96 479.86,41.95 480.11,41.93 480.35,41.92 480.59,41.91 480.84,41.9 481.08,41.89 481.32,41.88 481.57,41.87 481.81,41.86 482.05,41.85 482.29,41.84 482.54,41.84 482.78,41.83 483.02,41.82 483.27,41.81 483.51,41.8 483.75,41.8 484,41.79 484.24,41.78 484.48,41.77 484.72,41.77 484.97,41.76 485.21,41.75 485.45,41.75 485.7,41.74 485.94,41.73 486.18,41.73 486.43,41.72 486.67,41.72 486.91,41.71 487.15,41.7 487.4,41.7 487.64,41.69 487.88,41.69 488.13,41.68 488.37,41.68 488.61,41.67 488.86,41.67 489.1,41.67 489.34,41.66 489.58,41.66 489.83,41.65 490.07,41.65 490.31,41.64 490.56,41.64 490.8,41.64 491.04,41.57 491.29,41.65 491.53,41.73 491.77,41.82 492.01,41.9 492.26,41.98 492.5,42.06 492.74,42.14 492.99,42.22 493.23,42.3 493.47,42.38 493.72,42.47 493.96,42.55 494.2,42.63 494.44,42.71 494.69,42.68 494.93,42.65 495.17,42.62 495.42,42.59 495.66,42.57 495.9,42.54 496.15,42.51 496.39,42.49 496.63,42.46 496.87,42.44 497.12,42.41 497.36,42.39 497.6,42.37 497.85,42.35 498.09,42.33 498.33,42.31 498.58,42.28 498.82,42.27 499.06,42.25 499.3,42.23 499.55,42.21 499.79,42.19 500.03,42.17 500.28,42.16 500.52,42.14 500.76,42.12 501.01,42.11 501.25,42.09 501.49,42.08 501.73,42.06 501.98,42.05 502.22,42.03 502.46,42.02 502.71,42.01 502.95,41.99 503.19,41.98 503.44,41.97 503.68,41.96 503.92,41.95 504.16,41.93 504.41,41.92 504.65,41.91 504.89,41.9 505.14,41.89 505.38,41.88 505.62,41.87 505.87,41.86 506.11,41.85 506.35,41.84 506.59,41.83 506.84,41.83 507.08,41.82 507.32,41.81 507.57,41.8 507.81,41.79 508.05,41.79 508.3,41.78 508.54,41.77 508.78,41.76 509.02,41.76 509.27,41.75 509.51,41.74 509.75,41.74 510,41.73 510.24,41.72 510.48,41.72 510.73,41.71 510.97,41.71 511.21,41.7 511.45,41.7 511.7,41.69 511.94,41.68 512.18,41.68 512.43,41.68 512.67,41.67 512.91,41.67 513.16,41.66 513.4,41.66 513.64,41.65 513.88,41.65 514.13,41.64 514.37,41.64 514.61,41.64 514.86,41.63 515.1,41.63 515.34,41.56 515.59,41.65 515.83,41.73 516.07,41.81 516.31,41.89 516.56,41.97 516.8,42.05 517.04,42.13 517.29,42.21 517.53,42.3 517.77,42.38 518.02,42.46 518.26,42.54 518.5,42.62 518.74,42.7 518.99,42.67 519.23,42.64 519.47,42.61 519.72,42.59 519.96,42.56 520.2,42.53 520.45,42.51 520.69,42.48 520.93,42.46 521.17,42.43 521.42,42.41 521.66,42.39 521.9,42.36 522.15,42.34 522.39,42.32 522.63,42.3 522.88,42.28 523.12,42.26 523.36,42.24 523.6,42.22 523.85,42.2 524.09,42.18 524.33,42.17 524.58,42.15 524.82,42.13 525.06,42.12 525.31,42.1 525.55,42.09 525.79,42.07 526.03,42.06 526.28,42.04 526.52,42.03 526.76,42.02 527.01,42 527.25,41.99 527.49,41.98 527.74,41.96 527.98,41.95 528.22,41.94 528.46,41.93 528.71,41.92 528.95,41.91 529.19,41.9 529.44,41.89 529.68,41.88 529.92,41.87 530.17,41.86 530.41,41.85 530.65,41.84 530.89,41.83 531.14,41.82 531.38,41.81 531.62,41.8 531.87,41.8 532.11,41.79 532.35,41.78 532.6,41.77 532.84,41.77 533.08,41.76 533.32,41.75 533.57,41.75 533.81,41.74 534.05,41.73 534.3,41.73 534.54,41.72 534.78,41.71 535.03,41.71 535.27,41.7 535.51,41.7 535.75,41.69 536,41.69 536.24,41.68 536.48,41.68 536.73,41.67 536.97,41.67 537.21,41.66 537.46,41.66 537.7,41.65 537.94,41.65 538.18,41.65 538.43,41.64 538.67,41.64 538.91,41.63 539.16,41.63 539.4,41.63" fill="none" stroke="#ff7014" stroke-width="2.8" stroke-linejoin="round" stroke-linecap="round"/>
<polyline points="297.25,75.55 298.22,66.77 299.56,70.67" fill="none" stroke="#ff7014" stroke-width="1.5" stroke-linejoin="round" stroke-linecap="round"/>
<circle cx="299.44" cy="75.88" r="1.1" fill="#3fac3a"/>
<line x1="296.4" y1="140.6" x2="296.4" y2="75.55" stroke="#ff7014" stroke-width="0.9"/>
<circle cx="296.6" cy="140.6" r="1.05" fill="#ff7014"/>
<circle cx="296.6" cy="116.53" r="1.05" fill="#ff7014"/>
<circle cx="296.6" cy="99.94" r="1.05" fill="#ff7014"/>
<circle cx="296.6" cy="93.44" r="1.05" fill="#ff7014"/>
<circle cx="296.6" cy="90.19" r="1.05" fill="#ff7014"/>
<circle cx="296.6" cy="85.31" r="1.05" fill="#ff7014"/>
<circle cx="296.6" cy="82.06" r="1.05" fill="#ff7014"/>
<circle cx="296.6" cy="78.8" r="1.05" fill="#ff7014"/>
<line x1="345.3" y1="46.28" x2="345.3" y2="40.59" stroke="#ff7014" stroke-width="2.0" stroke-linecap="round"/>
<circle cx="345.3" cy="40.59" r="1.25" fill="#ff7014"/>
<line x1="369.6" y1="44.65" x2="369.6" y2="38.96" stroke="#ff7014" stroke-width="2.0" stroke-linecap="round"/>
<circle cx="369.6" cy="38.96" r="1.25" fill="#ff7014"/>
<line x1="393.9" y1="43.92" x2="393.9" y2="38.23" stroke="#ff7014" stroke-width="2.0" stroke-linecap="round"/>
<circle cx="393.9" cy="38.23" r="1.25" fill="#ff7014"/>
<line x1="418.2" y1="43.51" x2="418.2" y2="37.82" stroke="#ff7014" stroke-width="2.0" stroke-linecap="round"/>
<circle cx="418.2" cy="37.82" r="1.25" fill="#ff7014"/>
<line x1="442.5" y1="43.32" x2="442.5" y2="37.63" stroke="#ff7014" stroke-width="2.0" stroke-linecap="round"/>
<circle cx="442.5" cy="37.63" r="1.25" fill="#ff7014"/>
<line x1="466.8" y1="43.29" x2="466.8" y2="37.6" stroke="#ff7014" stroke-width="2.0" stroke-linecap="round"/>
<circle cx="466.8" cy="37.6" r="1.25" fill="#ff7014"/>
<line x1="491.1" y1="43.28" x2="491.1" y2="37.59" stroke="#ff7014" stroke-width="2.0" stroke-linecap="round"/>
<circle cx="491.1" cy="37.59" r="1.25" fill="#ff7014"/>
<line x1="515.4" y1="43.27" x2="515.4" y2="37.58" stroke="#ff7014" stroke-width="2.0" stroke-linecap="round"/>
<circle cx="515.4" cy="37.58" r="1.25" fill="#ff7014"/>
<line x1="27.6" y1="206.4" x2="270.6" y2="206.4" stroke="#ebebeb" stroke-width="1"/>
<line x1="27.6" y1="226.37" x2="270.6" y2="226.37" stroke="#ebebeb" stroke-width="1"/>
<line x1="27.6" y1="246.33" x2="270.6" y2="246.33" stroke="#ebebeb" stroke-width="1"/>
<line x1="27.6" y1="266.3" x2="270.6" y2="266.3" stroke="#ebebeb" stroke-width="1"/>
<line x1="27.6" y1="286.27" x2="270.6" y2="286.27" stroke="#ebebeb" stroke-width="1"/>
<line x1="27.6" y1="306.23" x2="270.6" y2="306.23" stroke="#ebebeb" stroke-width="1"/>
<line x1="27.6" y1="326.2" x2="270.6" y2="326.2" stroke="#ebebeb" stroke-width="1"/>
<line x1="27.6" y1="196" x2="27.6" y2="326.2" stroke="#ebebeb" stroke-width="1"/>
<line x1="51.9" y1="196" x2="51.9" y2="326.2" stroke="#ebebeb" stroke-width="1"/>
<line x1="76.2" y1="196" x2="76.2" y2="326.2" stroke="#ebebeb" stroke-width="1"/>
<line x1="100.5" y1="196" x2="100.5" y2="326.2" stroke="#ebebeb" stroke-width="1"/>
<line x1="124.8" y1="196" x2="124.8" y2="326.2" stroke="#ebebeb" stroke-width="1"/>
<line x1="149.1" y1="196" x2="149.1" y2="326.2" stroke="#ebebeb" stroke-width="1"/>
<line x1="173.4" y1="196" x2="173.4" y2="326.2" stroke="#ebebeb" stroke-width="1"/>
<line x1="197.7" y1="196" x2="197.7" y2="326.2" stroke="#ebebeb" stroke-width="1"/>
<line x1="222" y1="196" x2="222" y2="326.2" stroke="#ebebeb" stroke-width="1"/>
<line x1="246.3" y1="196" x2="246.3" y2="326.2" stroke="#ebebeb" stroke-width="1"/>
<line x1="270.6" y1="196" x2="270.6" y2="326.2" stroke="#ebebeb" stroke-width="1"/>
<text x="22.6" y="208.4" font-size="5.0" text-anchor="end" fill="#808080">40</text>
<text x="22.6" y="228.37" font-size="5.0" text-anchor="end" fill="#808080">20</text>
<text x="22.6" y="248.33" font-size="5.0" text-anchor="end" fill="#808080">0</text>
<text x="22.6" y="268.3" font-size="5.0" text-anchor="end" fill="#808080">-20</text>
<text x="22.6" y="288.27" font-size="5.0" text-anchor="end" fill="#808080">-40</text>
<text x="22.6" y="308.23" font-size="5.0" text-anchor="end" fill="#808080">-60</text>
<text x="22.6" y="328.2" font-size="5.0" text-anchor="end" fill="#808080">-80</text>
<text x="27.6" y="335.3" font-size="5.0" text-anchor="middle" fill="#808080">0</text>
<text x="51.9" y="335.3" font-size="5.0" text-anchor="middle" fill="#808080">2</text>
<text x="76.2" y="335.3" font-size="5.0" text-anchor="middle" fill="#808080">4</text>
<text x="100.5" y="335.3" font-size="5.0" text-anchor="middle" fill="#808080">6</text>
<text x="124.8" y="335.3" font-size="5.0" text-anchor="middle" fill="#808080">8</text>
<text x="149.1" y="335.3" font-size="5.0" text-anchor="middle" fill="#808080">10</text>
<text x="173.4" y="335.3" font-size="5.0" text-anchor="middle" fill="#808080">12</text>
<text x="197.7" y="335.3" font-size="5.0" text-anchor="middle" fill="#808080">14</text>
<text x="222" y="335.3" font-size="5.0" text-anchor="middle" fill="#808080">16</text>
<text x="246.3" y="335.3" font-size="5.0" text-anchor="middle" fill="#808080">18</text>
<text x="270.6" y="335.3" font-size="5.0" text-anchor="middle" fill="#808080">20</text>
<text x="142.8" y="347.2" font-size="6.8" text-anchor="middle" fill="#6e6e6e" textLength="20.6" lengthAdjust="spacingAndGlyphs">Time(s)</text>
<text x="0" y="0" font-size="5.7" text-anchor="middle" fill="#6e6e6e" transform="translate(8.9,271) rotate(-90)" textLength="45" lengthAdjust="spacingAndGlyphs">Precession(deg)</text>
<line x1="112" y1="199.3" x2="121.5" y2="199.3" stroke="#3fac3a" stroke-width="0.8"/>
<circle cx="116.8" cy="199.3" r="1.1" fill="#3fac3a"/>
<text x="122.8" y="201" font-size="4.4" text-anchor="start" fill="#8a8a8a" textLength="24" lengthAdjust="spacingAndGlyphs">sliding mode</text>
<line x1="151.8" y1="199.3" x2="161" y2="199.3" stroke="#ff7014" stroke-width="0.8" stroke-dasharray="1.6,1.4"/>
<circle cx="156.4" cy="199.3" r="1.1" fill="#ff7014"/>
<text x="162.8" y="201" font-size="4.4" text-anchor="start" fill="#8a8a8a">PD</text>
<polyline points="27.6,246.33 27.72,245.96 27.84,245.61 27.96,245.26 28.09,244.93 28.21,244.62 28.33,244.32 28.45,244.04 28.57,243.79 28.69,243.55 28.82,243.34 28.94,243.16 29.06,243.01 29.18,242.88 29.3,242.76 29.42,242.65 29.54,242.54 29.67,242.41 29.79,242.25 29.91,242.07 30.03,241.84 30.15,241.51 30.27,241.05 30.39,240.48 30.52,239.82 30.64,239.1 30.76,238.35 30.88,237.44 31,236.32 31.12,235.06 31.25,233.75 31.37,232.47 31.49,231.31 31.61,230.36 31.73,229.53 31.85,228.7 31.97,227.91 32.1,227.19 32.22,226.59 32.34,226.14 32.46,225.87 32.58,225.71 32.7,225.56 32.82,225.43 32.95,225.31 33.07,225.21 33.19,225.13 33.31,225.06 33.43,225.01 33.55,224.98 33.68,224.97 33.8,224.97 33.92,224.97 34.04,224.97 34.16,224.97 34.28,224.97 34.4,224.97 34.53,224.97 34.65,224.97 34.77,224.97 34.89,224.97 35.01,224.97 35.13,224.97 35.25,224.97 35.38,224.97 35.5,224.97 35.62,224.97 35.74,224.97 35.86,224.97 35.98,224.97 36.11,224.97 36.23,224.97 36.35,224.97 36.47,224.97 36.59,224.97 36.71,224.97 36.83,224.97 36.96,224.97 37.08,224.97 37.2,224.97 37.32,224.97 37.44,224.97 37.56,224.97 37.68,224.97 37.81,224.97 37.93,224.97 38.05,224.97 38.17,224.97 38.29,224.97 38.41,224.97 38.54,224.97 38.66,224.97 38.78,224.97 38.9,224.97 39.02,224.97 39.14,224.97 39.26,224.97 39.39,224.97 39.51,224.97 39.63,224.97 39.75,224.97 39.87,224.97 39.99,224.97 40.11,224.97 40.24,224.97 40.36,224.97 40.48,224.97 40.6,224.97 40.72,224.97 40.84,224.97 40.97,224.97 41.09,225.06 41.21,225.32 41.33,225.7 41.45,226.16 41.57,226.67 41.69,227.17 41.82,227.63 41.94,228.01 42.06,228.27 42.18,228.36 42.3,228.32 42.42,228.21 42.54,228.04 42.67,227.83 42.79,227.58 42.91,227.32 43.03,227.05 43.15,226.8 43.27,226.56 43.4,226.37 43.52,226.19 43.64,226.02 43.76,225.85 43.88,225.69 44,225.53 44.12,225.37 44.25,225.21 44.37,225.06 44.49,224.92 44.61,224.77 44.73,224.63 44.85,224.5 44.97,224.37 45.1,227.07 45.22,226.67 45.34,226.27 45.46,225.87 45.58,225.47 45.7,225.07 45.83,224.67 45.95,224.27 46.07,223.87 46.19,223.47 46.31,223.07 46.43,222.67 46.55,222.27 46.68,222.67 46.8,223.07 46.92,223.47 47.04,223.87 47.16,224.27 47.28,224.67 47.4,225.07 47.53,225.47 47.65,225.87 47.77,226.27 47.89,226.67 48.01,227.07 48.13,227.46 48.26,227.07 48.38,226.67 48.5,226.27 48.62,225.87 48.74,225.47 48.86,225.07 48.98,224.67 49.11,224.27 49.23,223.87 49.35,223.47 49.47,223.07 49.59,222.67 49.71,222.27 49.83,222.67 49.96,223.07 50.08,223.47 50.2,223.87 50.32,224.27 50.44,224.67 50.56,225.07 50.69,225.47 50.81,225.87 50.93,226.27 51.05,226.67 51.17,227.07 51.29,227.46 51.41,227.07 51.54,226.67 51.66,226.27 51.78,225.87 51.9,225.47 52.02,225.07 52.14,224.67 52.26,224.27 52.39,223.87 52.51,223.47 52.63,223.07 52.75,222.67 52.87,222.27 52.99,222.67 53.12,223.07 53.24,223.47 53.36,223.87 53.48,224.27 53.6,224.67 53.72,225.07 53.84,225.47 53.97,225.87 54.09,226.27 54.21,226.67 54.33,227.07 54.45,227.46 54.57,227.07 54.69,226.67 54.82,226.27 54.94,225.87 55.06,225.47 55.18,225.07 55.3,224.67 55.42,224.27 55.55,223.87 55.67,223.47 55.79,223.07 55.91,222.67 56.03,222.27 56.15,222.67 56.27,223.07 56.4,223.47 56.52,223.87 56.64,224.27 56.76,224.67 56.88,225.07 57,225.47 57.12,225.87 57.25,226.27 57.37,226.67 57.49,227.07 57.61,227.46 57.73,227.07 57.85,226.67 57.98,226.27 58.1,225.87 58.22,225.47 58.34,225.07 58.46,224.67 58.58,224.27 58.7,223.87 58.83,223.47 58.95,223.07 59.07,222.67 59.19,222.27 59.31,222.67 59.43,223.07 59.55,223.47 59.68,223.87 59.8,224.27 59.92,224.67 60.04,225.07 60.16,225.47 60.28,225.87 60.41,226.27 60.53,226.67 60.65,227.07 60.77,227.46 60.89,227.07 61.01,226.67 61.13,226.27 61.26,225.87 61.38,225.47 61.5,225.07 61.62,224.67 61.74,224.27 61.86,223.87 61.98,223.47 62.11,223.07 62.23,222.67 62.35,222.27 62.47,222.67 62.59,223.07 62.71,223.47 62.84,223.87 62.96,224.27 63.08,224.67 63.2,225.07 63.32,225.47 63.44,225.87 63.56,226.27 63.69,226.67 63.81,227.07 63.93,227.46 64.05,227.07 64.17,226.67 64.29,226.27 64.41,225.87 64.54,225.47 64.66,225.07 64.78,224.67 64.9,224.27 65.02,223.87 65.14,223.47 65.27,223.07 65.39,222.67 65.51,222.27 65.63,222.67 65.75,223.07 65.87,223.47 65.99,223.87 66.12,224.27 66.24,224.67 66.36,225.07 66.48,225.47 66.6,225.87 66.72,226.27 66.84,226.67 66.97,227.07 67.09,227.46 67.21,227.07 67.33,226.67 67.45,226.27 67.57,225.87 67.7,225.47 67.82,225.07 67.94,224.67 68.06,224.27 68.18,223.87 68.3,223.47 68.42,223.07 68.55,222.67 68.67,222.27 68.79,222.67 68.91,223.07 69.03,223.47 69.15,223.87 69.27,224.27 69.4,224.67 69.52,225.07 69.64,225.47 69.76,225.87 69.88,226.27 70,226.67 70.12,227.07 70.25,227.46 70.37,227.07 70.49,226.67 70.61,226.27 70.73,225.87 70.85,225.47 70.98,225.07 71.1,224.67 71.22,224.27 71.34,223.87 71.46,223.47 71.58,223.07 71.7,222.67 71.83,222.27 71.95,222.67 72.07,223.07 72.19,223.47 72.31,223.87 72.43,224.27 72.56,224.67 72.68,225.07 72.8,225.47 72.92,225.87 73.04,226.27 73.16,226.67 73.28,227.07 73.41,227.46 73.53,227.07 73.65,226.67 73.77,226.27 73.89,225.87 74.01,225.47 74.13,225.07 74.26,224.67 74.38,224.27 74.5,223.87 74.62,223.47 74.74,223.07 74.86,222.67 74.99,222.27 75.11,222.67 75.23,223.07 75.35,223.47 75.47,223.87 75.59,224.27 75.71,224.67 75.84,225.07 75.96,225.47 76.08,225.87 76.2,226.27 76.32,226.67 76.44,227.07 76.56,227.46 76.69,227.07 76.81,226.67 76.93,226.27 77.05,225.87 77.17,225.47 77.29,225.07 77.42,224.67 77.54,224.27 77.66,223.87 77.78,223.47 77.9,223.07 78.02,222.67 78.14,222.27 78.27,222.67 78.39,223.07 78.51,223.47 78.63,223.87 78.75,224.27 78.87,224.67 78.99,225.07 79.12,225.47 79.24,225.87 79.36,226.27 79.48,226.67 79.6,227.07 79.72,227.46 79.84,227.07 79.97,226.67 80.09,226.27 80.21,225.87 80.33,225.47 80.45,225.07 80.57,224.67 80.7,224.27 80.82,223.87 80.94,223.47 81.06,223.07 81.18,222.67 81.3,222.27 81.42,222.67 81.55,223.07 81.67,223.47 81.79,223.87 81.91,224.27 82.03,224.67 82.15,225.07 82.28,225.47 82.4,225.87 82.52,226.27 82.64,226.67 82.76,227.07 82.88,227.46 83,227.07 83.13,226.67 83.25,226.27 83.37,225.87 83.49,225.47 83.61,225.07 83.73,224.67 83.85,224.27 83.98,223.87 84.1,223.47 84.22,223.07 84.34,222.67 84.46,222.27 84.58,222.67 84.71,223.07 84.83,223.47 84.95,223.87 85.07,224.27 85.19,224.67 85.31,225.07 85.43,225.47 85.56,225.87 85.68,226.27 85.8,226.67 85.92,227.07 86.04,227.46 86.16,227.07 86.28,226.67 86.41,226.27 86.53,225.87 86.65,225.47 86.77,225.07 86.89,224.67 87.01,224.27 87.14,223.87 87.26,223.47 87.38,223.07 87.5,222.67 87.62,222.27 87.74,222.67 87.86,223.07 87.99,223.47 88.11,223.87 88.23,224.27 88.35,224.67 88.47,225.07 88.59,225.47 88.71,225.87 88.84,226.27 88.96,226.67 89.08,227.07 89.2,227.46 89.32,227.07 89.44,226.67 89.57,226.27 89.69,225.87 89.81,225.47 89.93,225.07 90.05,224.67 90.17,224.27 90.29,223.87 90.42,223.47 90.54,223.07 90.66,222.67 90.78,222.27 90.9,222.67 91.02,223.07 91.14,223.47 91.27,223.87 91.39,224.27 91.51,224.67 91.63,225.07 91.75,225.47 91.87,225.87 92,226.27 92.12,226.67 92.24,227.07 92.36,227.46 92.48,227.07 92.6,226.67 92.72,226.27 92.85,225.87 92.97,225.47 93.09,225.07 93.21,224.67 93.33,224.27 93.45,223.87 93.57,223.47 93.7,223.07 93.82,222.67 93.94,222.27 94.06,222.67 94.18,223.07 94.3,223.47 94.43,223.87 94.55,224.27 94.67,224.67 94.79,225.07 94.91,225.47 95.03,225.87 95.15,226.27 95.28,226.67 95.4,227.07 95.52,227.46 95.64,227.07 95.76,226.67 95.88,226.27 96,225.87 96.13,225.47 96.25,225.07 96.37,224.67 96.49,224.27 96.61,223.87 96.73,223.47 96.86,223.07 96.98,222.67 97.1,222.27 97.22,222.67 97.34,223.07 97.46,223.47 97.58,223.87 97.71,224.27 97.83,224.67 97.95,225.07 98.07,225.47 98.19,225.87 98.31,226.27 98.43,226.67 98.56,227.07 98.68,227.46 98.8,227.07 98.92,226.67 99.04,226.27 99.16,225.87 99.29,225.47 99.41,225.07 99.53,224.67 99.65,224.27 99.77,223.87 99.89,223.47 100.01,223.07 100.14,222.67 100.26,222.27 100.38,222.67 100.5,223.07 100.62,223.47 100.74,223.87 100.86,224.27 100.99,224.67 101.11,225.07 101.23,225.47 101.35,225.87 101.47,226.27 101.59,226.67 101.72,227.07 101.84,227.46 101.96,227.07 102.08,226.67 102.2,226.27 102.32,225.87 102.44,225.47 102.57,225.07 102.69,224.67 102.81,224.27 102.93,223.87 103.05,223.47 103.17,223.07 103.29,222.67 103.42,222.27 103.54,222.67 103.66,223.07 103.78,223.47 103.9,223.87 104.02,224.27 104.15,224.67 104.27,225.07 104.39,225.47 104.51,225.87 104.63,226.27 104.75,226.67 104.87,227.07 105,227.46 105.12,227.07 105.24,226.67 105.36,226.27 105.48,225.87 105.6,225.47 105.72,225.07 105.85,224.67 105.97,224.27 106.09,223.87 106.21,223.47 106.33,223.07 106.45,222.67 106.58,222.27 106.7,222.67 106.82,223.07 106.94,223.47 107.06,223.87 107.18,224.27 107.3,224.67 107.43,225.07 107.55,225.47 107.67,225.87 107.79,226.27 107.91,226.67 108.03,227.07 108.15,227.46 108.28,227.07 108.4,226.67 108.52,226.27 108.64,225.87 108.76,225.47 108.88,225.07 109,224.67 109.13,224.27 109.25,223.87 109.37,223.47 109.49,223.07 109.61,222.67 109.73,222.27 109.86,222.67 109.98,223.07 110.1,223.47 110.22,223.87 110.34,224.27 110.46,224.67 110.58,225.07 110.71,225.47 110.83,225.87 110.95,226.27 111.07,226.67 111.19,227.07 111.31,227.46 111.44,227.07 111.56,226.67 111.68,226.27 111.8,225.87 111.92,225.47 112.04,225.07 112.16,224.67 112.29,224.27 112.41,223.87 112.53,223.47 112.65,223.07 112.77,222.67 112.89,222.27 113.01,222.67 113.14,223.07 113.26,223.47 113.38,223.87 113.5,224.27 113.62,224.67 113.74,225.07 113.87,225.47 113.99,225.87 114.11,226.27 114.23,226.67 114.35,227.07 114.47,227.46 114.59,227.07 114.72,226.67 114.84,226.27 114.96,225.87 115.08,225.47 115.2,225.07 115.32,224.67 115.44,224.27 115.57,223.87 115.69,223.47 115.81,223.07 115.93,222.67 116.05,222.27 116.17,222.67 116.3,223.07 116.42,223.47 116.54,223.87 116.66,224.27 116.78,224.67 116.9,225.07 117.02,225.47 117.15,225.87 117.27,226.27 117.39,226.67 117.51,227.07 117.63,227.46 117.75,227.07 117.87,226.67 118,226.27 118.12,225.87 118.24,225.47 118.36,225.07 118.48,224.67 118.6,224.27 118.73,223.87 118.85,223.47 118.97,223.07 119.09,222.67 119.21,222.27 119.33,222.67 119.45,223.07 119.58,223.47 119.7,223.87 119.82,224.27 119.94,224.67 120.06,225.07 120.18,225.47 120.3,225.87 120.43,226.27 120.55,226.67 120.67,227.07 120.79,227.46 120.91,227.07 121.03,226.67 121.16,226.27 121.28,225.87 121.4,225.47 121.52,225.07 121.64,224.67 121.76,224.27 121.88,223.87 122.01,223.47 122.13,223.07 122.25,222.67 122.37,222.27 122.49,222.67 122.61,223.07 122.73,223.47 122.86,223.87 122.98,224.27 123.1,224.67 123.22,225.07 123.34,225.47 123.46,225.87 123.59,226.27 123.71,226.67 123.83,227.07 123.95,227.46 124.07,227.07 124.19,226.67 124.31,226.27 124.44,225.87 124.56,225.47 124.68,225.07 124.8,224.67 124.92,224.27 125.04,223.87 125.16,223.47 125.29,223.07 125.41,222.67 125.53,222.27 125.65,222.67 125.77,223.07 125.89,223.47 126.02,223.87 126.14,224.27 126.26,224.67 126.38,225.07 126.5,225.47 126.62,225.87 126.74,226.27 126.87,226.67 126.99,227.07 127.11,227.46 127.23,227.07 127.35,226.67 127.47,226.27 127.59,225.87 127.72,225.47 127.84,225.07 127.96,224.67 128.08,224.27 128.2,223.87 128.32,223.47 128.45,223.07 128.57,222.67 128.69,222.27 128.81,222.67 128.93,223.07 129.05,223.47 129.17,223.87 129.3,224.27 129.42,224.67 129.54,225.07 129.66,225.47 129.78,225.87 129.9,226.27 130.02,226.67 130.15,227.07 130.27,227.46 130.39,227.07 130.51,226.67 130.63,226.27 130.75,225.87 130.88,225.47 131,225.07 131.12,224.67 131.24,224.27 131.36,223.87 131.48,223.47 131.6,223.07 131.73,222.67 131.85,222.27 131.97,222.67 132.09,223.07 132.21,223.47 132.33,223.87 132.45,224.27 132.58,224.67 132.7,225.07 132.82,225.47 132.94,225.87 133.06,226.27 133.18,226.67 133.31,227.07 133.43,227.46 133.55,227.07 133.67,226.67 133.79,226.27 133.91,225.87 134.03,225.47 134.16,225.07 134.28,224.67 134.4,224.27 134.52,223.87 134.64,223.47 134.76,223.07 134.88,222.67 135.01,222.27 135.13,222.67 135.25,223.07 135.37,223.47 135.49,223.87 135.61,224.27 135.74,224.67 135.86,225.07 135.98,225.47 136.1,225.87 136.22,226.27 136.34,226.67 136.46,227.07 136.59,227.46 136.71,227.07 136.83,226.67 136.95,226.27 137.07,225.87 137.19,225.47 137.31,225.07 137.44,224.67 137.56,224.27 137.68,223.87 137.8,223.47 137.92,223.07 138.04,222.67 138.17,222.27 138.29,222.67 138.41,223.07 138.53,223.47 138.65,223.87 138.77,224.27 138.89,224.67 139.02,225.07 139.14,225.47 139.26,225.87 139.38,226.27 139.5,226.67 139.62,227.07 139.74,227.46 139.87,227.07 139.99,226.67 140.11,226.27 140.23,225.87 140.35,225.47 140.47,225.07 140.6,224.67 140.72,224.27 140.84,223.87 140.96,223.47 141.08,223.07 141.2,222.67 141.32,222.27 141.45,222.67 141.57,223.07 141.69,223.47 141.81,223.87 141.93,224.27 142.05,224.67 142.17,225.07 142.3,225.47 142.42,225.87 142.54,226.27 142.66,226.67 142.78,227.07 142.9,227.46 143.03,227.07 143.15,226.67 143.27,226.27 143.39,225.87 143.51,225.47 143.63,225.07 143.75,224.67 143.88,224.27 144,223.87 144.12,223.47 144.24,223.07 144.36,222.67 144.48,222.27 144.6,222.67 144.73,223.07 144.85,223.47 144.97,223.87 145.09,224.27 145.21,224.67 145.33,225.07 145.46,225.47 145.58,225.87 145.7,226.27 145.82,226.67 145.94,227.07 146.06,227.46 146.18,227.07 146.31,226.67 146.43,226.27 146.55,225.87 146.67,225.47 146.79,225.07 146.91,224.67 147.03,224.27 147.16,223.87 147.28,223.47 147.4,223.07 147.52,222.67 147.64,222.27 147.76,222.67 147.89,223.07 148.01,223.47 148.13,223.87 148.25,224.27 148.37,224.67 148.49,225.07 148.61,225.47 148.74,225.87 148.86,226.27 148.98,226.67 149.1,227.07 149.22,227.46 149.34,227.07 149.46,226.67 149.59,226.27 149.71,225.87 149.83,225.47 149.95,225.07 150.07,224.67 150.19,224.27 150.31,223.87 150.44,223.47 150.56,223.07 150.68,222.67 150.8,222.27 150.92,222.67 151.04,223.07 151.17,223.47 151.29,223.87 151.41,224.27 151.53,224.67 151.65,225.07 151.77,225.47 151.89,225.87 152.02,226.27 152.14,226.67 152.26,227.07 152.38,227.46 152.5,227.07 152.62,226.67 152.75,226.27 152.87,225.87 152.99,225.47 153.11,225.07 153.23,224.67 153.35,224.27 153.47,223.87 153.6,223.47 153.72,223.07 153.84,222.67 153.96,222.27 154.08,222.67 154.2,223.07 154.32,223.47 154.45,223.87 154.57,224.27 154.69,224.67 154.81,225.07 154.93,225.47 155.05,225.87 155.18,226.27 155.3,226.67 155.42,227.07 155.54,227.46 155.66,227.07 155.78,226.67 155.9,226.27 156.03,225.87 156.15,225.47 156.27,225.07 156.39,224.67 156.51,224.27 156.63,223.87 156.75,223.47 156.88,223.07 157,222.67 157.12,222.27 157.24,222.67 157.36,223.07 157.48,223.47 157.61,223.87 157.73,224.27 157.85,224.67 157.97,225.07 158.09,225.47 158.21,225.87 158.33,226.27 158.46,226.67 158.58,227.07 158.7,227.46 158.82,227.07 158.94,226.67 159.06,226.27 159.18,225.87 159.31,225.47 159.43,225.07 159.55,224.67 159.67,224.27 159.79,223.87 159.91,223.47 160.03,223.07 160.16,222.67 160.28,222.27 160.4,222.67 160.52,223.07 160.64,223.47 160.76,223.87 160.89,224.27 161.01,224.67 161.13,225.07 161.25,225.47 161.37,225.87 161.49,226.27 161.61,226.67 161.74,227.07 161.86,227.46 161.98,227.07 162.1,226.67 162.22,226.27 162.34,225.87 162.47,225.47 162.59,225.07 162.71,224.67 162.83,224.27 162.95,223.87 163.07,223.47 163.19,223.07 163.32,222.67 163.44,222.27 163.56,222.67 163.68,223.07 163.8,223.47 163.92,223.87 164.04,224.27 164.17,224.67 164.29,225.07 164.41,225.47 164.53,225.87 164.65,226.27 164.77,226.67 164.9,227.07 165.02,227.46 165.14,227.07 165.26,226.67 165.38,226.27 165.5,225.87 165.62,225.47 165.75,225.07 165.87,224.67 165.99,224.27 166.11,223.87 166.23,223.47 166.35,223.07 166.47,222.67 166.6,222.27 166.72,222.67 166.84,223.07 166.96,223.47 167.08,223.87 167.2,224.27 167.33,224.67 167.45,225.07 167.57,225.47 167.69,225.87 167.81,226.27 167.93,226.67 168.05,227.07 168.18,227.46 168.3,227.07 168.42,226.67 168.54,226.27 168.66,225.87 168.78,225.47 168.9,225.07 169.03,224.67 169.15,224.27 169.27,223.87 169.39,223.47 169.51,223.07 169.63,222.67 169.76,222.27 169.88,222.67 170,223.07 170.12,223.47 170.24,223.87 170.36,224.27 170.48,224.67 170.61,225.07 170.73,225.47 170.85,225.87 170.97,226.27 171.09,226.67 171.21,227.07 171.33,227.46 171.46,227.07 171.58,226.67 171.7,226.27 171.82,225.87 171.94,225.47 172.06,225.07 172.19,224.67 172.31,224.27 172.43,223.87 172.55,223.47 172.67,223.07 172.79,222.67 172.91,222.27 173.04,222.67 173.16,223.07 173.28,223.47 173.4,223.87 173.52,224.27 173.64,224.67 173.76,225.07 173.89,225.47 174.01,225.87 174.13,226.27 174.25,226.67 174.37,227.07 174.49,227.46 174.62,227.07 174.74,226.67 174.86,226.27 174.98,225.87 175.1,225.47 175.22,225.07 175.34,224.67 175.47,224.27 175.59,223.87 175.71,223.47 175.83,223.07 175.95,222.67 176.07,222.27 176.19,222.67 176.32,223.07 176.44,223.47 176.56,223.87 176.68,224.27 176.8,224.67 176.92,225.07 177.05,225.47 177.17,225.87 177.29,226.27 177.41,226.67 177.53,227.07 177.65,227.46 177.77,227.07 177.9,226.67 178.02,226.27 178.14,225.87 178.26,225.47 178.38,225.07 178.5,224.67 178.62,224.27 178.75,223.87 178.87,223.47 178.99,223.07 179.11,222.67 179.23,222.27 179.35,222.67 179.48,223.07 179.6,223.47 179.72,223.87 179.84,224.27 179.96,224.67 180.08,225.07 180.2,225.47 180.33,225.87 180.45,226.27 180.57,226.67 180.69,227.07 180.81,227.46 180.93,227.07 181.05,226.67 181.18,226.27 181.3,225.87 181.42,225.47 181.54,225.07 181.66,224.67 181.78,224.27 181.91,223.87 182.03,223.47 182.15,223.07 182.27,222.67 182.39,222.27 182.51,222.67 182.63,223.07 182.76,223.47 182.88,223.87 183,224.27 183.12,224.67 183.24,225.07 183.36,225.47 183.48,225.87 183.61,226.27 183.73,226.67 183.85,227.07 183.97,227.46 184.09,227.07 184.21,226.67 184.34,226.27 184.46,225.87 184.58,225.47 184.7,225.07 184.82,224.67 184.94,224.27 185.06,223.87 185.19,223.47 185.31,223.07 185.43,222.67 185.55,222.27 185.67,222.67 185.79,223.07 185.91,223.47 186.04,223.87 186.16,224.27 186.28,224.67 186.4,225.07 186.52,225.47 186.64,225.87 186.77,226.27 186.89,226.67 187.01,227.07 187.13,227.46 187.25,227.07 187.37,226.67 187.49,226.27 187.62,225.87 187.74,225.47 187.86,225.07 187.98,224.67 188.1,224.27 188.22,223.87 188.34,223.47 188.47,223.07 188.59,222.67 188.71,222.27 188.83,222.67 188.95,223.07 189.07,223.47 189.2,223.87 189.32,224.27 189.44,224.67 189.56,225.07 189.68,225.47 189.8,225.87 189.92,226.27 190.05,226.67 190.17,227.07 190.29,227.46 190.41,227.07 190.53,226.67 190.65,226.27 190.77,225.87 190.9,225.47 191.02,225.07 191.14,224.67 191.26,224.27 191.38,223.87 191.5,223.47 191.63,223.07 191.75,222.67 191.87,222.27 191.99,222.67 192.11,223.07 192.23,223.47 192.35,223.87 192.48,224.27 192.6,224.67 192.72,225.07 192.84,225.47 192.96,225.87 193.08,226.27 193.2,226.67 193.33,227.07 193.45,227.46 193.57,227.07 193.69,226.67 193.81,226.27 193.93,225.87 194.06,225.47 194.18,225.07 194.3,224.67 194.42,224.27 194.54,223.87 194.66,223.47 194.78,223.07 194.91,222.67 195.03,222.27 195.15,222.67 195.27,223.07 195.39,223.47 195.51,223.87 195.63,224.27 195.76,224.67 195.88,225.07 196,225.47 196.12,225.87 196.24,226.27 196.36,226.67 196.49,227.07 196.61,227.46 196.73,227.07 196.85,226.67 196.97,226.27 197.09,225.87 197.21,225.47 197.34,225.07 197.46,224.67 197.58,224.27 197.7,223.87 197.82,223.47 197.94,223.07 198.06,222.67 198.19,222.27 198.31,222.67 198.43,223.07 198.55,223.47 198.67,223.87 198.79,224.27 198.91,224.67 199.04,225.07 199.16,225.47 199.28,225.87 199.4,226.27 199.52,226.67 199.64,227.07 199.77,227.46 199.89,227.07 200.01,226.67 200.13,226.27 200.25,225.87 200.37,225.47 200.49,225.07 200.62,224.67 200.74,224.27 200.86,223.87 200.98,223.47 201.1,223.07 201.22,222.67 201.35,222.27 201.47,222.67 201.59,223.07 201.71,223.47 201.83,223.87 201.95,224.27 202.07,224.67 202.2,225.07 202.32,225.47 202.44,225.87 202.56,226.27 202.68,226.67 202.8,227.07 202.92,227.46 203.05,227.07 203.17,226.67 203.29,226.27 203.41,225.87 203.53,225.47 203.65,225.07 203.78,224.67 203.9,224.27 204.02,223.87 204.14,223.47 204.26,223.07 204.38,222.67 204.5,222.27 204.63,222.67 204.75,223.07 204.87,223.47 204.99,223.87 205.11,224.27 205.23,224.67 205.35,225.07 205.48,225.47 205.6,225.87 205.72,226.27 205.84,226.67 205.96,227.07 206.08,227.46 206.21,227.07 206.33,226.67 206.45,226.27 206.57,225.87 206.69,225.47 206.81,225.07 206.93,224.67 207.06,224.27 207.18,223.87 207.3,223.47 207.42,223.07 207.54,222.67 207.66,222.27 207.78,222.67 207.91,223.07 208.03,223.47 208.15,223.87 208.27,224.27 208.39,224.67 208.51,225.07 208.64,225.47 208.76,225.87 208.88,226.27 209,226.67 209.12,227.07 209.24,227.46 209.36,227.07 209.49,226.67 209.61,226.27 209.73,225.87 209.85,225.47 209.97,225.07 210.09,224.67 210.21,224.27 210.34,223.87 210.46,223.47 210.58,223.07 210.7,222.67 210.82,222.27 210.94,222.67 211.06,223.07 211.19,223.47 211.31,223.87 211.43,224.27 211.55,224.67 211.67,225.07 211.79,225.47 211.92,225.87 212.04,226.27 212.16,226.67 212.28,227.07 212.4,227.46 212.52,227.07 212.64,226.67 212.77,226.27 212.89,225.87 213.01,225.47 213.13,225.07 213.25,224.67 213.37,224.27 213.5,223.87 213.62,223.47 213.74,223.07 213.86,222.67 213.98,222.27 214.1,222.67 214.22,223.07 214.35,223.47 214.47,223.87 214.59,224.27 214.71,224.67 214.83,225.07 214.95,225.47 215.07,225.87 215.2,226.27 215.32,226.67 215.44,227.07 215.56,227.46 215.68,227.07 215.8,226.67 215.93,226.27 216.05,225.87 216.17,225.47 216.29,225.07 216.41,224.67 216.53,224.27 216.65,223.87 216.78,223.47 216.9,223.07 217.02,222.67 217.14,222.27 217.26,222.67 217.38,223.07 217.5,223.47 217.63,223.87 217.75,224.27 217.87,224.67 217.99,225.07 218.11,225.47 218.23,225.87 218.36,226.27 218.48,226.67 218.6,227.07 218.72,227.46 218.84,227.07 218.96,226.67 219.08,226.27 219.21,225.87 219.33,225.47 219.45,225.07 219.57,224.67 219.69,224.27 219.81,223.87 219.93,223.47 220.06,223.07 220.18,222.67 220.3,222.27 220.42,222.67 220.54,223.07 220.66,223.47 220.79,223.87 220.91,224.27 221.03,224.67 221.15,225.07 221.27,225.47 221.39,225.87 221.51,226.27 221.64,226.67 221.76,227.07 221.88,227.46 222,227.07 222.12,226.67 222.24,226.27 222.36,225.87 222.49,225.47 222.61,225.07 222.73,224.67 222.85,224.27 222.97,223.87 223.09,223.47 223.22,223.07 223.34,222.67 223.46,222.27 223.58,222.67 223.7,223.07 223.82,223.47 223.94,223.87 224.07,224.27 224.19,224.67 224.31,225.07 224.43,225.47 224.55,225.87 224.67,226.27 224.79,226.67 224.92,227.07 225.04,227.46 225.16,227.07 225.28,226.67 225.4,226.27 225.52,225.87 225.65,225.47 225.77,225.07 225.89,224.67 226.01,224.27 226.13,223.87 226.25,223.47 226.37,223.07 226.5,222.67 226.62,222.27 226.74,222.67 226.86,223.07 226.98,223.47 227.1,223.87 227.22,224.27 227.35,224.67 227.47,225.07 227.59,225.47 227.71,225.87 227.83,226.27 227.95,226.67 228.08,227.07 228.2,227.46 228.32,227.07 228.44,226.67 228.56,226.27 228.68,225.87 228.8,225.47 228.93,225.07 229.05,224.67 229.17,224.27 229.29,223.87 229.41,223.47 229.53,223.07 229.65,222.67 229.78,222.27 229.9,222.67 230.02,223.07 230.14,223.47 230.26,223.87 230.38,224.27 230.51,224.67 230.63,225.07 230.75,225.47 230.87,225.87 230.99,226.27 231.11,226.67 231.23,227.07 231.36,227.46 231.48,227.07 231.6,226.67 231.72,226.27 231.84,225.87 231.96,225.47 232.08,225.07 232.21,224.67 232.33,224.27 232.45,223.87 232.57,223.47 232.69,223.07 232.81,222.67 232.93,222.27 233.06,222.67 233.18,223.07 233.3,223.47 233.42,223.87 233.54,224.27 233.66,224.67 233.79,225.07 233.91,225.47 234.03,225.87 234.15,226.27 234.27,226.67 234.39,227.07 234.51,227.46 234.64,227.07 234.76,226.67 234.88,226.27 235,225.87 235.12,225.47 235.24,225.07 235.37,224.67 235.49,224.27 235.61,223.87 235.73,223.47 235.85,223.07 235.97,222.67 236.09,222.27 236.22,222.67 236.34,223.07 236.46,223.47 236.58,223.87 236.7,224.27 236.82,224.67 236.94,225.07 237.07,225.47 237.19,225.87 237.31,226.27 237.43,226.67 237.55,227.07 237.67,227.46 237.8,227.07 237.92,226.67 238.04,226.27 238.16,225.87 238.28,225.47 238.4,225.07 238.52,224.67 238.65,224.27 238.77,223.87 238.89,223.47 239.01,223.07 239.13,222.67 239.25,222.27 239.37,222.67 239.5,223.07 239.62,223.47 239.74,223.87 239.86,224.27 239.98,224.67 240.1,225.07 240.23,225.47 240.35,225.87 240.47,226.27 240.59,226.67 240.71,227.07 240.83,227.46 240.95,227.07 241.08,226.67 241.2,226.27 241.32,225.87 241.44,225.47 241.56,225.07 241.68,224.67 241.8,224.27 241.93,223.87 242.05,223.47 242.17,223.07 242.29,222.67 242.41,222.27 242.53,222.67 242.66,223.07 242.78,223.47 242.9,223.87 243.02,224.27 243.14,224.67 243.26,225.07 243.38,225.47 243.51,225.87 243.63,226.27 243.75,226.67 243.87,227.07 243.99,227.46 244.11,227.07 244.23,226.67 244.36,226.27 244.48,225.87 244.6,225.47 244.72,225.07 244.84,224.67 244.96,224.27 245.09,223.87 245.21,223.47 245.33,223.07 245.45,222.67 245.57,222.27 245.69,222.67 245.81,223.07 245.94,223.47 246.06,223.87 246.18,224.27 246.3,224.67 246.42,225.07 246.54,225.47 246.66,225.87 246.79,226.27 246.91,226.67 247.03,227.07 247.15,227.46 247.27,227.07 247.39,226.67 247.52,226.27 247.64,225.87 247.76,225.47 247.88,225.07 248,224.67 248.12,224.27 248.24,223.87 248.37,223.47 248.49,223.07 248.61,222.67 248.73,222.27 248.85,222.67 248.97,223.07 249.09,223.47 249.22,223.87 249.34,224.27 249.46,224.67 249.58,225.07 249.7,225.47 249.82,225.87 249.95,226.27 250.07,226.67 250.19,227.07 250.31,227.46 250.43,227.07 250.55,226.67 250.67,226.27 250.8,225.87 250.92,225.47 251.04,225.07 251.16,224.67 251.28,224.27 251.4,223.87 251.52,223.47 251.65,223.07 251.77,222.67 251.89,222.27 252.01,222.67 252.13,223.07 252.25,223.47 252.38,223.87 252.5,224.27 252.62,224.67 252.74,225.07 252.86,225.47 252.98,225.87 253.1,226.27 253.23,226.67 253.35,227.07 253.47,227.46 253.59,227.07 253.71,226.67 253.83,226.27 253.95,225.87 254.08,225.47 254.2,225.07 254.32,224.67 254.44,224.27 254.56,223.87 254.68,223.47 254.81,223.07 254.93,222.67 255.05,222.27 255.17,222.67 255.29,223.07 255.41,223.47 255.53,223.87 255.66,224.27 255.78,224.67 255.9,225.07 256.02,225.47 256.14,225.87 256.26,226.27 256.38,226.67 256.51,227.07 256.63,227.46 256.75,227.07 256.87,226.67 256.99,226.27 257.11,225.87 257.24,225.47 257.36,225.07 257.48,224.67 257.6,224.27 257.72,223.87 257.84,223.47 257.96,223.07 258.09,222.67 258.21,222.27 258.33,222.67 258.45,223.07 258.57,223.47 258.69,223.87 258.81,224.27 258.94,224.67 259.06,225.07 259.18,225.47 259.3,225.87 259.42,226.27 259.54,226.67 259.67,227.07 259.79,227.46 259.91,227.07 260.03,226.67 260.15,226.27 260.27,225.87 260.39,225.47 260.52,225.07 260.64,224.67 260.76,224.27 260.88,223.87 261,223.47 261.12,223.07 261.24,222.67 261.37,222.27 261.49,222.67 261.61,223.07 261.73,223.47 261.85,223.87 261.97,224.27 262.1,224.67 262.22,225.07 262.34,225.47 262.46,225.87 262.58,226.27 262.7,226.67 262.82,227.07 262.95,227.46 263.07,227.07 263.19,226.67 263.31,226.27 263.43,225.87 263.55,225.47 263.67,225.07 263.8,224.67 263.92,224.27 264.04,223.87 264.16,223.47 264.28,223.07 264.4,222.67 264.53,222.27 264.65,222.67 264.77,223.07 264.89,223.47 265.01,223.87 265.13,224.27 265.25,224.67 265.38,225.07 265.5,225.47 265.62,225.87 265.74,226.27 265.86,226.67 265.98,227.07 266.1,227.46 266.23,227.07 266.35,226.67 266.47,226.27 266.59,225.87 266.71,225.47 266.83,225.07 266.96,224.67 267.08,224.27 267.2,223.87 267.32,223.47 267.44,223.07 267.56,222.67 267.68,222.27 267.81,222.67 267.93,223.07 268.05,223.47 268.17,223.87 268.29,224.27 268.41,224.67 268.53,225.07 268.66,225.47 268.78,225.87 268.9,226.27 269.02,226.67 269.14,227.07 269.26,227.46 269.39,227.07 269.51,226.67 269.63,226.27 269.75,225.87 269.87,225.47 269.99,225.07 270.11,224.67 270.24,224.27 270.36,223.87 270.48,223.47 270.6,223.07" fill="none" stroke="#3fac3a" stroke-width="2.7" stroke-linejoin="round" stroke-linecap="round"/>
<line x1="77" y1="226.37" x2="77" y2="237.35" stroke="#3fac3a" stroke-width="1.2"/>
<circle cx="77" cy="227.37" r="0.8" fill="#3fac3a"/>
<circle cx="77" cy="230.69" r="0.8" fill="#3fac3a"/>
<circle cx="77" cy="234.02" r="0.8" fill="#3fac3a"/>
<circle cx="77" cy="237.35" r="0.8" fill="#3fac3a"/>
<line x1="101.3" y1="226.37" x2="101.3" y2="231.36" stroke="#3fac3a" stroke-width="1.2"/>
<circle cx="101.3" cy="227.37" r="0.8" fill="#3fac3a"/>
<circle cx="101.3" cy="228.7" r="0.8" fill="#3fac3a"/>
<circle cx="101.3" cy="230.03" r="0.8" fill="#3fac3a"/>
<circle cx="101.3" cy="231.36" r="0.8" fill="#3fac3a"/>
<line x1="125.6" y1="226.37" x2="125.6" y2="235.35" stroke="#3fac3a" stroke-width="1.2"/>
<circle cx="125.6" cy="227.37" r="0.8" fill="#3fac3a"/>
<circle cx="125.6" cy="230.03" r="0.8" fill="#3fac3a"/>
<circle cx="125.6" cy="232.69" r="0.8" fill="#3fac3a"/>
<circle cx="125.6" cy="235.35" r="0.8" fill="#3fac3a"/>
<line x1="149.9" y1="226.37" x2="149.9" y2="232.86" stroke="#3fac3a" stroke-width="1.2"/>
<circle cx="149.9" cy="227.37" r="0.8" fill="#3fac3a"/>
<circle cx="149.9" cy="229.2" r="0.8" fill="#3fac3a"/>
<circle cx="149.9" cy="231.03" r="0.8" fill="#3fac3a"/>
<circle cx="149.9" cy="232.86" r="0.8" fill="#3fac3a"/>
<line x1="174.2" y1="226.37" x2="174.2" y2="234.05" stroke="#3fac3a" stroke-width="1.2"/>
<circle cx="174.2" cy="227.37" r="0.8" fill="#3fac3a"/>
<circle cx="174.2" cy="229.59" r="0.8" fill="#3fac3a"/>
<circle cx="174.2" cy="231.82" r="0.8" fill="#3fac3a"/>
<circle cx="174.2" cy="234.05" r="0.8" fill="#3fac3a"/>
<polyline points="27.6,246.33 27.72,246.33 27.84,246.32 27.96,246.31 28.09,246.28 28.21,246.26 28.33,246.23 28.45,246.19 28.57,246.15 28.69,246.1 28.82,246.05 28.94,245.99 29.06,245.93 29.18,245.87 29.3,245.8 29.42,245.73 29.54,245.66 29.67,245.58 29.79,245.5 29.91,245.42 30.03,245.33 30.15,245.23 30.27,245.11 30.39,244.95 30.52,244.78 30.64,244.58 30.76,244.36 30.88,244.11 31,243.86 31.12,243.58 31.25,243.29 31.37,242.98 31.49,242.67 31.61,242.34 31.73,241.97 31.85,241.53 31.97,241.04 32.1,240.49 32.22,239.9 32.34,239.28 32.46,238.63 32.58,237.97 32.7,237.31 32.82,236.64 32.95,235.99 33.07,235.35 33.19,234.72 33.31,234.07 33.43,233.4 33.55,232.72 33.68,232.03 33.8,231.34 33.92,230.65 34.04,229.96 34.16,229.27 34.28,228.6 34.4,227.94 34.53,227.29 34.65,226.67 34.77,226.05 34.89,225.42 35.01,224.78 35.13,224.13 35.25,223.48 35.38,222.83 35.5,222.18 35.62,221.53 35.74,220.89 35.86,220.26 35.98,219.64 36.11,219.04 36.23,218.45 36.35,217.89 36.47,217.34 36.59,216.83 36.71,216.33 36.83,215.87 36.96,215.45 37.08,215.05 37.2,214.7 37.32,214.39 37.44,214.1 37.56,213.81 37.68,213.52 37.81,213.24 37.93,212.97 38.05,212.7 38.17,212.44 38.29,212.2 38.41,211.96 38.54,211.73 38.66,211.52 38.78,211.32 38.9,211.14 39.02,210.97 39.14,210.83 39.26,210.7 39.39,210.59 39.51,210.5 39.63,210.43 39.75,210.39 39.87,210.4 39.99,210.42 40.11,210.46 40.24,210.52 40.36,210.59 40.48,210.67 40.6,210.77 40.72,210.88 40.84,211.01 40.97,211.15 41.09,211.31 41.21,211.48 41.33,211.67 41.45,211.87 41.57,212.08 41.69,212.31 41.82,212.55 41.94,212.8 42.06,213.07 42.18,213.34 42.3,213.63 42.42,213.93 42.54,214.24 42.67,214.56 42.79,214.89 42.91,215.23 43.03,215.58 43.15,215.94 43.27,216.31 43.4,216.68 43.52,217.07 43.64,217.46 43.76,217.85 43.88,218.25 44,218.66 44.12,219.07 44.25,219.49 44.37,219.91 44.49,220.33 44.61,220.75 44.73,221.18 44.85,221.61 44.97,222.04 45.1,222.47 45.22,222.9 45.34,223.33 45.46,223.76 45.58,224.19 45.7,224.62 45.83,225.04 45.95,225.46 46.07,225.88 46.19,226.29 46.31,226.69 46.43,227.1 46.55,227.49 46.68,227.88 46.8,228.26 46.92,228.64 47.04,229 47.16,229.36 47.28,229.71 47.4,230.05 47.53,230.38 47.65,230.7 47.77,231.01 47.89,231.31 48.01,231.6 48.13,231.88 48.26,232.14 48.38,232.4 48.5,232.64 48.62,232.86 48.74,233.08 48.86,233.28 48.98,233.46 49.11,233.63 49.23,233.79 49.35,233.93 49.47,234.06 49.59,234.18 49.71,234.28 49.83,234.36 49.96,234.43 50.08,234.48 50.2,234.52 50.32,234.55 50.44,234.55 50.56,234.55 50.69,234.54 50.81,234.53 50.93,234.51 51.05,234.49 51.17,234.46 51.29,234.43 51.41,234.39 51.54,234.35 51.66,234.3 51.78,234.25 51.9,234.2 52.02,234.13 52.14,234.07 52.26,234 52.39,233.92 52.51,233.84 52.63,233.76 52.75,233.67 52.87,233.58 52.99,233.49 53.12,233.39 53.24,233.28 53.36,233.18 53.48,233.07 53.6,232.95 53.72,232.83 53.84,232.71 53.97,232.59 54.09,232.46 54.21,232.33 54.33,232.2 54.45,232.07 54.57,231.93 54.69,231.79 54.82,231.65 54.94,231.5 55.06,231.36 55.18,231.21 55.3,231.06 55.42,230.91 55.55,230.76 55.67,230.61 55.79,230.46 55.91,230.3 56.03,230.15 56.15,229.99 56.27,229.84 56.4,229.68 56.52,229.53 56.64,229.37 56.76,229.22 56.88,229.07 57,228.91 57.12,228.76 57.25,228.61 57.37,228.46 57.49,228.31 57.61,228.16 57.73,228.02 57.85,227.87 57.98,227.73 58.1,227.59 58.22,227.46 58.34,227.32 58.46,227.19 58.58,227.06 58.7,226.93 58.83,226.81 58.95,226.69 59.07,226.57 59.19,226.46 59.31,226.35 59.43,226.24 59.55,226.13 59.68,226.04 59.8,225.94 59.92,225.85 60.04,225.76 60.16,225.68 60.28,225.6 60.41,225.52 60.53,225.45 60.65,225.39 60.77,225.33 60.89,225.27 61.01,225.22 61.13,225.17 61.26,225.13 61.38,225.09 61.5,225.06 61.62,225.03 61.74,225.01 61.86,224.99 61.98,224.98 62.11,224.97 62.23,224.97 62.35,224.97 62.47,224.97 62.59,224.98 62.71,224.98 62.84,224.99 62.96,225 63.08,225.01 63.2,225.02 63.32,225.04 63.44,225.05 63.56,225.07 63.69,225.09 63.81,225.11 63.93,225.13 64.05,225.15 64.17,225.18 64.29,225.21 64.41,225.24 64.54,225.26 64.66,225.3 64.78,225.33 64.9,225.36 65.02,225.4 65.14,225.43 65.27,225.47 65.39,225.51 65.51,225.55 65.63,225.59 65.75,225.64 65.87,225.68 65.99,225.73 66.12,225.77 66.24,225.82 66.36,225.87 66.48,225.92 66.6,225.97 66.72,226.02 66.84,226.07 66.97,226.13 67.09,226.18 67.21,226.24 67.33,226.29 67.45,226.35 67.57,226.41 67.7,226.46 67.82,226.52 67.94,226.58 68.06,226.64 68.18,226.7 68.3,226.76 68.42,226.82 68.55,226.88 68.67,226.94 68.79,227 68.91,227.06 69.03,227.12 69.15,227.18 69.27,227.25 69.4,227.31 69.52,227.37 69.64,227.43 69.76,227.49 69.88,227.55 70,227.61 70.12,227.67 70.25,227.73 70.37,227.79 70.49,227.85 70.61,227.91 70.73,227.97 70.85,228.03 70.98,228.08 71.1,228.14 71.22,228.19 71.34,228.25 71.46,228.3 71.58,228.36 71.7,228.41 71.83,228.46 71.95,228.51 72.07,228.56 72.19,228.61 72.31,228.66 72.43,228.7 72.56,228.75 72.68,228.79 72.8,228.84 72.92,228.88 73.04,228.92 73.16,228.96 73.28,229 73.41,229.03 73.53,229.07 73.65,229.1 73.77,229.13 73.89,229.17 74.01,229.2 74.13,229.22 74.26,229.25 74.38,229.28 74.5,229.3 74.62,229.32 74.74,229.34 74.86,229.36 74.99,229.38 75.11,229.39 75.23,229.41 75.35,229.42 75.47,229.43 75.59,229.44 75.71,229.45 75.84,229.45 75.96,229.46 76.08,229.46" fill="none" stroke="#ff7014" stroke-width="3.1" stroke-linejoin="round" stroke-linecap="round"/>
<polyline points="77.9,257.32 78.02,256.24 78.14,255.18 78.27,254.13 78.39,253.09 78.51,252.07 78.63,251.06 78.75,250.07 78.87,249.09 78.99,248.13 79.12,247.18 79.24,246.24 79.36,245.33 79.48,244.43 79.6,243.55 79.72,242.69 79.84,241.84 79.97,241 80.09,240.16 80.21,239.33 80.33,238.49 80.45,237.67 80.57,236.85 80.7,236.05 80.82,235.26 80.94,234.49 81.06,233.74 81.18,233.02 81.3,232.33 81.42,231.66 81.55,231.03 81.67,230.43 81.79,229.88 81.91,229.36 82.03,228.87 82.15,228.39 82.27,227.93 82.4,227.47 82.52,227.02 82.64,226.58 82.76,226.15 82.88,225.74 83,225.33 83.13,224.93 83.25,224.55 83.37,224.17 83.49,223.81 83.61,223.46 83.73,223.12 83.85,222.79 83.98,222.47 84.1,222.17 84.22,221.88 84.34,221.6 84.46,221.33 84.58,221.07 84.7,220.83 84.83,220.6 84.95,220.38 85.07,220.16 85.19,219.95 85.31,219.73 85.43,219.52 85.56,219.3 85.68,219.09 85.8,218.88 85.92,218.68 86.04,218.48 86.16,218.29 86.28,218.11 86.41,217.93 86.53,217.77 86.65,217.61 86.77,217.47 86.89,217.34 87.01,217.23 87.13,217.13 87.26,217.04 87.38,216.97 87.5,216.92 87.62,216.89 87.74,216.88 87.86,216.89 87.99,216.92 88.11,216.98 88.23,217.05 88.35,217.13 88.47,217.24 88.59,217.36 88.71,217.49 88.84,217.64 88.96,217.81 89.08,217.98 89.2,218.17 89.32,218.37 89.44,218.58 89.56,218.79 89.69,219.02 89.81,219.25 89.93,219.49 90.05,219.73 90.17,219.98 90.29,220.23 90.42,220.48 90.54,220.74 90.66,220.99 90.78,221.25 90.9,221.5 91.02,221.75 91.14,222 91.27,222.24 91.39,222.48 91.51,222.71 91.63,222.94 91.75,223.16 91.87,223.37 91.99,223.58 92.12,223.8 92.24,224.03 92.36,224.26 92.48,224.5 92.6,224.75 92.72,225 92.85,225.25 92.97,225.51 93.09,225.77 93.21,226.04 93.33,226.3 93.45,226.56 93.57,226.83 93.7,227.09 93.82,227.35 93.94,227.61 94.06,227.86 94.18,228.11 94.3,228.36 94.42,228.6 94.55,228.83 94.67,229.05 94.79,229.27 94.91,229.48 95.03,229.68 95.15,229.87 95.28,230.05 95.4,230.22 95.52,230.38 95.64,230.52 95.76,230.65 95.88,230.76 96,230.86 96.13,230.96 96.25,231.06 96.37,231.15 96.49,231.24 96.61,231.33 96.73,231.41 96.85,231.49 96.98,231.57 97.1,231.65 97.22,231.72 97.34,231.79 97.46,231.86 97.58,231.93 97.71,231.99 97.83,232.05 97.95,232.12 98.07,232.18 98.19,232.24 98.31,232.29 98.43,232.35 98.56,232.41 98.68,232.47 98.8,232.52 98.92,232.58 99.04,232.64 99.16,232.7 99.28,232.75 99.41,232.81 99.53,232.87 99.65,232.93 99.77,232.99 99.89,233.06 100.01,233.12 100.14,233.18 100.26,233.24 100.38,233.3 100.5,233.35" fill="none" stroke="#ff7014" stroke-width="3.1" stroke-linejoin="round" stroke-linecap="round"/>
<polyline points="102.2,257.32 102.32,256.24 102.44,255.18 102.57,254.13 102.69,253.09 102.81,252.07 102.93,251.06 103.05,250.07 103.17,249.09 103.29,248.13 103.42,247.18 103.54,246.24 103.66,245.33 103.78,244.43 103.9,243.55 104.02,242.69 104.14,241.84 104.27,241.01 104.39,240.18 104.51,239.35 104.63,238.54 104.75,237.73 104.87,236.93 105,236.15 105.12,235.38 105.24,234.62 105.36,233.89 105.48,233.17 105.6,232.47 105.72,231.8 105.85,231.15 105.97,230.53 106.09,229.93 106.21,229.36 106.33,228.81 106.45,228.26 106.57,227.72 106.7,227.18 106.82,226.65 106.94,226.13 107.06,225.61 107.18,225.1 107.3,224.6 107.43,224.11 107.55,223.64 107.67,223.17 107.79,222.72 107.91,222.28 108.03,221.85 108.15,221.44 108.28,221.05 108.4,220.67 108.52,220.31 108.64,219.97 108.76,219.65 108.88,219.35 109,219.07 109.13,218.81 109.25,218.58 109.37,218.36 109.49,218.13 109.61,217.91 109.73,217.69 109.86,217.47 109.98,217.26 110.1,217.05 110.22,216.85 110.34,216.65 110.46,216.46 110.58,216.28 110.71,216.11 110.83,215.94 110.95,215.79 111.07,215.65 111.19,215.53 111.31,215.42 111.43,215.32 111.56,215.24 111.68,215.17 111.8,215.12 111.92,215.1 112.04,215.09 112.16,215.1 112.29,215.13 112.41,215.17 112.53,215.24 112.65,215.32 112.77,215.42 112.89,215.54 113.01,215.67 113.14,215.81 113.26,215.97 113.38,216.14 113.5,216.32 113.62,216.51 113.74,216.71 113.86,216.92 113.99,217.14 114.11,217.37 114.23,217.6 114.35,217.84 114.47,218.08 114.59,218.33 114.72,218.58 114.84,218.84 114.96,219.09 115.08,219.35 115.2,219.61 115.32,219.86 115.44,220.12 115.57,220.37 115.69,220.62 115.81,220.87 115.93,221.11 116.05,221.34 116.17,221.57 116.29,221.81 116.42,222.06 116.54,222.32 116.66,222.6 116.78,222.89 116.9,223.19 117.02,223.49 117.15,223.81 117.27,224.13 117.39,224.46 117.51,224.79 117.63,225.13 117.75,225.46 117.87,225.8 118,226.14 118.12,226.48 118.24,226.81 118.36,227.14 118.48,227.46 118.6,227.78 118.72,228.09 118.85,228.39 118.97,228.68 119.09,228.96 119.21,229.22 119.33,229.48 119.45,229.71 119.58,229.94 119.7,230.14 119.82,230.33 119.94,230.49 120.06,230.64 120.18,230.76 120.3,230.87 120.43,230.97 120.55,231.07 120.67,231.17 120.79,231.26 120.91,231.35 121.03,231.44 121.15,231.52 121.28,231.6 121.4,231.67 121.52,231.74 121.64,231.81 121.76,231.88 121.88,231.95 122.01,232.01 122.13,232.08 122.25,232.14 122.37,232.2 122.49,232.25 122.61,232.31 122.73,232.37 122.86,232.42 122.98,232.48 123.1,232.53 123.22,232.59 123.34,232.64 123.46,232.7 123.58,232.76 123.71,232.81 123.83,232.87 123.95,232.93 124.07,232.99 124.19,233.06 124.31,233.12 124.44,233.18 124.56,233.24 124.68,233.3 124.8,233.35" fill="none" stroke="#ff7014" stroke-width="3.1" stroke-linejoin="round" stroke-linecap="round"/>
<polyline points="126.5,257.31 126.62,256.24 126.74,255.18 126.87,254.13 126.99,253.09 127.11,252.07 127.23,251.06 127.35,250.07 127.47,249.09 127.59,248.13 127.72,247.18 127.84,246.24 127.96,245.33 128.08,244.43 128.2,243.55 128.32,242.69 128.44,241.84 128.57,241.01 128.69,240.19 128.81,239.37 128.93,238.57 129.05,237.78 129.17,237 129.3,236.23 129.42,235.48 129.54,234.73 129.66,234.01 129.78,233.29 129.9,232.6 130.02,231.91 130.15,231.25 130.27,230.6 130.39,229.97 130.51,229.36 130.63,228.76 130.75,228.15 130.87,227.54 131,226.93 131.12,226.32 131.24,225.72 131.36,225.12 131.48,224.52 131.6,223.94 131.73,223.36 131.85,222.79 131.97,222.24 132.09,221.7 132.21,221.17 132.33,220.66 132.45,220.18 132.58,219.71 132.7,219.26 132.82,218.84 132.94,218.44 133.06,218.07 133.18,217.73 133.3,217.41 133.43,217.13 133.55,216.88 133.67,216.65 133.79,216.42 133.91,216.2 134.03,215.97 134.16,215.75 134.28,215.54 134.4,215.33 134.52,215.12 134.64,214.93 134.76,214.74 134.88,214.56 135.01,214.39 135.13,214.23 135.25,214.08 135.37,213.94 135.49,213.82 135.61,213.71 135.73,213.62 135.86,213.54 135.98,213.47 136.1,213.43 136.22,213.4 136.34,213.39 136.46,213.4 136.59,213.43 136.71,213.47 136.83,213.54 136.95,213.62 137.07,213.71 137.19,213.82 137.31,213.95 137.44,214.09 137.56,214.24 137.68,214.4 137.8,214.58 137.92,214.77 138.04,214.96 138.16,215.17 138.29,215.38 138.41,215.6 138.53,215.83 138.65,216.07 138.77,216.31 138.89,216.56 139.02,216.81 139.14,217.06 139.26,217.32 139.38,217.58 139.5,217.84 139.62,218.1 139.74,218.36 139.87,218.62 139.99,218.88 140.11,219.13 140.23,219.38 140.35,219.63 140.47,219.88 140.59,220.13 140.72,220.41 140.84,220.7 140.96,221.02 141.08,221.35 141.2,221.7 141.32,222.06 141.45,222.43 141.57,222.81 141.69,223.2 141.81,223.6 141.93,224.01 142.05,224.41 142.17,224.82 142.3,225.23 142.42,225.64 142.54,226.05 142.66,226.45 142.78,226.84 142.9,227.23 143.02,227.6 143.15,227.97 143.27,228.32 143.39,228.66 143.51,228.98 143.63,229.28 143.75,229.57 143.88,229.83 144,230.07 144.12,230.28 144.24,230.47 144.36,230.63 144.48,230.76 144.6,230.87 144.73,230.98 144.85,231.08 144.97,231.18 145.09,231.27 145.21,231.36 145.33,231.45 145.45,231.53 145.58,231.61 145.7,231.69 145.82,231.76 145.94,231.83 146.06,231.9 146.18,231.97 146.31,232.03 146.43,232.09 146.55,232.15 146.67,232.21 146.79,232.27 146.91,232.32 147.03,232.38 147.16,232.43 147.28,232.49 147.4,232.54 147.52,232.59 147.64,232.65 147.76,232.7 147.88,232.76 148.01,232.82 148.13,232.87 148.25,232.93 148.37,232.99 148.49,233.06 148.61,233.12 148.74,233.18 148.86,233.24 148.98,233.3" fill="none" stroke="#ff7014" stroke-width="3.1" stroke-linejoin="round" stroke-linecap="round"/>
<polyline points="150.8,257.31 150.92,256.24 151.04,255.18 151.17,254.13 151.29,253.09 151.41,252.07 151.53,251.06 151.65,250.07 151.77,249.09 151.89,248.13 152.02,247.18 152.14,246.24 152.26,245.33 152.38,244.43 152.5,243.55 152.62,242.69 152.74,241.84 152.87,241.01 152.99,240.17 153.11,239.34 153.23,238.52 153.35,237.71 153.47,236.9 153.6,236.11 153.72,235.33 153.84,234.57 153.96,233.83 154.08,233.12 154.2,232.42 154.32,231.75 154.45,231.11 154.57,230.49 154.69,229.91 154.81,229.36 154.93,228.83 155.05,228.31 155.17,227.8 155.3,227.29 155.42,226.79 155.54,226.3 155.66,225.82 155.78,225.34 155.9,224.88 156.03,224.43 156.15,223.99 156.27,223.56 156.39,223.14 156.51,222.74 156.63,222.34 156.75,221.97 156.88,221.6 157,221.25 157.12,220.92 157.24,220.6 157.36,220.3 157.48,220.02 157.6,219.75 157.73,219.51 157.85,219.28 157.97,219.06 158.09,218.84 158.21,218.62 158.33,218.4 158.46,218.18 158.58,217.97 158.7,217.76 158.82,217.56 158.94,217.36 159.06,217.17 159.18,216.99 159.31,216.82 159.43,216.65 159.55,216.5 159.67,216.36 159.79,216.23 159.91,216.12 160.03,216.02 160.16,215.94 160.28,215.87 160.4,215.82 160.52,215.79 160.64,215.78 160.76,215.79 160.89,215.82 161.01,215.87 161.13,215.94 161.25,216.03 161.37,216.13 161.49,216.25 161.61,216.38 161.74,216.52 161.86,216.68 161.98,216.85 162.1,217.04 162.22,217.23 162.34,217.44 162.46,217.65 162.59,217.87 162.71,218.1 162.83,218.33 162.95,218.57 163.07,218.82 163.19,219.07 163.32,219.32 163.44,219.57 163.56,219.83 163.68,220.08 163.8,220.34 163.92,220.59 164.04,220.85 164.17,221.1 164.29,221.34 164.41,221.58 164.53,221.82 164.65,222.05 164.77,222.27 164.89,222.5 165.02,222.74 165.14,222.99 165.26,223.25 165.38,223.52 165.5,223.8 165.62,224.08 165.75,224.37 165.87,224.67 165.99,224.97 166.11,225.28 166.23,225.59 166.35,225.89 166.47,226.2 166.6,226.51 166.72,226.82 166.84,227.12 166.96,227.42 167.08,227.71 167.2,228 167.32,228.29 167.45,228.56 167.57,228.82 167.69,229.08 167.81,229.32 167.93,229.56 168.05,229.78 168.18,229.98 168.3,230.17 168.42,230.34 168.54,230.5 168.66,230.64 168.78,230.76 168.9,230.87 169.03,230.97 169.15,231.07 169.27,231.16 169.39,231.26 169.51,231.34 169.63,231.43 169.75,231.51 169.88,231.59 170,231.66 170.12,231.74 170.24,231.81 170.36,231.87 170.48,231.94 170.61,232 170.73,232.07 170.85,232.13 170.97,232.19 171.09,232.25 171.21,232.31 171.33,232.36 171.46,232.42 171.58,232.47 171.7,232.53 171.82,232.59 171.94,232.64 172.06,232.7 172.18,232.76 172.31,232.81 172.43,232.87 172.55,232.93 172.67,232.99 172.79,233.06 172.91,233.12 173.04,233.18 173.16,233.24 173.28,233.3" fill="none" stroke="#ff7014" stroke-width="3.1" stroke-linejoin="round" stroke-linecap="round"/>
<polyline points="175.1,257.31 175.22,256.24 175.34,255.18 175.47,254.13 175.59,253.09 175.71,252.07 175.83,251.06 175.95,250.07 176.07,249.09 176.19,248.13 176.32,247.18 176.44,246.24 176.56,245.33 176.68,244.43 176.8,243.55 176.92,242.69 177.04,241.84 177.17,241.01 177.29,240.18 177.41,239.36 177.53,238.55 177.65,237.75 177.77,236.96 177.9,236.18 178.02,235.41 178.14,234.66 178.26,233.93 178.38,233.22 178.5,232.52 178.62,231.84 178.75,231.19 178.87,230.55 178.99,229.95 179.11,229.36 179.23,228.79 179.35,228.22 179.47,227.66 179.6,227.09 179.72,226.53 179.84,225.98 179.96,225.43 180.08,224.89 180.2,224.36 180.33,223.84 180.45,223.34 180.57,222.84 180.69,222.36 180.81,221.89 180.93,221.43 181.05,220.99 181.18,220.57 181.3,220.17 181.42,219.79 181.54,219.43 181.66,219.09 181.78,218.78 181.9,218.49 182.03,218.22 182.15,217.98 182.27,217.75 182.39,217.53 182.51,217.3 182.63,217.08 182.76,216.86 182.88,216.65 183,216.44 183.12,216.24 183.24,216.04 183.36,215.85 183.48,215.67 183.61,215.5 183.73,215.34 183.85,215.19 183.97,215.05 184.09,214.93 184.21,214.81 184.33,214.72 184.46,214.64 184.58,214.57 184.7,214.53 184.82,214.5 184.94,214.49 185.06,214.5 185.19,214.53 185.31,214.57 185.43,214.64 185.55,214.72 185.67,214.82 185.79,214.93 185.91,215.06 186.04,215.2 186.16,215.36 186.28,215.53 186.4,215.7 186.52,215.89 186.64,216.09 186.76,216.3 186.89,216.52 187.01,216.74 187.13,216.97 187.25,217.21 187.37,217.45 187.49,217.7 187.62,217.95 187.74,218.21 187.86,218.46 187.98,218.72 188.1,218.98 188.22,219.24 188.34,219.49 188.47,219.75 188.59,220 188.71,220.25 188.83,220.5 188.95,220.74 189.07,220.98 189.19,221.22 189.32,221.48 189.44,221.75 189.56,222.04 189.68,222.35 189.8,222.66 189.92,222.99 190.05,223.32 190.17,223.67 190.29,224.02 190.41,224.37 190.53,224.73 190.65,225.09 190.77,225.46 190.9,225.82 191.02,226.18 191.14,226.54 191.26,226.89 191.38,227.24 191.5,227.58 191.62,227.92 191.75,228.24 191.87,228.55 191.99,228.85 192.11,229.14 192.23,229.41 192.35,229.66 192.48,229.9 192.6,230.11 192.72,230.31 192.84,230.48 192.96,230.63 193.08,230.76 193.2,230.87 193.33,230.98 193.45,231.08 193.57,231.17 193.69,231.27 193.81,231.36 193.93,231.44 194.05,231.52 194.18,231.6 194.3,231.68 194.42,231.75 194.54,231.82 194.66,231.89 194.78,231.96 194.91,232.02 195.03,232.08 195.15,232.14 195.27,232.2 195.39,232.26 195.51,232.32 195.63,232.37 195.76,232.43 195.88,232.48 196,232.54 196.12,232.59 196.24,232.65 196.36,232.7 196.48,232.76 196.61,232.82 196.73,232.87 196.85,232.93 196.97,232.99 197.09,233.06 197.21,233.12 197.34,233.18 197.46,233.24 197.58,233.3" fill="none" stroke="#ff7014" stroke-width="3.1" stroke-linejoin="round" stroke-linecap="round"/>
<polyline points="199.4,257.31 199.52,256.24 199.64,255.18 199.77,254.13 199.89,253.09 200.01,252.07 200.13,251.06 200.25,250.07 200.37,249.09 200.49,248.13 200.62,247.18 200.74,246.24 200.86,245.33 200.98,244.43 201.1,243.55 201.22,242.69 201.34,241.84 201.47,241 201.59,240.17 201.71,239.34 201.83,238.51 201.95,237.69 202.07,236.88 202.2,236.09 202.32,235.31 202.44,234.55 202.56,233.8 202.68,233.08 202.8,232.39 202.92,231.72 203.05,231.08 203.17,230.47 203.29,229.9 203.41,229.36 203.53,228.85 203.65,228.34 203.77,227.84 203.9,227.35 204.02,226.87 204.14,226.4 204.26,225.94 204.38,225.49 204.5,225.04 204.63,224.61 204.75,224.19 204.87,223.78 204.99,223.38 205.11,223 205.23,222.63 205.35,222.27 205.48,221.92 205.6,221.59 205.72,221.27 205.84,220.97 205.96,220.68 206.08,220.4 206.2,220.14 206.33,219.9 206.45,219.68 206.57,219.46 206.69,219.24 206.81,219.02 206.93,218.81 207.06,218.59 207.18,218.38 207.3,218.17 207.42,217.97 207.54,217.77 207.66,217.58 207.78,217.4 207.91,217.22 208.03,217.06 208.15,216.9 208.27,216.76 208.39,216.64 208.51,216.52 208.63,216.42 208.76,216.34 208.88,216.27 209,216.22 209.12,216.19 209.24,216.18 209.36,216.19 209.49,216.22 209.61,216.27 209.73,216.34 209.85,216.43 209.97,216.53 210.09,216.65 210.21,216.78 210.34,216.93 210.46,217.09 210.58,217.26 210.7,217.45 210.82,217.65 210.94,217.85 211.06,218.06 211.19,218.29 211.31,218.52 211.43,218.75 211.55,218.99 211.67,219.24 211.79,219.49 211.92,219.74 212.04,219.99 212.16,220.25 212.28,220.5 212.4,220.76 212.52,221.01 212.64,221.26 212.77,221.51 212.89,221.76 213.01,221.99 213.13,222.23 213.25,222.45 213.37,222.67 213.49,222.89 213.62,223.12 213.74,223.37 213.86,223.62 213.98,223.88 214.1,224.14 214.22,224.42 214.35,224.69 214.47,224.98 214.59,225.26 214.71,225.55 214.83,225.85 214.95,226.14 215.07,226.43 215.2,226.72 215.32,227.01 215.44,227.3 215.56,227.58 215.68,227.86 215.8,228.13 215.92,228.4 216.05,228.66 216.17,228.91 216.29,229.15 216.41,229.38 216.53,229.6 216.65,229.81 216.78,230.01 216.9,230.19 217.02,230.36 217.14,230.51 217.26,230.64 217.38,230.76 217.5,230.87 217.63,230.97 217.75,231.07 217.87,231.16 217.99,231.25 218.11,231.34 218.23,231.42 218.35,231.5 218.48,231.58 218.6,231.66 218.72,231.73 218.84,231.8 218.96,231.87 219.08,231.94 219.21,232 219.33,232.06 219.45,232.12 219.57,232.18 219.69,232.24 219.81,232.3 219.93,232.36 220.06,232.42 220.18,232.47 220.3,232.53 220.42,232.59 220.54,232.64 220.66,232.7 220.78,232.76 220.91,232.81 221.03,232.87 221.15,232.93 221.27,232.99 221.39,233.06 221.51,233.12 221.64,233.18 221.76,233.24 221.88,233.3" fill="none" stroke="#ff7014" stroke-width="3.1" stroke-linejoin="round" stroke-linecap="round"/>
<polyline points="223.7,257.31 223.82,256.24 223.94,255.18 224.07,254.13 224.19,253.09 224.31,252.07 224.43,251.06 224.55,250.07 224.67,249.09 224.79,248.13 224.92,247.18 225.04,246.24 225.16,245.33 225.28,244.43 225.4,243.55 225.52,242.69 225.65,241.84 225.77,241.01 225.89,240.19 226.01,239.37 226.13,238.57 226.25,237.77 226.37,236.99 226.5,236.22 226.62,235.46 226.74,234.72 226.86,233.99 226.98,233.27 227.1,232.58 227.22,231.9 227.35,231.23 227.47,230.59 227.59,229.97 227.71,229.36 227.83,228.77 227.95,228.17 228.08,227.57 228.2,226.98 228.32,226.38 228.44,225.79 228.56,225.2 228.68,224.62 228.8,224.05 228.93,223.49 229.05,222.94 229.17,222.4 229.29,221.88 229.41,221.37 229.53,220.87 229.65,220.4 229.78,219.94 229.9,219.51 230.02,219.1 230.14,218.71 230.26,218.35 230.38,218.01 230.51,217.71 230.63,217.43 230.75,217.18 230.87,216.95 230.99,216.72 231.11,216.5 231.23,216.27 231.36,216.05 231.48,215.84 231.6,215.63 231.72,215.43 231.84,215.23 231.96,215.04 232.08,214.86 232.21,214.69 232.33,214.53 232.45,214.38 232.57,214.24 232.69,214.12 232.81,214.01 232.94,213.92 233.06,213.84 233.18,213.77 233.3,213.73 233.42,213.7 233.54,213.69 233.66,213.7 233.79,213.73 233.91,213.77 234.03,213.84 234.15,213.92 234.27,214.01 234.39,214.13 234.51,214.25 234.64,214.39 234.76,214.54 234.88,214.71 235,214.89 235.12,215.07 235.24,215.27 235.37,215.48 235.49,215.69 235.61,215.91 235.73,216.14 235.85,216.38 235.97,216.62 236.09,216.87 236.22,217.12 236.34,217.37 236.46,217.63 236.58,217.89 236.7,218.15 236.82,218.41 236.94,218.67 237.07,218.93 237.19,219.18 237.31,219.44 237.43,219.69 237.55,219.93 237.67,220.18 237.8,220.43 237.92,220.7 238.04,220.99 238.16,221.3 238.28,221.62 238.4,221.96 238.52,222.31 238.65,222.67 238.77,223.05 238.89,223.43 239.01,223.81 239.13,224.2 239.25,224.6 239.37,225 239.5,225.39 239.62,225.79 239.74,226.18 239.86,226.57 239.98,226.95 240.1,227.32 240.23,227.69 240.35,228.04 240.47,228.38 240.59,228.71 240.71,229.02 240.83,229.32 240.95,229.59 241.08,229.85 241.2,230.08 241.32,230.29 241.44,230.47 241.56,230.63 241.68,230.76 241.8,230.87 241.93,230.98 242.05,231.08 242.17,231.18 242.29,231.27 242.41,231.36 242.53,231.45 242.66,231.53 242.78,231.61 242.9,231.69 243.02,231.76 243.14,231.83 243.26,231.9 243.38,231.96 243.51,232.03 243.63,232.09 243.75,232.15 243.87,232.21 243.99,232.26 244.11,232.32 244.23,232.38 244.36,232.43 244.48,232.49 244.6,232.54 244.72,232.59 244.84,232.65 244.96,232.7 245.09,232.76 245.21,232.82 245.33,232.87 245.45,232.93 245.57,232.99 245.69,233.06 245.81,233.12 245.94,233.18 246.06,233.24 246.18,233.3" fill="none" stroke="#ff7014" stroke-width="3.1" stroke-linejoin="round" stroke-linecap="round"/>
<polyline points="248,257.31 248.12,256.24 248.24,255.18 248.37,254.13 248.49,253.09 248.61,252.07 248.73,251.06 248.85,250.07 248.97,249.09 249.09,248.13 249.22,247.18 249.34,246.24 249.46,245.33 249.58,244.43 249.7,243.55 249.82,242.69 249.95,241.84 250.07,241.01 250.19,240.17 250.31,239.35 250.43,238.53 250.55,237.72 250.67,236.92 250.8,236.13 250.92,235.36 251.04,234.6 251.16,233.87 251.28,233.15 251.4,232.45 251.52,231.78 251.65,231.13 251.77,230.51 251.89,229.92 252.01,229.36 252.13,228.82 252.25,228.28 252.38,227.75 252.5,227.23 252.62,226.71 252.74,226.2 252.86,225.7 252.98,225.2 253.1,224.72 253.23,224.25 253.35,223.79 253.47,223.34 253.59,222.9 253.71,222.47 253.83,222.06 253.95,221.67 254.08,221.29 254.2,220.92 254.32,220.57 254.44,220.24 254.56,219.93 254.68,219.64 254.81,219.36 254.93,219.11 255.05,218.88 255.17,218.66 255.29,218.44 255.41,218.21 255.53,217.99 255.66,217.78 255.78,217.56 255.9,217.35 256.02,217.15 256.14,216.95 256.26,216.76 256.38,216.58 256.51,216.41 256.63,216.25 256.75,216.1 256.87,215.96 256.99,215.83 257.11,215.72 257.24,215.62 257.36,215.54 257.48,215.47 257.6,215.42 257.72,215.4 257.84,215.38 257.96,215.4 258.09,215.42 258.21,215.47 258.33,215.54 258.45,215.62 258.57,215.72 258.69,215.84 258.81,215.97 258.94,216.12 259.06,216.27 259.18,216.44 259.3,216.63 259.42,216.82 259.54,217.02 259.67,217.23 259.79,217.45 259.91,217.68 260.03,217.91 260.15,218.15 260.27,218.4 260.39,218.64 260.52,218.9 260.64,219.15 260.76,219.41 260.88,219.66 261,219.92 261.12,220.18 261.24,220.43 261.37,220.68 261.49,220.93 261.61,221.17 261.73,221.41 261.85,221.65 261.97,221.87 262.1,222.11 262.22,222.35 262.34,222.61 262.46,222.88 262.58,223.16 262.7,223.45 262.82,223.75 262.95,224.05 263.07,224.36 263.19,224.68 263.31,225 263.43,225.32 263.55,225.65 263.67,225.97 263.8,226.3 263.92,226.62 264.04,226.94 264.16,227.26 264.28,227.57 264.4,227.87 264.53,228.17 264.65,228.46 264.77,228.74 264.89,229.01 265.01,229.27 265.13,229.51 265.25,229.74 265.38,229.95 265.5,230.15 265.62,230.33 265.74,230.5 265.86,230.64 265.98,230.76 266.1,230.87 266.23,230.97 266.35,231.07 266.47,231.17 266.59,231.26 266.71,231.35 266.83,231.43 266.96,231.51 267.08,231.59 267.2,231.67 267.32,231.74 267.44,231.81 267.56,231.88 267.68,231.95 267.81,232.01 267.93,232.07 268.05,232.13 268.17,232.19 268.29,232.25 268.41,232.31 268.53,232.37 268.66,232.42 268.78,232.48 268.9,232.53 269.02,232.59 269.14,232.64 269.26,232.7 269.39,232.76 269.51,232.81 269.63,232.87 269.75,232.93 269.87,232.99 269.99,233.06 270.11,233.12 270.24,233.18 270.36,233.24 270.48,233.3 270.6,233.35" fill="none" stroke="#ff7014" stroke-width="3.1" stroke-linejoin="round" stroke-linecap="round"/>
<line x1="76.2" y1="229.46" x2="76.2" y2="243.34" stroke="#ff7014" stroke-width="0.7" opacity="0.7"/>
<circle cx="76.2" cy="231.96" r="0.6" fill="#ff7014"/>
<circle cx="76.2" cy="235.75" r="0.6" fill="#ff7014"/>
<circle cx="76.2" cy="239.54" r="0.6" fill="#ff7014"/>
<circle cx="76.2" cy="243.34" r="0.6" fill="#ff7014"/>
<polyline points="76.5,245.33 77.6,248.33 76.6,251.32 77.7,254.32 76.7,257.31 77.4,259.31" fill="none" stroke="#ff7014" stroke-width="1.7" stroke-linejoin="round" stroke-linecap="round"/>
<line x1="76.5" y1="257.31" x2="76.5" y2="271.89" stroke="#ff7014" stroke-width="0.9"/>
<circle cx="76.5" cy="257.31" r="1.1" fill="#ff7014"/>
<circle cx="76.5" cy="260.96" r="1.1" fill="#ff7014"/>
<circle cx="76.5" cy="264.6" r="1.1" fill="#ff7014"/>
<circle cx="76.5" cy="268.25" r="1.1" fill="#ff7014"/>
<circle cx="76.5" cy="271.89" r="1.1" fill="#ff7014"/>
<circle cx="76.5" cy="271.89" r="1.3" fill="#ff7014"/>
<line x1="100.5" y1="233.16" x2="100.5" y2="243.34" stroke="#ff7014" stroke-width="0.7" opacity="0.7"/>
<circle cx="100.5" cy="235.65" r="0.6" fill="#ff7014"/>
<circle cx="100.5" cy="238.21" r="0.6" fill="#ff7014"/>
<circle cx="100.5" cy="240.78" r="0.6" fill="#ff7014"/>
<circle cx="100.5" cy="243.34" r="0.6" fill="#ff7014"/>
<polyline points="100.8,245.33 101.9,248.33 100.9,251.32 102,254.32 101,257.31 101.7,259.31" fill="none" stroke="#ff7014" stroke-width="1.7" stroke-linejoin="round" stroke-linecap="round"/>
<line x1="100.8" y1="257.31" x2="100.8" y2="273.09" stroke="#ff7014" stroke-width="0.9"/>
<circle cx="100.8" cy="257.31" r="1.1" fill="#ff7014"/>
<circle cx="100.8" cy="260.47" r="1.1" fill="#ff7014"/>
<circle cx="100.8" cy="263.62" r="1.1" fill="#ff7014"/>
<circle cx="100.8" cy="266.78" r="1.1" fill="#ff7014"/>
<circle cx="100.8" cy="269.93" r="1.1" fill="#ff7014"/>
<circle cx="100.8" cy="273.09" r="1.1" fill="#ff7014"/>
<circle cx="100.8" cy="273.09" r="1.3" fill="#ff7014"/>
<line x1="124.8" y1="233.16" x2="124.8" y2="243.34" stroke="#ff7014" stroke-width="0.7" opacity="0.7"/>
<circle cx="124.8" cy="235.65" r="0.6" fill="#ff7014"/>
<circle cx="124.8" cy="238.21" r="0.6" fill="#ff7014"/>
<circle cx="124.8" cy="240.78" r="0.6" fill="#ff7014"/>
<circle cx="124.8" cy="243.34" r="0.6" fill="#ff7014"/>
<polyline points="125.1,245.33 126.2,248.33 125.2,251.32 126.3,254.32 125.3,257.31 126,259.31" fill="none" stroke="#ff7014" stroke-width="1.7" stroke-linejoin="round" stroke-linecap="round"/>
<line x1="125.1" y1="257.31" x2="125.1" y2="280.58" stroke="#ff7014" stroke-width="0.9"/>
<circle cx="125.1" cy="257.31" r="1.1" fill="#ff7014"/>
<circle cx="125.1" cy="260.64" r="1.1" fill="#ff7014"/>
<circle cx="125.1" cy="263.96" r="1.1" fill="#ff7014"/>
<circle cx="125.1" cy="267.28" r="1.1" fill="#ff7014"/>
<circle cx="125.1" cy="270.61" r="1.1" fill="#ff7014"/>
<circle cx="125.1" cy="273.93" r="1.1" fill="#ff7014"/>
<circle cx="125.1" cy="277.25" r="1.1" fill="#ff7014"/>
<circle cx="125.1" cy="280.58" r="1.1" fill="#ff7014"/>
<circle cx="125.1" cy="280.58" r="1.3" fill="#ff7014"/>
<line x1="149.1" y1="233.16" x2="149.1" y2="243.34" stroke="#ff7014" stroke-width="0.7" opacity="0.7"/>
<circle cx="149.1" cy="235.65" r="0.6" fill="#ff7014"/>
<circle cx="149.1" cy="238.21" r="0.6" fill="#ff7014"/>
<circle cx="149.1" cy="240.78" r="0.6" fill="#ff7014"/>
<circle cx="149.1" cy="243.34" r="0.6" fill="#ff7014"/>
<polyline points="149.4,245.33 150.5,248.33 149.5,251.32 150.6,254.32 149.6,257.31 150.3,259.31" fill="none" stroke="#ff7014" stroke-width="1.7" stroke-linejoin="round" stroke-linecap="round"/>
<line x1="149.4" y1="257.31" x2="149.4" y2="270.19" stroke="#ff7014" stroke-width="0.9"/>
<circle cx="149.4" cy="257.31" r="1.1" fill="#ff7014"/>
<circle cx="149.4" cy="260.53" r="1.1" fill="#ff7014"/>
<circle cx="149.4" cy="263.75" r="1.1" fill="#ff7014"/>
<circle cx="149.4" cy="266.97" r="1.1" fill="#ff7014"/>
<circle cx="149.4" cy="270.19" r="1.1" fill="#ff7014"/>
<circle cx="149.4" cy="270.19" r="1.3" fill="#ff7014"/>
<line x1="173.4" y1="233.16" x2="173.4" y2="243.34" stroke="#ff7014" stroke-width="0.7" opacity="0.7"/>
<circle cx="173.4" cy="235.65" r="0.6" fill="#ff7014"/>
<circle cx="173.4" cy="238.21" r="0.6" fill="#ff7014"/>
<circle cx="173.4" cy="240.78" r="0.6" fill="#ff7014"/>
<circle cx="173.4" cy="243.34" r="0.6" fill="#ff7014"/>
<polyline points="173.7,245.33 174.8,248.33 173.8,251.32 174.9,254.32 173.9,257.31 174.6,259.31" fill="none" stroke="#ff7014" stroke-width="1.7" stroke-linejoin="round" stroke-linecap="round"/>
<line x1="173.7" y1="257.31" x2="173.7" y2="281.08" stroke="#ff7014" stroke-width="0.9"/>
<circle cx="173.7" cy="257.31" r="1.1" fill="#ff7014"/>
<circle cx="173.7" cy="260.71" r="1.1" fill="#ff7014"/>
<circle cx="173.7" cy="264.1" r="1.1" fill="#ff7014"/>
<circle cx="173.7" cy="267.5" r="1.1" fill="#ff7014"/>
<circle cx="173.7" cy="270.89" r="1.1" fill="#ff7014"/>
<circle cx="173.7" cy="274.29" r="1.1" fill="#ff7014"/>
<circle cx="173.7" cy="277.68" r="1.1" fill="#ff7014"/>
<circle cx="173.7" cy="281.08" r="1.1" fill="#ff7014"/>
<circle cx="173.7" cy="281.08" r="1.3" fill="#ff7014"/>
<line x1="197.7" y1="233.16" x2="197.7" y2="243.34" stroke="#ff7014" stroke-width="0.7" opacity="0.7"/>
<circle cx="197.7" cy="235.65" r="0.6" fill="#ff7014"/>
<circle cx="197.7" cy="238.21" r="0.6" fill="#ff7014"/>
<circle cx="197.7" cy="240.78" r="0.6" fill="#ff7014"/>
<circle cx="197.7" cy="243.34" r="0.6" fill="#ff7014"/>
<polyline points="198,245.33 199.1,248.33 198.1,251.32 199.2,254.32 198.2,257.31 198.9,259.31" fill="none" stroke="#ff7014" stroke-width="1.7" stroke-linejoin="round" stroke-linecap="round"/>
<line x1="198" y1="257.31" x2="198" y2="269.3" stroke="#ff7014" stroke-width="0.9"/>
<circle cx="198" cy="257.31" r="1.1" fill="#ff7014"/>
<circle cx="198" cy="260.31" r="1.1" fill="#ff7014"/>
<circle cx="198" cy="263.31" r="1.1" fill="#ff7014"/>
<circle cx="198" cy="266.3" r="1.1" fill="#ff7014"/>
<circle cx="198" cy="269.3" r="1.1" fill="#ff7014"/>
<circle cx="198" cy="269.3" r="1.3" fill="#ff7014"/>
<line x1="222" y1="233.16" x2="222" y2="243.34" stroke="#ff7014" stroke-width="0.7" opacity="0.7"/>
<circle cx="222" cy="235.65" r="0.6" fill="#ff7014"/>
<circle cx="222" cy="238.21" r="0.6" fill="#ff7014"/>
<circle cx="222" cy="240.78" r="0.6" fill="#ff7014"/>
<circle cx="222" cy="243.34" r="0.6" fill="#ff7014"/>
<polyline points="222.3,245.33 223.4,248.33 222.4,251.32 223.5,254.32 222.5,257.31 223.2,259.31" fill="none" stroke="#ff7014" stroke-width="1.7" stroke-linejoin="round" stroke-linecap="round"/>
<line x1="222.3" y1="257.31" x2="222.3" y2="279.78" stroke="#ff7014" stroke-width="0.9"/>
<circle cx="222.3" cy="257.31" r="1.1" fill="#ff7014"/>
<circle cx="222.3" cy="260.52" r="1.1" fill="#ff7014"/>
<circle cx="222.3" cy="263.73" r="1.1" fill="#ff7014"/>
<circle cx="222.3" cy="266.94" r="1.1" fill="#ff7014"/>
<circle cx="222.3" cy="270.15" r="1.1" fill="#ff7014"/>
<circle cx="222.3" cy="273.36" r="1.1" fill="#ff7014"/>
<circle cx="222.3" cy="276.57" r="1.1" fill="#ff7014"/>
<circle cx="222.3" cy="279.78" r="1.1" fill="#ff7014"/>
<circle cx="222.3" cy="279.78" r="1.3" fill="#ff7014"/>
<line x1="246.3" y1="233.16" x2="246.3" y2="243.34" stroke="#ff7014" stroke-width="0.7" opacity="0.7"/>
<circle cx="246.3" cy="235.65" r="0.6" fill="#ff7014"/>
<circle cx="246.3" cy="238.21" r="0.6" fill="#ff7014"/>
<circle cx="246.3" cy="240.78" r="0.6" fill="#ff7014"/>
<circle cx="246.3" cy="243.34" r="0.6" fill="#ff7014"/>
<polyline points="246.6,245.33 247.7,248.33 246.7,251.32 247.8,254.32 246.8,257.31 247.5,259.31" fill="none" stroke="#ff7014" stroke-width="1.7" stroke-linejoin="round" stroke-linecap="round"/>
<line x1="246.6" y1="257.31" x2="246.6" y2="272.29" stroke="#ff7014" stroke-width="0.9"/>
<circle cx="246.6" cy="257.31" r="1.1" fill="#ff7014"/>
<circle cx="246.6" cy="260.31" r="1.1" fill="#ff7014"/>
<circle cx="246.6" cy="263.31" r="1.1" fill="#ff7014"/>
<circle cx="246.6" cy="266.3" r="1.1" fill="#ff7014"/>
<circle cx="246.6" cy="269.3" r="1.1" fill="#ff7014"/>
<circle cx="246.6" cy="272.29" r="1.1" fill="#ff7014"/>
<circle cx="246.6" cy="272.29" r="1.3" fill="#ff7014"/>
<line x1="270.6" y1="232.36" x2="270.6" y2="274.29" stroke="#ff7014" stroke-width="0.6" stroke-dasharray="1,1.5" opacity="0.6"/>
<line x1="296.4" y1="196.2" x2="539.4" y2="196.2" stroke="#ebebeb" stroke-width="1"/>
<line x1="296.4" y1="209.19" x2="539.4" y2="209.19" stroke="#ebebeb" stroke-width="1"/>
<line x1="296.4" y1="222.18" x2="539.4" y2="222.18" stroke="#ebebeb" stroke-width="1"/>
<line x1="296.4" y1="235.17" x2="539.4" y2="235.17" stroke="#ebebeb" stroke-width="1"/>
<line x1="296.4" y1="248.16" x2="539.4" y2="248.16" stroke="#ebebeb" stroke-width="1"/>
<line x1="296.4" y1="261.15" x2="539.4" y2="261.15" stroke="#ebebeb" stroke-width="1"/>
<line x1="296.4" y1="274.14" x2="539.4" y2="274.14" stroke="#ebebeb" stroke-width="1"/>
<line x1="296.4" y1="287.13" x2="539.4" y2="287.13" stroke="#ebebeb" stroke-width="1"/>
<line x1="296.4" y1="300.12" x2="539.4" y2="300.12" stroke="#ebebeb" stroke-width="1"/>
<line x1="296.4" y1="313.11" x2="539.4" y2="313.11" stroke="#ebebeb" stroke-width="1"/>
<line x1="296.4" y1="326.1" x2="539.4" y2="326.1" stroke="#ebebeb" stroke-width="1"/>
<line x1="296.4" y1="196.2" x2="296.4" y2="326.1" stroke="#ebebeb" stroke-width="1"/>
<line x1="320.7" y1="196.2" x2="320.7" y2="326.1" stroke="#ebebeb" stroke-width="1"/>
<line x1="345" y1="196.2" x2="345" y2="326.1" stroke="#ebebeb" stroke-width="1"/>
<line x1="369.3" y1="196.2" x2="369.3" y2="326.1" stroke="#ebebeb" stroke-width="1"/>
<line x1="393.6" y1="196.2" x2="393.6" y2="326.1" stroke="#ebebeb" stroke-width="1"/>
<line x1="417.9" y1="196.2" x2="417.9" y2="326.1" stroke="#ebebeb" stroke-width="1"/>
<line x1="442.2" y1="196.2" x2="442.2" y2="326.1" stroke="#ebebeb" stroke-width="1"/>
<line x1="466.5" y1="196.2" x2="466.5" y2="326.1" stroke="#ebebeb" stroke-width="1"/>
<line x1="490.8" y1="196.2" x2="490.8" y2="326.1" stroke="#ebebeb" stroke-width="1"/>
<line x1="515.1" y1="196.2" x2="515.1" y2="326.1" stroke="#ebebeb" stroke-width="1"/>
<line x1="539.4" y1="196.2" x2="539.4" y2="326.1" stroke="#ebebeb" stroke-width="1"/>
<text x="291.4" y="198.2" font-size="5.0" text-anchor="end" fill="#808080">0.1</text>
<text x="291.4" y="211.19" font-size="5.0" text-anchor="end" fill="#808080">0.08</text>
<text x="291.4" y="224.18" font-size="5.0" text-anchor="end" fill="#808080">0.06</text>
<text x="291.4" y="237.17" font-size="5.0" text-anchor="end" fill="#808080">0.04</text>
<text x="291.4" y="250.16" font-size="5.0" text-anchor="end" fill="#808080">0.02</text>
<text x="291.4" y="263.15" font-size="5.0" text-anchor="end" fill="#808080">0</text>
<text x="291.4" y="276.14" font-size="5.0" text-anchor="end" fill="#808080">-0.02</text>
<text x="291.4" y="289.13" font-size="5.0" text-anchor="end" fill="#808080">-0.04</text>
<text x="291.4" y="302.12" font-size="5.0" text-anchor="end" fill="#808080">-0.06</text>
<text x="291.4" y="315.11" font-size="5.0" text-anchor="end" fill="#808080">-0.08</text>
<text x="291.4" y="328.1" font-size="5.0" text-anchor="end" fill="#808080">-0.1</text>
<text x="296.4" y="335.2" font-size="5.0" text-anchor="middle" fill="#808080">0</text>
<text x="320.7" y="335.2" font-size="5.0" text-anchor="middle" fill="#808080">2</text>
<text x="345" y="335.2" font-size="5.0" text-anchor="middle" fill="#808080">4</text>
<text x="369.3" y="335.2" font-size="5.0" text-anchor="middle" fill="#808080">6</text>
<text x="393.6" y="335.2" font-size="5.0" text-anchor="middle" fill="#808080">8</text>
<text x="417.9" y="335.2" font-size="5.0" text-anchor="middle" fill="#808080">10</text>
<text x="442.2" y="335.2" font-size="5.0" text-anchor="middle" fill="#808080">12</text>
<text x="466.5" y="335.2" font-size="5.0" text-anchor="middle" fill="#808080">14</text>
<text x="490.8" y="335.2" font-size="5.0" text-anchor="middle" fill="#808080">16</text>
<text x="515.1" y="335.2" font-size="5.0" text-anchor="middle" fill="#808080">18</text>
<text x="539.4" y="335.2" font-size="5.0" text-anchor="middle" fill="#808080">20</text>
<text x="411.6" y="347.1" font-size="6.8" text-anchor="middle" fill="#6e6e6e" textLength="20.6" lengthAdjust="spacingAndGlyphs">Time(s)</text>
<text x="0" y="0" font-size="5.7" text-anchor="middle" fill="#6e6e6e" transform="translate(278.4,271.5) rotate(-90)" textLength="57.7" lengthAdjust="spacingAndGlyphs">Wheel speed(m/s)</text>
<line x1="381" y1="199.3" x2="390.5" y2="199.3" stroke="#3fac3a" stroke-width="0.8"/>
<circle cx="385.8" cy="199.3" r="1.1" fill="#3fac3a"/>
<text x="391.8" y="201" font-size="4.4" text-anchor="start" fill="#8a8a8a" textLength="24" lengthAdjust="spacingAndGlyphs">sliding mode</text>
<line x1="420.8" y1="199.3" x2="430" y2="199.3" stroke="#ff7014" stroke-width="0.8" stroke-dasharray="1.6,1.4"/>
<circle cx="425.4" cy="199.3" r="1.1" fill="#ff7014"/>
<text x="431.8" y="201" font-size="4.4" text-anchor="start" fill="#8a8a8a">PD</text>
<polygon points="297.31,258.03 297.91,258.16 298.52,258.29 299.13,258.42 299.74,258.55 300.34,260.85 300.95,265.44 301.56,267.74 302.17,268.8 302.77,269.83 303.38,270.83 303.99,271.81 304.6,272.77 305.2,273.7 305.81,274.6 306.42,275.48 307.03,276.34 307.63,277.17 308.24,277.99 308.85,278.78 309.46,279.55 310.06,280.3 310.67,281.04 311.28,281.75 311.89,282.44 312.5,283.12 313.1,283.78 313.71,284.42 314.32,285.04 314.93,285.65 315.53,286.24 316.14,286.82 316.75,287.38 317.35,287.93 317.96,288.46 318.57,288.98 319.18,289.48 319.78,289.97 320.39,290.45 321,290.92 321.61,291.37 322.21,291.82 322.82,292.25 323.43,292.67 324.04,293.08 324.64,293.47 325.25,293.86 325.86,294.24 326.47,294.61 327.07,294.96 327.68,295.37 328.29,295.76 328.9,296.15 329.5,296.52 330.11,296.89 330.72,297.25 331.33,297.6 331.94,297.94 332.54,298.28 333.15,298.61 333.76,298.93 334.37,299.25 334.97,299.55 335.58,299.85 336.19,300.15 336.8,300.44 337.4,300.72 338.01,301 338.62,301.27 339.22,301.53 339.83,301.79 340.44,302.05 341.05,302.29 341.65,302.54 342.26,302.78 342.87,303.01 343.48,303.24 344.08,303.46 344.69,303.68 345.3,303.9 346.51,304.21 347.73,304.51 348.94,304.79 350.16,305.05 351.37,305.3 352.59,305.54 353.8,305.77 355.02,305.98 356.23,306.19 357.45,306.38 358.66,306.56 359.88,306.74 361.09,306.9 362.31,307.06 363.52,307.2 364.74,307.34 365.95,307.48 367.17,307.6 368.38,307.72 369.59,307.84 369.6,307.84 370.81,307.95 372.03,308.05 373.24,308.15 374.46,308.24 375.67,308.32 376.89,308.41 378.1,308.49 379.32,308.56 380.53,308.63 381.75,308.7 382.96,308.76 384.18,308.82 385.39,308.88 386.61,308.93 387.82,308.98 389.04,309.03 390.25,309.08 391.47,309.12 392.68,309.16 393.89,309.2 393.9,309.2 395.11,309.24 396.33,309.28 397.54,309.31 398.76,309.34 399.97,309.37 401.19,309.4 402.4,309.43 403.62,309.45 404.83,309.48 406.05,309.5 407.26,309.52 408.48,309.54 409.69,309.56 410.91,309.58 412.12,309.6 413.34,309.62 414.55,309.63 415.77,309.65 416.98,309.66 418.19,309.68 418.2,309.68 419.41,309.69 420.63,309.7 421.84,309.71 423.06,309.72 424.27,309.73 425.49,309.74 426.7,309.75 427.92,309.76 429.13,309.77 430.35,309.78 431.56,309.79 432.78,309.79 433.99,309.8 435.21,309.81 436.42,309.81 437.64,309.82 438.85,309.83 440.07,309.83 441.28,309.84 442.49,309.84 442.5,309.84 443.71,309.84 444.93,309.85 446.14,309.85 447.36,309.86 448.57,309.86 449.79,309.86 451,309.87 452.22,309.87 453.43,309.87 454.65,309.88 455.86,309.88 457.08,309.88 458.29,309.88 459.51,309.89 460.72,309.89 461.94,309.89 463.15,309.89 464.37,309.89 465.58,309.9 466.79,309.9 466.8,309.9 468.01,309.9 469.23,309.9 470.44,309.9 471.66,309.9 472.87,309.9 474.09,309.91 475.3,309.91 476.52,309.91 477.73,309.91 478.95,309.91 480.16,309.91 481.38,309.91 482.59,309.91 483.81,309.91 485.02,309.91 486.24,309.91 487.45,309.92 488.67,309.92 489.88,309.92 491.09,309.92 491.1,309.92 492.31,309.92 493.53,309.92 494.75,309.92 495.96,309.92 497.18,309.92 498.39,309.92 499.61,309.92 500.82,309.92 502.04,309.92 503.25,309.92 504.47,309.92 505.68,309.92 506.9,309.92 508.11,309.92 509.33,309.92 510.54,309.92 511.76,309.92 512.97,309.92 514.19,309.92 515.39,309.92 515.4,309.92 516.62,309.92 517.83,309.92 519.05,309.92 520.26,309.92 521.48,309.92 522.69,309.92 523.9,309.92 525.12,309.93 526.34,309.93 527.55,309.93 528.77,309.93 529.98,309.93 531.2,309.93 532.41,309.93 533.63,309.93 534.84,309.93 536.06,309.93 537.27,309.93 538.49,309.93 539.69,309.93 539.7,309.93 539.4,312.78 539.39,312.78 538.19,312.78 536.97,312.78 535.76,312.78 534.54,312.78 533.33,312.78 532.11,312.78 530.9,312.78 529.68,312.78 528.47,312.78 527.25,312.78 526.04,312.78 524.82,312.78 523.61,312.78 522.39,312.78 521.18,312.78 519.96,312.78 518.75,312.78 517.53,312.78 516.32,312.78 515.1,312.78 515.09,312.78 513.89,312.78 512.67,312.78 511.46,312.78 510.24,312.78 509.03,312.78 507.81,312.78 506.6,312.78 505.38,312.78 504.17,312.78 502.95,312.78 501.74,312.78 500.52,312.78 499.31,312.78 498.09,312.78 496.88,312.78 495.66,312.78 494.45,312.78 493.23,312.78 492.01,312.78 490.8,312.78 490.79,312.78 489.58,312.78 488.37,312.78 487.15,312.78 485.94,312.78 484.72,312.78 483.51,312.78 482.29,312.78 481.08,312.78 479.86,312.78 478.65,312.78 477.43,312.78 476.22,312.78 475,312.77 473.79,312.77 472.57,312.77 471.36,312.77 470.14,312.77 468.93,312.77 467.71,312.77 466.5,312.77 466.49,312.77 465.28,312.77 464.07,312.77 462.85,312.77 461.64,312.77 460.42,312.76 459.21,312.76 457.99,312.76 456.78,312.76 455.56,312.76 454.35,312.76 453.13,312.76 451.92,312.75 450.7,312.75 449.49,312.75 448.27,312.75 447.06,312.75 445.84,312.74 444.63,312.74 443.41,312.74 442.2,312.74 442.19,312.74 440.98,312.73 439.77,312.73 438.55,312.73 437.34,312.72 436.12,312.72 434.91,312.72 433.69,312.71 432.48,312.71 431.26,312.7 430.05,312.7 428.83,312.69 427.62,312.69 426.4,312.68 425.19,312.68 423.97,312.67 422.76,312.67 421.54,312.66 420.33,312.65 419.11,312.64 417.9,312.64 417.89,312.64 416.68,312.63 415.47,312.62 414.25,312.61 413.04,312.6 411.82,312.59 410.61,312.58 409.39,312.56 408.18,312.55 406.96,312.54 405.75,312.52 404.53,312.51 403.32,312.49 402.1,312.48 400.89,312.46 399.67,312.44 398.46,312.42 397.24,312.4 396.03,312.38 394.81,312.35 393.6,312.33 393.59,312.33 392.38,312.3 391.17,312.27 389.95,312.24 388.74,312.21 387.52,312.18 386.31,312.15 385.09,312.11 383.88,312.07 382.66,312.03 381.45,311.99 380.23,311.94 379.02,311.89 377.8,311.84 376.59,311.78 375.37,311.73 374.16,311.67 372.94,311.6 371.73,311.53 370.51,311.46 369.3,311.39 369.29,311.39 368.08,311.31 366.87,311.22 365.65,311.13 364.44,311.04 363.22,310.94 362.01,310.83 360.79,310.72 359.58,310.6 358.36,310.47 357.15,310.34 355.93,310.2 354.72,310.05 353.5,309.89 352.29,309.73 351.07,309.55 349.86,309.37 348.64,309.17 347.43,308.96 346.21,308.74 345,308.51 344.39,308.39 343.78,308.26 343.18,308.14 342.57,308 341.96,307.87 341.35,307.73 340.75,307.59 340.14,307.44 339.53,307.29 338.92,307.13 338.32,306.97 337.71,306.81 337.1,306.64 336.5,306.46 335.89,306.28 335.28,306.1 334.67,305.91 334.06,305.72 333.46,305.52 332.85,305.31 332.24,305.1 331.63,304.88 331.03,304.66 330.42,304.43 329.81,304.19 329.2,303.95 328.6,303.7 327.99,303.44 327.38,303.17 326.77,302.9 326.17,302.62 325.56,302.33 324.95,302.04 324.34,301.73 323.74,301.42 323.13,301.1 322.52,300.77 321.91,300.43 321.31,300.08 320.7,299.72 320.09,299.35 319.48,298.97 318.88,298.57 318.27,298.17 317.66,297.76 317.05,297.33 316.45,296.9 315.84,296.45 315.23,295.98 314.62,295.51 314.02,295.02 313.41,294.51 312.8,294 312.19,293.46 311.59,292.92 310.98,292.35 310.37,291.77 309.76,291.18 309.16,290.57 308.55,289.94 307.94,289.29 307.33,288.63 306.73,287.94 306.12,287.24 305.51,286.51 304.9,285.77 304.3,285 303.69,284.22 303.08,283.41 302.47,282.58 301.87,281.72 301.26,280.84 300.65,279.94 300.04,279 299.44,278.05 298.83,277.06 298.22,277.06 297.61,277.06 297.01,277.06" fill="#3fac3a"/>
<polygon points="297.01,259.59 297.61,259.72 298.22,259.85 298.83,259.98 299.44,260.11 300.04,262.41 300.65,267 301.26,269.29 301.87,270.35 302.47,271.39 303.08,272.39 303.69,273.37 304.3,274.33 304.9,275.25 305.51,276.16 306.12,277.04 306.73,277.9 307.33,278.73 307.94,279.55 308.55,280.34 309.16,281.11 309.76,281.86 310.37,282.59 310.98,283.31 311.59,284 312.19,284.68 312.8,285.33 313.41,285.98 314.02,286.6 314.62,287.21 315.23,287.8 315.84,288.38 316.45,288.94 317.05,289.49 317.66,290.02 318.27,290.54 318.88,291.04 319.48,291.53 320.09,292.01 320.7,292.48 321.31,292.93 321.91,293.38 322.52,293.81 323.13,294.23 323.74,294.63 324.34,295.03 324.95,295.42 325.56,295.8 326.17,296.17 326.77,296.52 327.38,296.82 327.99,297.11 328.6,297.39 329.2,297.66 329.81,297.92 330.42,298.17 331.03,298.42 331.63,298.65 332.24,298.88 332.85,299.11 333.46,299.32 334.06,299.53 334.67,299.73 335.28,299.93 335.89,300.12 336.5,300.3 337.1,300.48 337.71,300.65 338.32,300.81 338.92,300.97 339.53,301.12 340.14,301.27 340.75,301.41 341.35,301.55 341.96,301.68 342.57,301.81 343.18,301.93 343.78,302.05 344.39,302.17 345,301.5 346.21,301.97 347.43,302.39 348.64,302.78 349.86,303.15 351.07,303.5 352.29,303.83 353.5,304.15 354.72,304.45 355.93,304.74 357.15,305.02 358.36,305.29 359.58,305.54 360.79,305.79 362.01,306.02 363.22,306.25 364.44,306.46 365.65,306.67 366.87,306.87 368.08,307.07 369.29,307.25 369.3,305.43 370.51,305.71 371.73,305.93 372.94,306.14 374.16,306.34 375.37,306.52 376.59,306.7 377.8,306.87 379.02,307.03 380.23,307.19 381.45,307.34 382.66,307.48 383.88,307.63 385.09,307.76 386.31,307.9 387.52,308.03 388.74,308.15 389.95,308.27 391.17,308.39 392.38,308.51 393.59,308.62 393.6,306.8 394.81,307 396.03,307.16 397.24,307.31 398.46,307.44 399.67,307.57 400.89,307.69 402.1,307.81 403.32,307.92 404.53,308.03 405.75,308.14 406.96,308.25 408.18,308.35 409.39,308.45 410.61,308.55 411.82,308.64 413.04,308.74 414.25,308.83 415.47,308.92 416.68,309 417.89,309.09 417.9,307.27 419.11,307.45 420.33,307.59 421.54,307.71 422.76,307.82 423.97,307.93 425.19,308.04 426.4,308.14 427.62,308.23 428.83,308.33 430.05,308.42 431.26,308.51 432.48,308.6 433.69,308.69 434.91,308.77 436.12,308.86 437.34,308.94 438.55,309.02 439.77,309.1 440.98,309.18 442.19,309.26 442.2,307.44 443.41,307.61 444.63,307.73 445.84,307.85 447.06,307.96 448.27,308.06 449.49,308.16 450.7,308.25 451.92,308.34 453.13,308.43 454.35,308.52 455.56,308.6 456.78,308.69 457.99,308.77 459.21,308.85 460.42,308.93 461.64,309.01 462.85,309.09 464.07,309.16 465.28,309.24 466.49,309.31 466.5,307.49 467.71,307.66 468.93,307.79 470.14,307.9 471.36,308 472.57,308.1 473.79,308.2 475,308.29 476.22,308.38 477.43,308.47 478.65,308.55 479.86,308.63 481.08,308.72 482.29,308.8 483.51,308.88 484.72,308.96 485.94,309.03 487.15,309.11 488.37,309.18 489.58,309.26 490.79,309.33 490.8,307.51 492.01,307.68 493.23,307.8 494.45,307.91 495.66,308.02 496.88,308.12 498.09,308.21 499.31,308.3 500.52,308.39 501.74,308.48 502.95,308.56 504.17,308.65 505.38,308.73 506.6,308.81 507.81,308.89 509.03,308.96 510.24,309.04 511.46,309.12 512.67,309.19 513.89,309.27 515.09,309.34 515.1,307.52 516.32,307.69 517.53,307.81 518.75,307.92 519.96,308.02 521.18,308.12 522.39,308.22 523.61,308.31 524.82,308.4 526.04,308.48 527.25,308.57 528.47,308.65 529.68,308.73 530.9,308.81 532.11,308.89 533.33,308.97 534.54,309.04 535.76,309.12 536.97,309.19 538.19,309.27 539.39,309.34 539.4,307.52 539.4,311.42 539.39,311.42 538.19,311.42 536.97,311.42 535.76,311.42 534.54,311.42 533.33,311.42 532.11,311.42 530.9,311.42 529.68,311.42 528.47,311.42 527.25,311.42 526.04,311.42 524.82,311.42 523.61,311.42 522.39,311.42 521.18,311.42 519.96,311.42 518.75,311.42 517.53,311.42 516.32,311.42 515.1,311.42 515.09,311.42 513.89,311.42 512.67,311.42 511.46,311.42 510.24,311.42 509.03,311.42 507.81,311.42 506.6,311.42 505.38,311.42 504.17,311.42 502.95,311.42 501.74,311.42 500.52,311.42 499.31,311.42 498.09,311.42 496.88,311.42 495.66,311.42 494.45,311.42 493.23,311.42 492.01,311.42 490.8,311.42 490.79,311.42 489.58,311.42 488.37,311.42 487.15,311.42 485.94,311.41 484.72,311.41 483.51,311.41 482.29,311.41 481.08,311.41 479.86,311.41 478.65,311.41 477.43,311.41 476.22,311.41 475,311.41 473.79,311.41 472.57,311.41 471.36,311.41 470.14,311.41 468.93,311.41 467.71,311.41 466.5,311.41 466.49,311.41 465.28,311.4 464.07,311.4 462.85,311.4 461.64,311.4 460.42,311.4 459.21,311.4 457.99,311.4 456.78,311.4 455.56,311.39 454.35,311.39 453.13,311.39 451.92,311.39 450.7,311.39 449.49,311.39 448.27,311.38 447.06,311.38 445.84,311.38 444.63,311.38 443.41,311.37 442.2,311.37 442.19,311.37 440.98,311.37 439.77,311.37 438.55,311.36 437.34,311.36 436.12,311.36 434.91,311.35 433.69,311.35 432.48,311.34 431.26,311.34 430.05,311.34 428.83,311.33 427.62,311.33 426.4,311.32 425.19,311.31 423.97,311.31 422.76,311.3 421.54,311.29 420.33,311.29 419.11,311.28 417.9,311.27 417.89,311.27 416.68,311.26 415.47,311.25 414.25,311.24 413.04,311.23 411.82,311.22 410.61,311.21 409.39,311.2 408.18,311.19 406.96,311.17 405.75,311.16 404.53,311.14 403.32,311.13 402.1,311.11 400.89,311.09 399.67,311.08 398.46,311.06 397.24,311.03 396.03,311.01 394.81,310.99 393.6,310.96 393.59,310.96 392.38,310.94 391.17,310.91 389.95,310.88 388.74,310.85 387.52,310.82 386.31,310.78 385.09,310.74 383.88,310.71 382.66,310.66 381.45,310.62 380.23,310.58 379.02,310.53 377.8,310.48 376.59,310.42 375.37,310.36 374.16,310.3 372.94,310.24 371.73,310.17 370.51,310.1 369.3,310.02 369.29,310.02 368.08,309.94 366.87,309.86 365.65,309.77 364.44,309.67 363.22,309.57 362.01,309.47 360.79,309.35 359.58,309.23 358.36,309.11 357.15,308.98 355.93,308.84 354.72,308.69 353.5,308.53 352.29,308.36 351.07,308.19 349.86,308 348.64,307.81 347.43,307.6 346.21,307.38 345,307.15 344.39,307.02 343.78,306.9 343.18,306.77 342.57,306.64 341.96,306.51 341.35,306.37 340.75,306.22 340.14,306.08 339.53,305.92 338.92,305.77 338.32,305.61 337.71,305.44 337.1,305.27 336.5,305.1 335.89,304.92 335.28,304.74 334.67,304.55 334.06,304.35 333.46,304.15 332.85,303.95 332.24,303.73 331.63,303.52 331.03,303.29 330.42,303.06 329.81,302.83 329.2,302.58 328.6,302.33 327.99,302.08 327.38,301.81 326.77,301.54 326.17,301.26 325.56,300.97 324.95,300.67 324.34,300.37 323.74,300.06 323.13,299.73 322.52,299.4 321.91,299.06 321.31,298.71 320.7,298.35 320.09,298.02 319.48,297.68 318.88,297.33 318.27,296.97 317.66,296.59 317.05,296.21 316.45,295.81 315.84,295.4 315.23,294.98 314.62,294.54 314.02,294.09 313.41,293.63 312.8,293.15 312.19,292.66 311.59,292.15 310.98,291.63 310.37,291.09 309.76,290.53 309.16,289.96 308.55,289.37 307.94,288.76 307.33,288.14 306.73,287.49 306.12,286.83 305.51,286.1 304.9,285.36 304.3,284.59 303.69,283.81 303.08,283 302.47,282.17 301.87,281.31 301.26,280.43 300.65,279.53 300.04,278.6 299.44,277.64 298.83,276.65 298.22,276.65 297.61,276.65 297.01,276.65" fill="#ff7014" stroke="#ff7014" stroke-width="0.4" stroke-linejoin="round"/>
<line x1="297.25" y1="258.55" x2="297.25" y2="279.34" stroke="#ff7014" stroke-width="2.4"/>
<line x1="296.7" y1="215.04" x2="296.7" y2="285.83" stroke="#ff7014" stroke-width="0.9"/>
<circle cx="296.7" cy="215.04" r="1.0" fill="#ff7014"/>
<circle cx="296.7" cy="237.12" r="1.0" fill="#ff7014"/>
<circle cx="296.7" cy="249" r="1.0" fill="#ff7014"/>
<circle cx="296.7" cy="257.9" r="1.0" fill="#ff7014"/>
<circle cx="296.7" cy="264.4" r="1.0" fill="#ff7014"/>
<circle cx="296.7" cy="274.14" r="1.0" fill="#ff7014"/>
<circle cx="296.7" cy="280.63" r="1.0" fill="#ff7014"/>
<circle cx="296.7" cy="285.83" r="1.0" fill="#ff7014"/>
<line x1="345.6" y1="300.9" x2="345.6" y2="314.08" stroke="#ff7014" stroke-width="1.5"/>
<line x1="345.8" y1="300.9" x2="345.8" y2="304.8" stroke="#ff7014" stroke-width="2.2"/>
<circle cx="345.6" cy="300.9" r="1.15" fill="#ff7014"/>
<circle cx="345.6" cy="314.08" r="1.15" fill="#ff7014"/>
<line x1="369.9" y1="304.02" x2="369.9" y2="315.38" stroke="#ff7014" stroke-width="1.5"/>
<line x1="370.1" y1="304.02" x2="370.1" y2="307.91" stroke="#ff7014" stroke-width="2.2"/>
<circle cx="369.9" cy="304.02" r="1.15" fill="#ff7014"/>
<circle cx="369.9" cy="315.38" r="1.15" fill="#ff7014"/>
<line x1="394.2" y1="304.02" x2="394.2" y2="317.01" stroke="#ff7014" stroke-width="1.5"/>
<line x1="394.4" y1="304.02" x2="394.4" y2="307.91" stroke="#ff7014" stroke-width="2.2"/>
<circle cx="394.2" cy="304.02" r="1.15" fill="#ff7014"/>
<circle cx="394.2" cy="317.01" r="1.15" fill="#ff7014"/>
<line x1="418.5" y1="306.03" x2="418.5" y2="315.84" stroke="#ff7014" stroke-width="1.5"/>
<line x1="418.7" y1="306.03" x2="418.7" y2="309.93" stroke="#ff7014" stroke-width="2.2"/>
<circle cx="418.5" cy="306.03" r="1.15" fill="#ff7014"/>
<circle cx="418.5" cy="315.84" r="1.15" fill="#ff7014"/>
<line x1="442.8" y1="306.23" x2="442.8" y2="316.94" stroke="#ff7014" stroke-width="1.5"/>
<line x1="443" y1="306.23" x2="443" y2="310.12" stroke="#ff7014" stroke-width="2.2"/>
<circle cx="442.8" cy="306.23" r="1.15" fill="#ff7014"/>
<circle cx="442.8" cy="316.94" r="1.15" fill="#ff7014"/>
<line x1="467.1" y1="306.23" x2="467.1" y2="315.71" stroke="#ff7014" stroke-width="1.5"/>
<line x1="467.3" y1="306.23" x2="467.3" y2="310.12" stroke="#ff7014" stroke-width="2.2"/>
<circle cx="467.1" cy="306.23" r="1.15" fill="#ff7014"/>
<circle cx="467.1" cy="315.71" r="1.15" fill="#ff7014"/>
<line x1="491.4" y1="306.23" x2="491.4" y2="317.53" stroke="#ff7014" stroke-width="1.5"/>
<line x1="491.6" y1="306.23" x2="491.6" y2="310.12" stroke="#ff7014" stroke-width="2.2"/>
<circle cx="491.4" cy="306.23" r="1.15" fill="#ff7014"/>
<circle cx="491.4" cy="317.53" r="1.15" fill="#ff7014"/>
<line x1="515.7" y1="306.23" x2="515.7" y2="315.71" stroke="#ff7014" stroke-width="1.5"/>
<line x1="515.9" y1="306.23" x2="515.9" y2="310.12" stroke="#ff7014" stroke-width="2.2"/>
<circle cx="515.7" cy="306.23" r="1.15" fill="#ff7014"/>
<circle cx="515.7" cy="315.71" r="1.15" fill="#ff7014"/>
<text x="130.8" y="188.4" font-size="14.6" text-anchor="middle" font-family="Liberation Serif, serif" font-weight="bold" fill="#111">(a)</text>
<text x="410.6" y="188.8" font-size="14.6" text-anchor="middle" font-family="Liberation Serif, serif" font-weight="bold" fill="#111">(b)</text>
<text x="130.8" y="373.9" font-size="14.6" text-anchor="middle" font-family="Liberation Serif, serif" font-weight="bold" fill="#111">(c)</text>
<text x="410.6" y="374.4" font-size="14.6" text-anchor="middle" font-family="Liberation Serif, serif" font-weight="bold" fill="#111">(d)</text>
</svg></body></html>
